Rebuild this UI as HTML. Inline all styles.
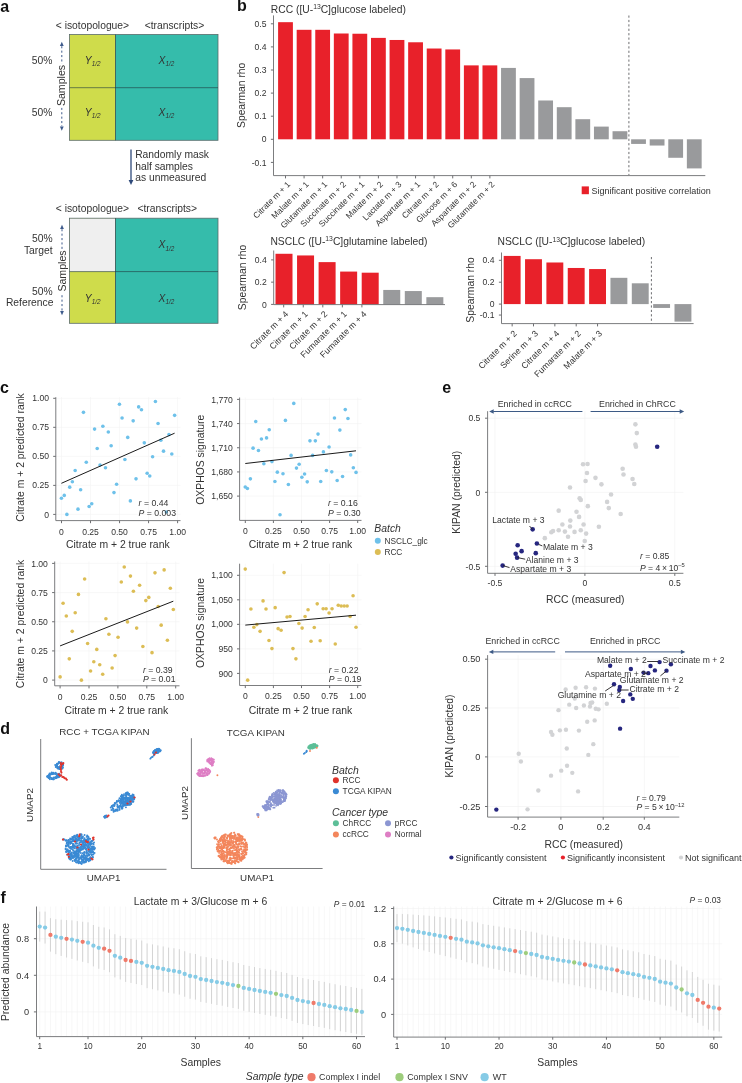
<!DOCTYPE html>
<html><head><meta charset="utf-8"><style>
html,body{margin:0;padding:0;background:#fff;}
svg{display:block;font-family:"Liberation Sans", sans-serif;will-change:transform;}
</style></head><body>
<svg width="742" height="1083" viewBox="0 0 742 1083">
<rect width="742" height="1083" fill="#fff"/>
<text transform="translate(0.30 11.80) scale(1 1)" font-size="16" font-weight="bold" fill="#111">a</text>
<text x="55.80" y="28.80" font-size="10.3" fill="#333333">&lt; isotopologue&gt;</text>
<text x="144.70" y="28.80" font-size="10.3" fill="#333333">&lt;transcripts&gt;</text>
<rect x="69.50" y="34.50" width="46.00" height="105.80" fill="#cfdc4b"/>
<rect x="115.50" y="34.50" width="102.50" height="105.80" fill="#35bcab"/>
<rect x="69.5" y="34.5" width="148.5" height="105.80000000000001" fill="none" stroke="#5a6b6b" stroke-width="0.8"/>
<line x1="69.50" y1="87.70" x2="218.00" y2="87.70" stroke="#1f3a40" stroke-width="1.0" stroke-opacity="0.6"/>
<line x1="115.50" y1="34.50" x2="115.50" y2="140.30" stroke="#1f3a40" stroke-width="1.0" stroke-opacity="0.7"/>
<text x="52.40" y="63.50" font-size="10.3" text-anchor="end" fill="#333333">50%</text>
<text x="52.40" y="115.60" font-size="10.3" text-anchor="end" fill="#333333">50%</text>
<text x="84.80" y="63.50" font-size="10.3" font-style="italic" fill="#333333">Y<tspan font-size="6.39" dy="2.8">1/2</tspan></text>
<text x="84.80" y="115.60" font-size="10.3" font-style="italic" fill="#333333">Y<tspan font-size="6.39" dy="2.8">1/2</tspan></text>
<text x="158.50" y="63.50" font-size="10.3" font-style="italic" fill="#333333">X<tspan font-size="6.39" dy="2.8">1/2</tspan></text>
<text x="158.50" y="115.60" font-size="10.3" font-style="italic" fill="#333333">X<tspan font-size="6.39" dy="2.8">1/2</tspan></text>
<line x1="61.80" y1="46.20" x2="61.80" y2="126.20" stroke="#3f5b8c" stroke-width="1.0" stroke-dasharray="2.1,2.3"/>
<path d="M59.9,45.900000000000006 L61.8,41.7 L63.699999999999996,45.900000000000006 Z" fill="#3f5b8c" stroke="none" stroke-width="1"/>
<path d="M59.9,126.49999999999999 L61.8,130.7 L63.699999999999996,126.49999999999999 Z" fill="#3f5b8c" stroke="none" stroke-width="1"/>
<rect x="56.80" y="63.50" width="10.00" height="44.00" fill="#fff"/>
<text x="65.40" y="85.50" font-size="10.6" text-anchor="middle" fill="#333333" transform="rotate(-90 65.40 85.50)">Samples</text>
<line x1="131.00" y1="149.50" x2="131.00" y2="181.00" stroke="#2f4a7a" stroke-width="1.3"/>
<path d="M128.6,180 L131,185 L133.4,180 Z" fill="#2f4a7a" stroke="none" stroke-width="1"/>
<text x="135.20" y="157.80" font-size="10.3" fill="#333333">Randomly mask</text>
<text x="135.20" y="169.60" font-size="10.3" fill="#333333">half samples</text>
<text x="135.20" y="181.40" font-size="10.3" fill="#333333">as unmeasured</text>
<text x="55.80" y="211.60" font-size="10.3" fill="#333333">&lt; isotopologue&gt;</text>
<text x="137.50" y="211.60" font-size="10.3" fill="#333333">&lt;transcripts&gt;</text>
<rect x="69.50" y="218.20" width="46.00" height="105.10" fill="#cfdc4b"/>
<rect x="69.50" y="218.20" width="46.00" height="53.40" fill="#efefef"/>
<rect x="115.50" y="218.20" width="102.50" height="105.10" fill="#35bcab"/>
<rect x="69.5" y="218.2" width="148.5" height="105.10000000000002" fill="none" stroke="#5a6b6b" stroke-width="0.8"/>
<line x1="69.50" y1="271.60" x2="218.00" y2="271.60" stroke="#1f3a40" stroke-width="1.0" stroke-opacity="0.6"/>
<line x1="115.50" y1="218.20" x2="115.50" y2="323.30" stroke="#1f3a40" stroke-width="1.0" stroke-opacity="0.7"/>
<text x="52.60" y="242.30" font-size="10.3" text-anchor="end" fill="#333333">50%</text>
<text x="52.60" y="253.90" font-size="10.3" text-anchor="end" fill="#333333">Target</text>
<text x="52.60" y="295.00" font-size="10.3" text-anchor="end" fill="#333333">50%</text>
<text x="53.40" y="306.40" font-size="10.3" text-anchor="end" fill="#333333">Reference</text>
<text x="158.50" y="248.30" font-size="10.3" font-style="italic" fill="#333333">X<tspan font-size="6.39" dy="2.8">1/2</tspan></text>
<text x="158.50" y="301.50" font-size="10.3" font-style="italic" fill="#333333">X<tspan font-size="6.39" dy="2.8">1/2</tspan></text>
<text x="84.80" y="301.50" font-size="10.3" font-style="italic" fill="#333333">Y<tspan font-size="6.39" dy="2.8">1/2</tspan></text>
<line x1="62.00" y1="229.20" x2="62.00" y2="310.70" stroke="#3f5b8c" stroke-width="1.0" stroke-dasharray="2.1,2.3"/>
<path d="M60.1,228.89999999999998 L62.0,224.7 L63.9,228.89999999999998 Z" fill="#3f5b8c" stroke="none" stroke-width="1"/>
<path d="M60.1,311.0 L62.0,315.2 L63.9,311.0 Z" fill="#3f5b8c" stroke="none" stroke-width="1"/>
<rect x="57.00" y="249.00" width="10.00" height="44.00" fill="#fff"/>
<text x="65.60" y="271.00" font-size="10.6" text-anchor="middle" fill="#333333" transform="rotate(-90 65.60 271.00)">Samples</text>
<text transform="translate(237.00 11.40) scale(1 1)" font-size="16" font-weight="bold" fill="#111">b</text>
<text x="270.80" y="12.60" font-size="10.3" fill="#333333">RCC ([U-<tspan font-size="6.80" dy="-3.8">13</tspan><tspan dy="3.8">C]glucose labeled)</tspan></text>
<g>
<line x1="270.90" y1="23.80" x2="273.50" y2="23.80" stroke="#6d6e71" stroke-width="1.0"/>
<text x="266.50" y="26.90" font-size="8.6" text-anchor="end" fill="#333333">0.5</text>
<line x1="270.90" y1="46.90" x2="273.50" y2="46.90" stroke="#6d6e71" stroke-width="1.0"/>
<text x="266.50" y="50.00" font-size="8.6" text-anchor="end" fill="#333333">0.4</text>
<line x1="270.90" y1="70.00" x2="273.50" y2="70.00" stroke="#6d6e71" stroke-width="1.0"/>
<text x="266.50" y="73.10" font-size="8.6" text-anchor="end" fill="#333333">0.3</text>
<line x1="270.90" y1="93.10" x2="273.50" y2="93.10" stroke="#6d6e71" stroke-width="1.0"/>
<text x="266.50" y="96.20" font-size="8.6" text-anchor="end" fill="#333333">0.2</text>
<line x1="270.90" y1="116.20" x2="273.50" y2="116.20" stroke="#6d6e71" stroke-width="1.0"/>
<text x="266.50" y="119.30" font-size="8.6" text-anchor="end" fill="#333333">0.1</text>
<line x1="270.90" y1="139.30" x2="273.50" y2="139.30" stroke="#6d6e71" stroke-width="1.0"/>
<text x="266.50" y="142.40" font-size="8.6" text-anchor="end" fill="#333333">0</text>
<line x1="270.90" y1="162.40" x2="273.50" y2="162.40" stroke="#6d6e71" stroke-width="1.0"/>
<text x="266.50" y="165.50" font-size="8.6" text-anchor="end" fill="#333333">-0.1</text>
<rect x="278.10" y="22.18" width="14.80" height="117.12" fill="#e8212a"/>
<rect x="296.68" y="29.81" width="14.80" height="109.49" fill="#e8212a"/>
<rect x="315.26" y="29.81" width="14.80" height="109.49" fill="#e8212a"/>
<rect x="333.84" y="33.50" width="14.80" height="105.80" fill="#e8212a"/>
<rect x="352.42" y="33.73" width="14.80" height="105.57" fill="#e8212a"/>
<rect x="371.00" y="37.89" width="14.80" height="101.41" fill="#e8212a"/>
<rect x="389.58" y="39.97" width="14.80" height="99.33" fill="#e8212a"/>
<rect x="408.16" y="42.28" width="14.80" height="97.02" fill="#e8212a"/>
<rect x="426.74" y="48.52" width="14.80" height="90.78" fill="#e8212a"/>
<rect x="445.32" y="49.44" width="14.80" height="89.86" fill="#e8212a"/>
<rect x="463.90" y="65.38" width="14.80" height="73.92" fill="#e8212a"/>
<rect x="482.48" y="65.38" width="14.80" height="73.92" fill="#e8212a"/>
<rect x="501.06" y="67.92" width="14.80" height="71.38" fill="#999a9c"/>
<rect x="519.64" y="78.09" width="14.80" height="61.22" fill="#999a9c"/>
<rect x="538.22" y="100.49" width="14.80" height="38.81" fill="#999a9c"/>
<rect x="556.80" y="107.19" width="14.80" height="32.11" fill="#999a9c"/>
<rect x="575.38" y="119.20" width="14.80" height="20.10" fill="#999a9c"/>
<rect x="593.96" y="126.60" width="14.80" height="12.71" fill="#999a9c"/>
<rect x="612.54" y="131.22" width="14.80" height="8.09" fill="#999a9c"/>
<rect x="631.12" y="139.30" width="14.80" height="4.62" fill="#999a9c"/>
<rect x="649.70" y="139.30" width="14.80" height="6.24" fill="#999a9c"/>
<rect x="668.28" y="139.30" width="14.80" height="18.48" fill="#999a9c"/>
<rect x="686.86" y="139.30" width="14.80" height="29.11" fill="#999a9c"/>
<line x1="273.50" y1="15.40" x2="273.50" y2="175.60" stroke="#6d6e71" stroke-width="0.9"/>
<line x1="273.50" y1="175.60" x2="705.30" y2="175.60" stroke="#6d6e71" stroke-width="0.9"/>
<line x1="285.50" y1="175.60" x2="285.50" y2="178.40" stroke="#6d6e71" stroke-width="1.0"/>
<text x="290.70" y="184.90" font-size="8.4" text-anchor="end" fill="#333333" transform="rotate(-45 290.70 184.90)">Citrate m + 1</text>
<line x1="304.08" y1="175.60" x2="304.08" y2="178.40" stroke="#6d6e71" stroke-width="1.0"/>
<text x="309.28" y="184.90" font-size="8.4" text-anchor="end" fill="#333333" transform="rotate(-45 309.28 184.90)">Malate m + 1</text>
<line x1="322.66" y1="175.60" x2="322.66" y2="178.40" stroke="#6d6e71" stroke-width="1.0"/>
<text x="327.86" y="184.90" font-size="8.4" text-anchor="end" fill="#333333" transform="rotate(-45 327.86 184.90)">Glutamate m + 1</text>
<line x1="341.24" y1="175.60" x2="341.24" y2="178.40" stroke="#6d6e71" stroke-width="1.0"/>
<text x="346.44" y="184.90" font-size="8.4" text-anchor="end" fill="#333333" transform="rotate(-45 346.44 184.90)">Succinate m + 2</text>
<line x1="359.82" y1="175.60" x2="359.82" y2="178.40" stroke="#6d6e71" stroke-width="1.0"/>
<text x="365.02" y="184.90" font-size="8.4" text-anchor="end" fill="#333333" transform="rotate(-45 365.02 184.90)">Succinate m + 1</text>
<line x1="378.40" y1="175.60" x2="378.40" y2="178.40" stroke="#6d6e71" stroke-width="1.0"/>
<text x="383.60" y="184.90" font-size="8.4" text-anchor="end" fill="#333333" transform="rotate(-45 383.60 184.90)">Malate m + 2</text>
<line x1="396.98" y1="175.60" x2="396.98" y2="178.40" stroke="#6d6e71" stroke-width="1.0"/>
<text x="402.18" y="184.90" font-size="8.4" text-anchor="end" fill="#333333" transform="rotate(-45 402.18 184.90)">Lactate m + 3</text>
<line x1="415.56" y1="175.60" x2="415.56" y2="178.40" stroke="#6d6e71" stroke-width="1.0"/>
<text x="420.76" y="184.90" font-size="8.4" text-anchor="end" fill="#333333" transform="rotate(-45 420.76 184.90)">Aspartate m + 1</text>
<line x1="434.14" y1="175.60" x2="434.14" y2="178.40" stroke="#6d6e71" stroke-width="1.0"/>
<text x="439.34" y="184.90" font-size="8.4" text-anchor="end" fill="#333333" transform="rotate(-45 439.34 184.90)">Citrate m + 2</text>
<line x1="452.72" y1="175.60" x2="452.72" y2="178.40" stroke="#6d6e71" stroke-width="1.0"/>
<text x="457.92" y="184.90" font-size="8.4" text-anchor="end" fill="#333333" transform="rotate(-45 457.92 184.90)">Glucose m + 6</text>
<line x1="471.30" y1="175.60" x2="471.30" y2="178.40" stroke="#6d6e71" stroke-width="1.0"/>
<text x="476.50" y="184.90" font-size="8.4" text-anchor="end" fill="#333333" transform="rotate(-45 476.50 184.90)">Aspartate m + 2</text>
<line x1="489.88" y1="175.60" x2="489.88" y2="178.40" stroke="#6d6e71" stroke-width="1.0"/>
<text x="495.08" y="184.90" font-size="8.4" text-anchor="end" fill="#333333" transform="rotate(-45 495.08 184.90)">Glutamate m + 2</text>
</g>
<line x1="628.90" y1="15.50" x2="628.90" y2="175.10" stroke="#6d6e71" stroke-width="1.0" stroke-dasharray="2.2,2.2"/>
<text x="244.60" y="95.30" font-size="10.3" text-anchor="middle" fill="#333333" transform="rotate(-90 244.60 95.30)">Spearman rho</text>
<rect x="581.70" y="186.40" width="7.20" height="7.80" fill="#e8212a"/>
<text x="591.60" y="193.60" font-size="9.0" fill="#333333">Significant positive correlation</text>
<text x="270.40" y="245.20" font-size="10.3" fill="#333333">NSCLC ([U-<tspan font-size="6.80" dy="-3.8">13</tspan><tspan dy="3.8">C]glutamine labeled)</tspan></text>
<line x1="271.10" y1="259.90" x2="273.70" y2="259.90" stroke="#6d6e71" stroke-width="1.0"/>
<text x="266.70" y="263.00" font-size="8.6" text-anchor="end" fill="#333333">0.4</text>
<line x1="271.10" y1="282.15" x2="273.70" y2="282.15" stroke="#6d6e71" stroke-width="1.0"/>
<text x="266.70" y="285.25" font-size="8.6" text-anchor="end" fill="#333333">0.2</text>
<line x1="271.10" y1="304.40" x2="273.70" y2="304.40" stroke="#6d6e71" stroke-width="1.0"/>
<text x="266.70" y="307.50" font-size="8.6" text-anchor="end" fill="#333333">0</text>
<rect x="275.50" y="253.78" width="17.00" height="50.62" fill="#e8212a"/>
<rect x="297.05" y="255.45" width="17.00" height="48.95" fill="#e8212a"/>
<rect x="318.60" y="262.12" width="17.00" height="42.27" fill="#e8212a"/>
<rect x="340.15" y="271.58" width="17.00" height="32.82" fill="#e8212a"/>
<rect x="361.70" y="272.69" width="17.00" height="31.71" fill="#e8212a"/>
<rect x="383.25" y="289.94" width="17.00" height="14.46" fill="#999a9c"/>
<rect x="404.80" y="291.05" width="17.00" height="13.35" fill="#999a9c"/>
<rect x="426.35" y="297.17" width="17.00" height="7.23" fill="#999a9c"/>
<line x1="273.70" y1="250.50" x2="273.70" y2="304.60" stroke="#6d6e71" stroke-width="0.9"/>
<line x1="273.70" y1="304.60" x2="445.00" y2="304.60" stroke="#6d6e71" stroke-width="0.9"/>
<line x1="283.70" y1="304.60" x2="283.70" y2="307.40" stroke="#6d6e71" stroke-width="1.0"/>
<text x="288.90" y="314.60" font-size="8.7" text-anchor="end" fill="#333333" transform="rotate(-45 288.90 314.60)">Citrate m + 4</text>
<line x1="303.25" y1="304.60" x2="303.25" y2="307.40" stroke="#6d6e71" stroke-width="1.0"/>
<text x="308.45" y="314.60" font-size="8.7" text-anchor="end" fill="#333333" transform="rotate(-45 308.45 314.60)">Citrate m + 1</text>
<line x1="322.80" y1="304.60" x2="322.80" y2="307.40" stroke="#6d6e71" stroke-width="1.0"/>
<text x="328.00" y="314.60" font-size="8.7" text-anchor="end" fill="#333333" transform="rotate(-45 328.00 314.60)">Citrate m + 2</text>
<line x1="342.35" y1="304.60" x2="342.35" y2="307.40" stroke="#6d6e71" stroke-width="1.0"/>
<text x="347.55" y="314.60" font-size="8.7" text-anchor="end" fill="#333333" transform="rotate(-45 347.55 314.60)">Fumarate m + 1</text>
<line x1="361.90" y1="304.60" x2="361.90" y2="307.40" stroke="#6d6e71" stroke-width="1.0"/>
<text x="367.10" y="314.60" font-size="8.7" text-anchor="end" fill="#333333" transform="rotate(-45 367.10 314.60)">Fumarate m + 4</text>
<text x="245.60" y="277.50" font-size="10.3" text-anchor="middle" fill="#333333" transform="rotate(-90 245.60 277.50)">Spearman rho</text>
<text x="497.50" y="245.40" font-size="10.3" fill="#333333">NSCLC ([U-<tspan font-size="6.80" dy="-3.8">13</tspan><tspan dy="3.8">C]glucose labeled)</tspan></text>
<line x1="498.90" y1="260.30" x2="501.50" y2="260.30" stroke="#6d6e71" stroke-width="1.0"/>
<text x="494.50" y="263.40" font-size="8.6" text-anchor="end" fill="#333333">0.4</text>
<line x1="498.90" y1="282.20" x2="501.50" y2="282.20" stroke="#6d6e71" stroke-width="1.0"/>
<text x="494.50" y="285.30" font-size="8.6" text-anchor="end" fill="#333333">0.2</text>
<line x1="498.90" y1="304.10" x2="501.50" y2="304.10" stroke="#6d6e71" stroke-width="1.0"/>
<text x="494.50" y="307.20" font-size="8.6" text-anchor="end" fill="#333333">0</text>
<line x1="498.90" y1="315.05" x2="501.50" y2="315.05" stroke="#6d6e71" stroke-width="1.0"/>
<text x="494.50" y="318.15" font-size="8.6" text-anchor="end" fill="#333333">-0.1</text>
<rect x="503.70" y="255.92" width="16.90" height="48.18" fill="#e8212a"/>
<rect x="525.05" y="259.21" width="16.90" height="44.90" fill="#e8212a"/>
<rect x="546.40" y="262.49" width="16.90" height="41.61" fill="#e8212a"/>
<rect x="567.75" y="267.97" width="16.90" height="36.14" fill="#e8212a"/>
<rect x="589.10" y="269.06" width="16.90" height="35.04" fill="#e8212a"/>
<rect x="610.45" y="277.82" width="16.90" height="26.28" fill="#999a9c"/>
<rect x="631.80" y="283.30" width="16.90" height="20.81" fill="#999a9c"/>
<rect x="653.15" y="304.10" width="16.90" height="3.83" fill="#999a9c"/>
<rect x="674.50" y="304.10" width="16.90" height="17.52" fill="#999a9c"/>
<line x1="501.50" y1="252.50" x2="501.50" y2="323.60" stroke="#6d6e71" stroke-width="0.9"/>
<line x1="501.50" y1="323.60" x2="693.60" y2="323.60" stroke="#6d6e71" stroke-width="0.9"/>
<line x1="512.15" y1="323.60" x2="512.15" y2="326.40" stroke="#6d6e71" stroke-width="1.0"/>
<text x="517.35" y="334.10" font-size="8.7" text-anchor="end" fill="#333333" transform="rotate(-45 517.35 334.10)">Citrate m + 2</text>
<line x1="533.50" y1="323.60" x2="533.50" y2="326.40" stroke="#6d6e71" stroke-width="1.0"/>
<text x="538.70" y="334.10" font-size="8.7" text-anchor="end" fill="#333333" transform="rotate(-45 538.70 334.10)">Serine m + 3</text>
<line x1="554.85" y1="323.60" x2="554.85" y2="326.40" stroke="#6d6e71" stroke-width="1.0"/>
<text x="560.05" y="334.10" font-size="8.7" text-anchor="end" fill="#333333" transform="rotate(-45 560.05 334.10)">Citrate m + 4</text>
<line x1="576.20" y1="323.60" x2="576.20" y2="326.40" stroke="#6d6e71" stroke-width="1.0"/>
<text x="581.40" y="334.10" font-size="8.7" text-anchor="end" fill="#333333" transform="rotate(-45 581.40 334.10)">Fumarate m + 2</text>
<line x1="597.55" y1="323.60" x2="597.55" y2="326.40" stroke="#6d6e71" stroke-width="1.0"/>
<text x="602.75" y="334.10" font-size="8.7" text-anchor="end" fill="#333333" transform="rotate(-45 602.75 334.10)">Malate m + 3</text>
<line x1="651.40" y1="257.00" x2="651.40" y2="323.60" stroke="#6d6e71" stroke-width="1.0" stroke-dasharray="2.2,2.2"/>
<text x="474.00" y="290.00" font-size="10.3" text-anchor="middle" fill="#333333" transform="rotate(-90 474.00 290.00)">Spearman rho</text>
<text transform="translate(0.00 392.90) scale(1 1)" font-size="16" font-weight="bold" fill="#111">c</text>
<line x1="61.50" y1="397.20" x2="61.50" y2="520.60" stroke="#f3f3f3" stroke-width="0.6"/>
<line x1="90.53" y1="397.20" x2="90.53" y2="520.60" stroke="#f3f3f3" stroke-width="0.6"/>
<line x1="119.55" y1="397.20" x2="119.55" y2="520.60" stroke="#f3f3f3" stroke-width="0.6"/>
<line x1="148.57" y1="397.20" x2="148.57" y2="520.60" stroke="#f3f3f3" stroke-width="0.6"/>
<line x1="177.60" y1="397.20" x2="177.60" y2="520.60" stroke="#f3f3f3" stroke-width="0.6"/>
<line x1="55.80" y1="514.40" x2="180.50" y2="514.40" stroke="#f3f3f3" stroke-width="0.6"/>
<line x1="55.80" y1="485.38" x2="180.50" y2="485.38" stroke="#f3f3f3" stroke-width="0.6"/>
<line x1="55.80" y1="456.35" x2="180.50" y2="456.35" stroke="#f3f3f3" stroke-width="0.6"/>
<line x1="55.80" y1="427.32" x2="180.50" y2="427.32" stroke="#f3f3f3" stroke-width="0.6"/>
<line x1="55.80" y1="398.30" x2="180.50" y2="398.30" stroke="#f3f3f3" stroke-width="0.6"/>
<circle cx="61.43" cy="498.25" r="1.8" fill="#6ec1ea"/>
<circle cx="64.26" cy="495.42" r="1.8" fill="#6ec1ea"/>
<circle cx="66.88" cy="514.42" r="1.8" fill="#6ec1ea"/>
<circle cx="69.71" cy="487.14" r="1.8" fill="#6ec1ea"/>
<circle cx="72.34" cy="481.68" r="1.8" fill="#6ec1ea"/>
<circle cx="75.17" cy="470.56" r="1.8" fill="#6ec1ea"/>
<circle cx="78.00" cy="509.17" r="1.8" fill="#6ec1ea"/>
<circle cx="80.63" cy="489.76" r="1.8" fill="#6ec1ea"/>
<circle cx="83.46" cy="412.34" r="1.8" fill="#6ec1ea"/>
<circle cx="86.29" cy="462.27" r="1.8" fill="#6ec1ea"/>
<circle cx="89.12" cy="506.54" r="1.8" fill="#6ec1ea"/>
<circle cx="91.75" cy="503.71" r="1.8" fill="#6ec1ea"/>
<circle cx="94.58" cy="429.12" r="1.8" fill="#6ec1ea"/>
<circle cx="97.21" cy="448.53" r="1.8" fill="#6ec1ea"/>
<circle cx="100.04" cy="465.10" r="1.8" fill="#6ec1ea"/>
<circle cx="102.87" cy="426.29" r="1.8" fill="#6ec1ea"/>
<circle cx="105.49" cy="467.73" r="1.8" fill="#6ec1ea"/>
<circle cx="108.32" cy="431.95" r="1.8" fill="#6ec1ea"/>
<circle cx="111.15" cy="445.70" r="1.8" fill="#6ec1ea"/>
<circle cx="113.98" cy="492.59" r="1.8" fill="#6ec1ea"/>
<circle cx="116.61" cy="484.31" r="1.8" fill="#6ec1ea"/>
<circle cx="119.44" cy="404.26" r="1.8" fill="#6ec1ea"/>
<circle cx="122.07" cy="418.00" r="1.8" fill="#6ec1ea"/>
<circle cx="124.90" cy="459.44" r="1.8" fill="#6ec1ea"/>
<circle cx="127.73" cy="437.41" r="1.8" fill="#6ec1ea"/>
<circle cx="130.36" cy="500.88" r="1.8" fill="#6ec1ea"/>
<circle cx="133.19" cy="420.83" r="1.8" fill="#6ec1ea"/>
<circle cx="136.02" cy="478.85" r="1.8" fill="#6ec1ea"/>
<circle cx="138.65" cy="406.88" r="1.8" fill="#6ec1ea"/>
<circle cx="141.48" cy="409.71" r="1.8" fill="#6ec1ea"/>
<circle cx="144.31" cy="442.87" r="1.8" fill="#6ec1ea"/>
<circle cx="147.14" cy="473.19" r="1.8" fill="#6ec1ea"/>
<circle cx="149.76" cy="476.02" r="1.8" fill="#6ec1ea"/>
<circle cx="152.59" cy="456.81" r="1.8" fill="#6ec1ea"/>
<circle cx="155.42" cy="401.43" r="1.8" fill="#6ec1ea"/>
<circle cx="158.05" cy="423.46" r="1.8" fill="#6ec1ea"/>
<circle cx="160.88" cy="440.24" r="1.8" fill="#6ec1ea"/>
<circle cx="163.51" cy="451.15" r="1.8" fill="#6ec1ea"/>
<circle cx="166.34" cy="512.00" r="1.8" fill="#6ec1ea"/>
<circle cx="168.97" cy="434.58" r="1.8" fill="#6ec1ea"/>
<circle cx="171.80" cy="453.98" r="1.8" fill="#6ec1ea"/>
<circle cx="174.63" cy="415.37" r="1.8" fill="#6ec1ea"/>
<line x1="61.40" y1="483.30" x2="174.60" y2="433.20" stroke="#1a1a1a" stroke-width="1.0"/>
<line x1="55.80" y1="397.20" x2="55.80" y2="520.60" stroke="#6d6e71" stroke-width="0.9"/>
<line x1="55.80" y1="520.60" x2="180.50" y2="520.60" stroke="#6d6e71" stroke-width="0.9"/>
<line x1="61.50" y1="520.60" x2="61.50" y2="523.20" stroke="#6d6e71" stroke-width="1.0"/>
<text x="61.50" y="534.50" font-size="8.6" text-anchor="middle" fill="#333333">0</text>
<line x1="90.53" y1="520.60" x2="90.53" y2="523.20" stroke="#6d6e71" stroke-width="1.0"/>
<text x="90.53" y="534.50" font-size="8.6" text-anchor="middle" fill="#333333">0.25</text>
<line x1="119.55" y1="520.60" x2="119.55" y2="523.20" stroke="#6d6e71" stroke-width="1.0"/>
<text x="119.55" y="534.50" font-size="8.6" text-anchor="middle" fill="#333333">0.50</text>
<line x1="148.57" y1="520.60" x2="148.57" y2="523.20" stroke="#6d6e71" stroke-width="1.0"/>
<text x="148.57" y="534.50" font-size="8.6" text-anchor="middle" fill="#333333">0.75</text>
<line x1="177.60" y1="520.60" x2="177.60" y2="523.20" stroke="#6d6e71" stroke-width="1.0"/>
<text x="177.60" y="534.50" font-size="8.6" text-anchor="middle" fill="#333333">1.00</text>
<line x1="53.20" y1="514.40" x2="55.80" y2="514.40" stroke="#6d6e71" stroke-width="1.0"/>
<text x="49.00" y="517.50" font-size="8.6" text-anchor="end" fill="#333333">0</text>
<line x1="53.20" y1="485.38" x2="55.80" y2="485.38" stroke="#6d6e71" stroke-width="1.0"/>
<text x="49.00" y="488.48" font-size="8.6" text-anchor="end" fill="#333333">0.25</text>
<line x1="53.20" y1="456.35" x2="55.80" y2="456.35" stroke="#6d6e71" stroke-width="1.0"/>
<text x="49.00" y="459.45" font-size="8.6" text-anchor="end" fill="#333333">0.50</text>
<line x1="53.20" y1="427.32" x2="55.80" y2="427.32" stroke="#6d6e71" stroke-width="1.0"/>
<text x="49.00" y="430.43" font-size="8.6" text-anchor="end" fill="#333333">0.75</text>
<line x1="53.20" y1="398.30" x2="55.80" y2="398.30" stroke="#6d6e71" stroke-width="1.0"/>
<text x="49.00" y="401.40" font-size="8.6" text-anchor="end" fill="#333333">1.00</text>
<text x="138.60" y="506.10" font-size="8.7" fill="#333333"><tspan font-style="italic">r</tspan> = 0.44</text>
<text x="138.60" y="515.70" font-size="8.7" fill="#333333"><tspan font-style="italic">P</tspan> = 0.003</text>
<text x="117.80" y="548.20" font-size="10.4" text-anchor="middle" fill="#333333">Citrate m + 2 true rank</text>
<text x="23.70" y="457.60" font-size="10.4" text-anchor="middle" fill="#333333" transform="rotate(-90 23.70 457.60)">Citrate m + 2 predicted rank</text>
<line x1="245.30" y1="397.50" x2="245.30" y2="520.40" stroke="#f3f3f3" stroke-width="0.6"/>
<line x1="273.40" y1="397.50" x2="273.40" y2="520.40" stroke="#f3f3f3" stroke-width="0.6"/>
<line x1="301.50" y1="397.50" x2="301.50" y2="520.40" stroke="#f3f3f3" stroke-width="0.6"/>
<line x1="329.60" y1="397.50" x2="329.60" y2="520.40" stroke="#f3f3f3" stroke-width="0.6"/>
<line x1="357.70" y1="397.50" x2="357.70" y2="520.40" stroke="#f3f3f3" stroke-width="0.6"/>
<line x1="239.60" y1="399.40" x2="361.50" y2="399.40" stroke="#f3f3f3" stroke-width="0.6"/>
<line x1="239.60" y1="423.57" x2="361.50" y2="423.57" stroke="#f3f3f3" stroke-width="0.6"/>
<line x1="239.60" y1="447.75" x2="361.50" y2="447.75" stroke="#f3f3f3" stroke-width="0.6"/>
<line x1="239.60" y1="471.93" x2="361.50" y2="471.93" stroke="#f3f3f3" stroke-width="0.6"/>
<line x1="239.60" y1="496.10" x2="361.50" y2="496.10" stroke="#f3f3f3" stroke-width="0.6"/>
<circle cx="245.26" cy="486.95" r="1.8" fill="#6ec1ea"/>
<circle cx="247.41" cy="488.57" r="1.8" fill="#6ec1ea"/>
<circle cx="250.38" cy="478.87" r="1.8" fill="#6ec1ea"/>
<circle cx="253.07" cy="448.14" r="1.8" fill="#6ec1ea"/>
<circle cx="255.77" cy="421.46" r="1.8" fill="#6ec1ea"/>
<circle cx="258.46" cy="450.57" r="1.8" fill="#6ec1ea"/>
<circle cx="261.43" cy="438.98" r="1.8" fill="#6ec1ea"/>
<circle cx="263.85" cy="463.77" r="1.8" fill="#6ec1ea"/>
<circle cx="266.55" cy="437.90" r="1.8" fill="#6ec1ea"/>
<circle cx="269.25" cy="429.81" r="1.8" fill="#6ec1ea"/>
<circle cx="271.94" cy="461.62" r="1.8" fill="#6ec1ea"/>
<circle cx="274.91" cy="481.56" r="1.8" fill="#6ec1ea"/>
<circle cx="277.33" cy="472.13" r="1.8" fill="#6ec1ea"/>
<circle cx="280.03" cy="514.72" r="1.8" fill="#6ec1ea"/>
<circle cx="282.99" cy="473.75" r="1.8" fill="#6ec1ea"/>
<circle cx="285.42" cy="420.38" r="1.8" fill="#6ec1ea"/>
<circle cx="288.38" cy="484.53" r="1.8" fill="#6ec1ea"/>
<circle cx="291.08" cy="455.42" r="1.8" fill="#6ec1ea"/>
<circle cx="293.77" cy="403.40" r="1.8" fill="#6ec1ea"/>
<circle cx="296.47" cy="468.09" r="1.8" fill="#6ec1ea"/>
<circle cx="299.16" cy="464.31" r="1.8" fill="#6ec1ea"/>
<circle cx="301.86" cy="477.25" r="1.8" fill="#6ec1ea"/>
<circle cx="304.56" cy="474.02" r="1.8" fill="#6ec1ea"/>
<circle cx="307.25" cy="481.83" r="1.8" fill="#6ec1ea"/>
<circle cx="309.95" cy="440.86" r="1.8" fill="#6ec1ea"/>
<circle cx="312.64" cy="455.42" r="1.8" fill="#6ec1ea"/>
<circle cx="315.34" cy="440.86" r="1.8" fill="#6ec1ea"/>
<circle cx="318.03" cy="434.12" r="1.8" fill="#6ec1ea"/>
<circle cx="320.73" cy="481.56" r="1.8" fill="#6ec1ea"/>
<circle cx="323.42" cy="451.91" r="1.8" fill="#6ec1ea"/>
<circle cx="326.39" cy="470.51" r="1.8" fill="#6ec1ea"/>
<circle cx="329.08" cy="447.06" r="1.8" fill="#6ec1ea"/>
<circle cx="331.78" cy="471.86" r="1.8" fill="#6ec1ea"/>
<circle cx="334.47" cy="417.95" r="1.8" fill="#6ec1ea"/>
<circle cx="337.17" cy="480.49" r="1.8" fill="#6ec1ea"/>
<circle cx="339.87" cy="430.08" r="1.8" fill="#6ec1ea"/>
<circle cx="342.56" cy="476.44" r="1.8" fill="#6ec1ea"/>
<circle cx="345.26" cy="409.60" r="1.8" fill="#6ec1ea"/>
<circle cx="347.95" cy="418.49" r="1.8" fill="#6ec1ea"/>
<circle cx="350.65" cy="454.88" r="1.8" fill="#6ec1ea"/>
<circle cx="353.34" cy="467.82" r="1.8" fill="#6ec1ea"/>
<circle cx="356.04" cy="472.40" r="1.8" fill="#6ec1ea"/>
<line x1="245.30" y1="463.50" x2="356.00" y2="450.80" stroke="#1a1a1a" stroke-width="1.0"/>
<line x1="239.60" y1="397.50" x2="239.60" y2="520.40" stroke="#6d6e71" stroke-width="0.9"/>
<line x1="239.60" y1="520.40" x2="361.50" y2="520.40" stroke="#6d6e71" stroke-width="0.9"/>
<line x1="245.30" y1="520.40" x2="245.30" y2="523.00" stroke="#6d6e71" stroke-width="1.0"/>
<text x="245.30" y="534.30" font-size="8.6" text-anchor="middle" fill="#333333">0</text>
<line x1="273.40" y1="520.40" x2="273.40" y2="523.00" stroke="#6d6e71" stroke-width="1.0"/>
<text x="273.40" y="534.30" font-size="8.6" text-anchor="middle" fill="#333333">0.25</text>
<line x1="301.50" y1="520.40" x2="301.50" y2="523.00" stroke="#6d6e71" stroke-width="1.0"/>
<text x="301.50" y="534.30" font-size="8.6" text-anchor="middle" fill="#333333">0.50</text>
<line x1="329.60" y1="520.40" x2="329.60" y2="523.00" stroke="#6d6e71" stroke-width="1.0"/>
<text x="329.60" y="534.30" font-size="8.6" text-anchor="middle" fill="#333333">0.75</text>
<line x1="357.70" y1="520.40" x2="357.70" y2="523.00" stroke="#6d6e71" stroke-width="1.0"/>
<text x="357.70" y="534.30" font-size="8.6" text-anchor="middle" fill="#333333">1.00</text>
<line x1="237.00" y1="399.40" x2="239.60" y2="399.40" stroke="#6d6e71" stroke-width="1.0"/>
<text x="232.80" y="402.50" font-size="8.6" text-anchor="end" fill="#333333">1,770</text>
<line x1="237.00" y1="423.57" x2="239.60" y2="423.57" stroke="#6d6e71" stroke-width="1.0"/>
<text x="232.80" y="426.68" font-size="8.6" text-anchor="end" fill="#333333">1,740</text>
<line x1="237.00" y1="447.75" x2="239.60" y2="447.75" stroke="#6d6e71" stroke-width="1.0"/>
<text x="232.80" y="450.85" font-size="8.6" text-anchor="end" fill="#333333">1,710</text>
<line x1="237.00" y1="471.93" x2="239.60" y2="471.93" stroke="#6d6e71" stroke-width="1.0"/>
<text x="232.80" y="475.03" font-size="8.6" text-anchor="end" fill="#333333">1,680</text>
<line x1="237.00" y1="496.10" x2="239.60" y2="496.10" stroke="#6d6e71" stroke-width="1.0"/>
<text x="232.80" y="499.20" font-size="8.6" text-anchor="end" fill="#333333">1,650</text>
<text x="328.00" y="506.30" font-size="8.7" fill="#333333"><tspan font-style="italic">r</tspan> = 0.16</text>
<text x="328.00" y="515.90" font-size="8.7" fill="#333333"><tspan font-style="italic">P</tspan> = 0.30</text>
<text x="300.50" y="548.30" font-size="10.4" text-anchor="middle" fill="#333333">Citrate m + 2 true rank</text>
<text x="204.00" y="459.70" font-size="10.4" text-anchor="middle" fill="#333333" transform="rotate(-90 204.00 459.70)">OXPHOS signature</text>
<line x1="60.10" y1="561.50" x2="60.10" y2="685.80" stroke="#f3f3f3" stroke-width="0.6"/>
<line x1="89.00" y1="561.50" x2="89.00" y2="685.80" stroke="#f3f3f3" stroke-width="0.6"/>
<line x1="117.90" y1="561.50" x2="117.90" y2="685.80" stroke="#f3f3f3" stroke-width="0.6"/>
<line x1="146.80" y1="561.50" x2="146.80" y2="685.80" stroke="#f3f3f3" stroke-width="0.6"/>
<line x1="175.70" y1="561.50" x2="175.70" y2="685.80" stroke="#f3f3f3" stroke-width="0.6"/>
<line x1="54.70" y1="680.10" x2="179.50" y2="680.10" stroke="#f3f3f3" stroke-width="0.6"/>
<line x1="54.70" y1="650.92" x2="179.50" y2="650.92" stroke="#f3f3f3" stroke-width="0.6"/>
<line x1="54.70" y1="621.75" x2="179.50" y2="621.75" stroke="#f3f3f3" stroke-width="0.6"/>
<line x1="54.70" y1="592.58" x2="179.50" y2="592.58" stroke="#f3f3f3" stroke-width="0.6"/>
<line x1="54.70" y1="563.40" x2="179.50" y2="563.40" stroke="#f3f3f3" stroke-width="0.6"/>
<circle cx="60.11" cy="676.90" r="1.8" fill="#dcbd55"/>
<circle cx="63.07" cy="603.32" r="1.8" fill="#dcbd55"/>
<circle cx="66.31" cy="615.98" r="1.8" fill="#dcbd55"/>
<circle cx="69.27" cy="658.84" r="1.8" fill="#dcbd55"/>
<circle cx="72.24" cy="631.35" r="1.8" fill="#dcbd55"/>
<circle cx="75.20" cy="612.75" r="1.8" fill="#dcbd55"/>
<circle cx="78.44" cy="594.42" r="1.8" fill="#dcbd55"/>
<circle cx="81.40" cy="680.13" r="1.8" fill="#dcbd55"/>
<circle cx="84.64" cy="579.06" r="1.8" fill="#dcbd55"/>
<circle cx="87.60" cy="643.48" r="1.8" fill="#dcbd55"/>
<circle cx="90.57" cy="670.97" r="1.8" fill="#dcbd55"/>
<circle cx="93.80" cy="661.81" r="1.8" fill="#dcbd55"/>
<circle cx="96.77" cy="649.41" r="1.8" fill="#dcbd55"/>
<circle cx="99.73" cy="664.77" r="1.8" fill="#dcbd55"/>
<circle cx="102.70" cy="674.20" r="1.8" fill="#dcbd55"/>
<circle cx="105.93" cy="618.68" r="1.8" fill="#dcbd55"/>
<circle cx="108.89" cy="634.31" r="1.8" fill="#dcbd55"/>
<circle cx="112.13" cy="668.01" r="1.8" fill="#dcbd55"/>
<circle cx="115.09" cy="655.61" r="1.8" fill="#dcbd55"/>
<circle cx="118.06" cy="637.28" r="1.8" fill="#dcbd55"/>
<circle cx="121.29" cy="582.02" r="1.8" fill="#dcbd55"/>
<circle cx="124.26" cy="566.93" r="1.8" fill="#dcbd55"/>
<circle cx="127.49" cy="621.91" r="1.8" fill="#dcbd55"/>
<circle cx="130.46" cy="576.09" r="1.8" fill="#dcbd55"/>
<circle cx="133.42" cy="591.19" r="1.8" fill="#dcbd55"/>
<circle cx="136.66" cy="628.11" r="1.8" fill="#dcbd55"/>
<circle cx="139.62" cy="585.26" r="1.8" fill="#dcbd55"/>
<circle cx="142.86" cy="646.44" r="1.8" fill="#dcbd55"/>
<circle cx="145.82" cy="600.62" r="1.8" fill="#dcbd55"/>
<circle cx="148.79" cy="597.39" r="1.8" fill="#dcbd55"/>
<circle cx="152.02" cy="652.64" r="1.8" fill="#dcbd55"/>
<circle cx="154.99" cy="572.86" r="1.8" fill="#dcbd55"/>
<circle cx="158.22" cy="606.55" r="1.8" fill="#dcbd55"/>
<circle cx="161.19" cy="625.15" r="1.8" fill="#dcbd55"/>
<circle cx="164.15" cy="569.89" r="1.8" fill="#dcbd55"/>
<circle cx="167.39" cy="640.24" r="1.8" fill="#dcbd55"/>
<circle cx="170.35" cy="588.22" r="1.8" fill="#dcbd55"/>
<circle cx="173.32" cy="609.51" r="1.8" fill="#dcbd55"/>
<line x1="60.10" y1="645.90" x2="173.30" y2="601.20" stroke="#1a1a1a" stroke-width="1.0"/>
<line x1="54.70" y1="561.50" x2="54.70" y2="685.80" stroke="#6d6e71" stroke-width="0.9"/>
<line x1="54.70" y1="685.80" x2="179.50" y2="685.80" stroke="#6d6e71" stroke-width="0.9"/>
<line x1="60.10" y1="685.80" x2="60.10" y2="688.40" stroke="#6d6e71" stroke-width="1.0"/>
<text x="60.10" y="699.70" font-size="8.6" text-anchor="middle" fill="#333333">0</text>
<line x1="89.00" y1="685.80" x2="89.00" y2="688.40" stroke="#6d6e71" stroke-width="1.0"/>
<text x="89.00" y="699.70" font-size="8.6" text-anchor="middle" fill="#333333">0.25</text>
<line x1="117.90" y1="685.80" x2="117.90" y2="688.40" stroke="#6d6e71" stroke-width="1.0"/>
<text x="117.90" y="699.70" font-size="8.6" text-anchor="middle" fill="#333333">0.50</text>
<line x1="146.80" y1="685.80" x2="146.80" y2="688.40" stroke="#6d6e71" stroke-width="1.0"/>
<text x="146.80" y="699.70" font-size="8.6" text-anchor="middle" fill="#333333">0.75</text>
<line x1="175.70" y1="685.80" x2="175.70" y2="688.40" stroke="#6d6e71" stroke-width="1.0"/>
<text x="175.70" y="699.70" font-size="8.6" text-anchor="middle" fill="#333333">1.00</text>
<line x1="52.10" y1="680.10" x2="54.70" y2="680.10" stroke="#6d6e71" stroke-width="1.0"/>
<text x="47.90" y="683.20" font-size="8.6" text-anchor="end" fill="#333333">0</text>
<line x1="52.10" y1="650.92" x2="54.70" y2="650.92" stroke="#6d6e71" stroke-width="1.0"/>
<text x="47.90" y="654.02" font-size="8.6" text-anchor="end" fill="#333333">0.25</text>
<line x1="52.10" y1="621.75" x2="54.70" y2="621.75" stroke="#6d6e71" stroke-width="1.0"/>
<text x="47.90" y="624.85" font-size="8.6" text-anchor="end" fill="#333333">0.50</text>
<line x1="52.10" y1="592.58" x2="54.70" y2="592.58" stroke="#6d6e71" stroke-width="1.0"/>
<text x="47.90" y="595.68" font-size="8.6" text-anchor="end" fill="#333333">0.75</text>
<line x1="52.10" y1="563.40" x2="54.70" y2="563.40" stroke="#6d6e71" stroke-width="1.0"/>
<text x="47.90" y="566.50" font-size="8.6" text-anchor="end" fill="#333333">1.00</text>
<text x="142.90" y="672.80" font-size="8.7" fill="#333333"><tspan font-style="italic">r</tspan> = 0.39</text>
<text x="142.90" y="682.40" font-size="8.7" fill="#333333"><tspan font-style="italic">P</tspan> = 0.01</text>
<text x="116.40" y="713.50" font-size="10.4" text-anchor="middle" fill="#333333">Citrate m + 2 true rank</text>
<text x="23.60" y="624.00" font-size="10.4" text-anchor="middle" fill="#333333" transform="rotate(-90 23.60 624.00)">Citrate m + 2 predicted rank</text>
<line x1="245.30" y1="563.70" x2="245.30" y2="685.50" stroke="#f3f3f3" stroke-width="0.6"/>
<line x1="273.40" y1="563.70" x2="273.40" y2="685.50" stroke="#f3f3f3" stroke-width="0.6"/>
<line x1="301.50" y1="563.70" x2="301.50" y2="685.50" stroke="#f3f3f3" stroke-width="0.6"/>
<line x1="329.60" y1="563.70" x2="329.60" y2="685.50" stroke="#f3f3f3" stroke-width="0.6"/>
<line x1="357.70" y1="563.70" x2="357.70" y2="685.50" stroke="#f3f3f3" stroke-width="0.6"/>
<line x1="239.60" y1="575.30" x2="361.50" y2="575.30" stroke="#f3f3f3" stroke-width="0.6"/>
<line x1="239.60" y1="599.82" x2="361.50" y2="599.82" stroke="#f3f3f3" stroke-width="0.6"/>
<line x1="239.60" y1="624.35" x2="361.50" y2="624.35" stroke="#f3f3f3" stroke-width="0.6"/>
<line x1="239.60" y1="648.88" x2="361.50" y2="648.88" stroke="#f3f3f3" stroke-width="0.6"/>
<line x1="239.60" y1="673.40" x2="361.50" y2="673.40" stroke="#f3f3f3" stroke-width="0.6"/>
<circle cx="245.26" cy="569.08" r="1.8" fill="#dcbd55"/>
<circle cx="247.68" cy="680.13" r="1.8" fill="#dcbd55"/>
<circle cx="250.92" cy="608.98" r="1.8" fill="#dcbd55"/>
<circle cx="253.88" cy="627.30" r="1.8" fill="#dcbd55"/>
<circle cx="256.85" cy="624.61" r="1.8" fill="#dcbd55"/>
<circle cx="260.08" cy="631.35" r="1.8" fill="#dcbd55"/>
<circle cx="263.05" cy="600.89" r="1.8" fill="#dcbd55"/>
<circle cx="266.01" cy="608.98" r="1.8" fill="#dcbd55"/>
<circle cx="268.98" cy="640.51" r="1.8" fill="#dcbd55"/>
<circle cx="271.94" cy="648.60" r="1.8" fill="#dcbd55"/>
<circle cx="275.18" cy="607.63" r="1.8" fill="#dcbd55"/>
<circle cx="278.14" cy="628.65" r="1.8" fill="#dcbd55"/>
<circle cx="281.11" cy="630.27" r="1.8" fill="#dcbd55"/>
<circle cx="284.07" cy="572.59" r="1.8" fill="#dcbd55"/>
<circle cx="287.04" cy="617.06" r="1.8" fill="#dcbd55"/>
<circle cx="290.00" cy="616.52" r="1.8" fill="#dcbd55"/>
<circle cx="292.96" cy="648.60" r="1.8" fill="#dcbd55"/>
<circle cx="295.93" cy="658.84" r="1.8" fill="#dcbd55"/>
<circle cx="298.89" cy="623.53" r="1.8" fill="#dcbd55"/>
<circle cx="302.13" cy="628.11" r="1.8" fill="#dcbd55"/>
<circle cx="305.09" cy="616.52" r="1.8" fill="#dcbd55"/>
<circle cx="308.06" cy="609.78" r="1.8" fill="#dcbd55"/>
<circle cx="311.02" cy="641.32" r="1.8" fill="#dcbd55"/>
<circle cx="314.26" cy="627.57" r="1.8" fill="#dcbd55"/>
<circle cx="317.22" cy="603.85" r="1.8" fill="#dcbd55"/>
<circle cx="320.19" cy="640.78" r="1.8" fill="#dcbd55"/>
<circle cx="323.15" cy="608.71" r="1.8" fill="#dcbd55"/>
<circle cx="326.12" cy="608.71" r="1.8" fill="#dcbd55"/>
<circle cx="329.08" cy="613.02" r="1.8" fill="#dcbd55"/>
<circle cx="332.05" cy="608.71" r="1.8" fill="#dcbd55"/>
<circle cx="335.28" cy="644.02" r="1.8" fill="#dcbd55"/>
<circle cx="338.25" cy="605.20" r="1.8" fill="#dcbd55"/>
<circle cx="341.21" cy="606.01" r="1.8" fill="#dcbd55"/>
<circle cx="344.18" cy="606.01" r="1.8" fill="#dcbd55"/>
<circle cx="347.14" cy="606.01" r="1.8" fill="#dcbd55"/>
<circle cx="350.11" cy="616.52" r="1.8" fill="#dcbd55"/>
<circle cx="353.07" cy="595.77" r="1.8" fill="#dcbd55"/>
<circle cx="356.04" cy="627.30" r="1.8" fill="#dcbd55"/>
<line x1="245.30" y1="625.10" x2="356.00" y2="615.20" stroke="#1a1a1a" stroke-width="1.0"/>
<line x1="239.60" y1="563.70" x2="239.60" y2="685.50" stroke="#6d6e71" stroke-width="0.9"/>
<line x1="239.60" y1="685.50" x2="361.50" y2="685.50" stroke="#6d6e71" stroke-width="0.9"/>
<line x1="245.30" y1="685.50" x2="245.30" y2="688.10" stroke="#6d6e71" stroke-width="1.0"/>
<text x="245.30" y="699.40" font-size="8.6" text-anchor="middle" fill="#333333">0</text>
<line x1="273.40" y1="685.50" x2="273.40" y2="688.10" stroke="#6d6e71" stroke-width="1.0"/>
<text x="273.40" y="699.40" font-size="8.6" text-anchor="middle" fill="#333333">0.25</text>
<line x1="301.50" y1="685.50" x2="301.50" y2="688.10" stroke="#6d6e71" stroke-width="1.0"/>
<text x="301.50" y="699.40" font-size="8.6" text-anchor="middle" fill="#333333">0.50</text>
<line x1="329.60" y1="685.50" x2="329.60" y2="688.10" stroke="#6d6e71" stroke-width="1.0"/>
<text x="329.60" y="699.40" font-size="8.6" text-anchor="middle" fill="#333333">0.75</text>
<line x1="357.70" y1="685.50" x2="357.70" y2="688.10" stroke="#6d6e71" stroke-width="1.0"/>
<text x="357.70" y="699.40" font-size="8.6" text-anchor="middle" fill="#333333">1.00</text>
<line x1="237.00" y1="575.30" x2="239.60" y2="575.30" stroke="#6d6e71" stroke-width="1.0"/>
<text x="232.80" y="578.40" font-size="8.6" text-anchor="end" fill="#333333">1,100</text>
<line x1="237.00" y1="599.82" x2="239.60" y2="599.82" stroke="#6d6e71" stroke-width="1.0"/>
<text x="232.80" y="602.92" font-size="8.6" text-anchor="end" fill="#333333">1,050</text>
<line x1="237.00" y1="624.35" x2="239.60" y2="624.35" stroke="#6d6e71" stroke-width="1.0"/>
<text x="232.80" y="627.45" font-size="8.6" text-anchor="end" fill="#333333">1,000</text>
<line x1="237.00" y1="648.88" x2="239.60" y2="648.88" stroke="#6d6e71" stroke-width="1.0"/>
<text x="232.80" y="651.98" font-size="8.6" text-anchor="end" fill="#333333">950</text>
<line x1="237.00" y1="673.40" x2="239.60" y2="673.40" stroke="#6d6e71" stroke-width="1.0"/>
<text x="232.80" y="676.50" font-size="8.6" text-anchor="end" fill="#333333">900</text>
<text x="328.80" y="672.80" font-size="8.7" fill="#333333"><tspan font-style="italic">r</tspan> = 0.22</text>
<text x="328.80" y="682.40" font-size="8.7" fill="#333333"><tspan font-style="italic">P</tspan> = 0.19</text>
<text x="300.50" y="713.50" font-size="10.4" text-anchor="middle" fill="#333333">Citrate m + 2 true rank</text>
<text x="204.00" y="623.00" font-size="10.4" text-anchor="middle" fill="#333333" transform="rotate(-90 204.00 623.00)">OXPHOS signature</text>
<text x="374.30" y="532.00" font-size="10.4" font-style="italic" fill="#333333">Batch</text>
<circle cx="377.80" cy="540.70" r="3.0" fill="#6ec1ea"/>
<text x="384.40" y="543.50" font-size="8.3" fill="#333333">NSCLC_glc</text>
<circle cx="377.80" cy="551.90" r="3.0" fill="#dcbd55"/>
<text x="384.40" y="554.70" font-size="8.3" fill="#333333">RCC</text>
<text transform="translate(0.30 734.30) scale(1 1)" font-size="16" font-weight="bold" fill="#111">d</text>
<circle cx="154.97" cy="750.56" r="0.95" fill="#3a8ad4"/>
<circle cx="157.33" cy="749.11" r="0.95" fill="#3a8ad4"/>
<circle cx="156.95" cy="750.59" r="0.95" fill="#3a8ad4"/>
<circle cx="153.55" cy="752.80" r="0.95" fill="#3a8ad4"/>
<circle cx="153.27" cy="752.60" r="0.95" fill="#3a8ad4"/>
<circle cx="156.88" cy="752.65" r="0.95" fill="#3a8ad4"/>
<circle cx="153.57" cy="751.53" r="0.95" fill="#3a8ad4"/>
<circle cx="158.63" cy="752.37" r="0.95" fill="#3a8ad4"/>
<circle cx="157.31" cy="750.55" r="0.95" fill="#3a8ad4"/>
<circle cx="159.27" cy="749.16" r="0.95" fill="#3a8ad4"/>
<circle cx="155.98" cy="753.03" r="0.95" fill="#3a8ad4"/>
<circle cx="154.61" cy="752.63" r="0.95" fill="#3a8ad4"/>
<circle cx="157.74" cy="750.24" r="0.95" fill="#3a8ad4"/>
<circle cx="156.52" cy="749.45" r="0.95" fill="#3a8ad4"/>
<circle cx="158.15" cy="750.30" r="0.95" fill="#3a8ad4"/>
<circle cx="155.63" cy="752.17" r="0.95" fill="#3a8ad4"/>
<circle cx="156.21" cy="750.64" r="0.95" fill="#3a8ad4"/>
<circle cx="159.48" cy="750.88" r="0.95" fill="#3a8ad4"/>
<circle cx="155.08" cy="752.38" r="0.95" fill="#3a8ad4"/>
<circle cx="157.73" cy="752.47" r="0.95" fill="#3a8ad4"/>
<circle cx="158.29" cy="749.62" r="0.95" fill="#3a8ad4"/>
<circle cx="156.71" cy="752.42" r="0.95" fill="#3a8ad4"/>
<circle cx="154.23" cy="752.40" r="0.95" fill="#3a8ad4"/>
<circle cx="153.68" cy="753.45" r="0.95" fill="#3a8ad4"/>
<circle cx="159.04" cy="750.53" r="0.95" fill="#3a8ad4"/>
<circle cx="159.44" cy="749.19" r="0.95" fill="#3a8ad4"/>
<circle cx="158.55" cy="750.85" r="0.95" fill="#3a8ad4"/>
<circle cx="157.43" cy="750.76" r="0.95" fill="#3a8ad4"/>
<circle cx="156.98" cy="751.89" r="0.95" fill="#3a8ad4"/>
<circle cx="153.90" cy="753.49" r="0.95" fill="#3a8ad4"/>
<circle cx="158.99" cy="749.28" r="0.95" fill="#3a8ad4"/>
<circle cx="156.32" cy="752.22" r="0.95" fill="#3a8ad4"/>
<circle cx="153.20" cy="752.76" r="0.95" fill="#3a8ad4"/>
<circle cx="153.65" cy="751.60" r="0.95" fill="#3a8ad4"/>
<circle cx="156.70" cy="752.93" r="0.95" fill="#3a8ad4"/>
<circle cx="153.62" cy="752.50" r="0.95" fill="#3a8ad4"/>
<circle cx="157.92" cy="752.41" r="0.95" fill="#3a8ad4"/>
<circle cx="159.95" cy="751.39" r="0.95" fill="#3a8ad4"/>
<circle cx="155.07" cy="751.68" r="0.95" fill="#3a8ad4"/>
<circle cx="156.47" cy="753.09" r="0.95" fill="#3a8ad4"/>
<circle cx="153.98" cy="751.38" r="0.95" fill="#3a8ad4"/>
<circle cx="154.84" cy="752.09" r="0.95" fill="#3a8ad4"/>
<circle cx="157.18" cy="750.02" r="0.95" fill="#3a8ad4"/>
<circle cx="156.02" cy="751.90" r="0.95" fill="#3a8ad4"/>
<circle cx="160.67" cy="750.28" r="0.95" fill="#3a8ad4"/>
<circle cx="157.22" cy="751.57" r="0.95" fill="#3a8ad4"/>
<circle cx="157.49" cy="748.96" r="0.95" fill="#3a8ad4"/>
<circle cx="160.41" cy="750.80" r="0.95" fill="#3a8ad4"/>
<circle cx="160.25" cy="750.95" r="0.95" fill="#3a8ad4"/>
<circle cx="155.91" cy="751.22" r="0.95" fill="#3a8ad4"/>
<circle cx="154.11" cy="753.09" r="0.95" fill="#3a8ad4"/>
<circle cx="154.11" cy="751.01" r="0.95" fill="#3a8ad4"/>
<circle cx="154.93" cy="750.15" r="0.95" fill="#3a8ad4"/>
<circle cx="153.64" cy="752.12" r="0.95" fill="#3a8ad4"/>
<circle cx="157.17" cy="749.52" r="0.95" fill="#3a8ad4"/>
<circle cx="154.76" cy="751.53" r="0.95" fill="#3a8ad4"/>
<circle cx="155.23" cy="750.31" r="0.95" fill="#3a8ad4"/>
<circle cx="156.61" cy="751.26" r="0.95" fill="#3a8ad4"/>
<circle cx="155.30" cy="750.91" r="0.95" fill="#3a8ad4"/>
<circle cx="158.83" cy="748.81" r="0.95" fill="#3a8ad4"/>
<circle cx="156.52" cy="749.82" r="0.95" fill="#3a8ad4"/>
<circle cx="156.43" cy="749.33" r="0.95" fill="#3a8ad4"/>
<circle cx="157.92" cy="752.83" r="0.95" fill="#3a8ad4"/>
<circle cx="160.00" cy="750.62" r="0.95" fill="#3a8ad4"/>
<circle cx="154.86" cy="751.56" r="0.95" fill="#3a8ad4"/>
<circle cx="154.82" cy="753.37" r="0.95" fill="#3a8ad4"/>
<circle cx="157.62" cy="752.10" r="0.95" fill="#3a8ad4"/>
<circle cx="155.14" cy="750.80" r="0.95" fill="#3a8ad4"/>
<circle cx="160.10" cy="751.06" r="0.95" fill="#3a8ad4"/>
<circle cx="159.73" cy="750.94" r="0.95" fill="#3a8ad4"/>
<circle cx="150.35" cy="758.66" r="0.95" fill="#3a8ad4"/>
<circle cx="151.06" cy="757.66" r="0.95" fill="#3a8ad4"/>
<circle cx="152.14" cy="756.94" r="0.95" fill="#3a8ad4"/>
<circle cx="152.67" cy="756.66" r="0.95" fill="#3a8ad4"/>
<circle cx="153.81" cy="755.41" r="0.95" fill="#3a8ad4"/>
<circle cx="61.75" cy="764.74" r="0.95" fill="#3a8ad4"/>
<circle cx="63.03" cy="764.67" r="0.95" fill="#3a8ad4"/>
<circle cx="60.23" cy="769.13" r="0.95" fill="#3a8ad4"/>
<circle cx="60.81" cy="769.03" r="0.95" fill="#3a8ad4"/>
<circle cx="57.64" cy="763.93" r="0.95" fill="#3a8ad4"/>
<circle cx="61.36" cy="762.96" r="0.95" fill="#3a8ad4"/>
<circle cx="57.89" cy="763.50" r="0.95" fill="#3a8ad4"/>
<circle cx="62.16" cy="767.03" r="0.95" fill="#3a8ad4"/>
<circle cx="61.91" cy="764.21" r="0.95" fill="#3a8ad4"/>
<circle cx="59.50" cy="762.46" r="0.95" fill="#3a8ad4"/>
<circle cx="60.73" cy="767.92" r="0.95" fill="#3a8ad4"/>
<circle cx="58.11" cy="767.82" r="0.95" fill="#3a8ad4"/>
<circle cx="63.06" cy="765.02" r="0.95" fill="#3a8ad4"/>
<circle cx="57.44" cy="766.93" r="0.95" fill="#3a8ad4"/>
<circle cx="58.86" cy="761.95" r="0.95" fill="#3a8ad4"/>
<circle cx="62.36" cy="768.27" r="0.95" fill="#3a8ad4"/>
<circle cx="61.82" cy="764.17" r="0.95" fill="#3a8ad4"/>
<circle cx="61.18" cy="767.60" r="0.95" fill="#3a8ad4"/>
<circle cx="62.57" cy="765.25" r="0.95" fill="#3a8ad4"/>
<circle cx="57.55" cy="768.03" r="0.95" fill="#3a8ad4"/>
<circle cx="62.47" cy="768.51" r="0.95" fill="#3a8ad4"/>
<circle cx="62.56" cy="765.09" r="0.95" fill="#3a8ad4"/>
<circle cx="56.98" cy="765.21" r="0.95" fill="#3a8ad4"/>
<circle cx="57.05" cy="766.58" r="0.95" fill="#3a8ad4"/>
<circle cx="61.33" cy="762.39" r="0.95" fill="#3a8ad4"/>
<circle cx="59.46" cy="769.07" r="0.95" fill="#3a8ad4"/>
<circle cx="59.69" cy="768.54" r="0.95" fill="#3a8ad4"/>
<circle cx="59.29" cy="768.84" r="0.95" fill="#3a8ad4"/>
<circle cx="61.27" cy="767.33" r="0.95" fill="#3a8ad4"/>
<circle cx="57.38" cy="768.12" r="0.95" fill="#3a8ad4"/>
<circle cx="57.24" cy="764.41" r="0.95" fill="#3a8ad4"/>
<circle cx="57.23" cy="766.72" r="0.95" fill="#3a8ad4"/>
<circle cx="56.15" cy="765.57" r="0.95" fill="#3a8ad4"/>
<circle cx="55.18" cy="765.02" r="0.95" fill="#3a8ad4"/>
<circle cx="55.74" cy="766.95" r="0.95" fill="#3a8ad4"/>
<circle cx="62.32" cy="765.66" r="0.95" fill="#3a8ad4"/>
<circle cx="61.12" cy="768.38" r="0.95" fill="#3a8ad4"/>
<circle cx="58.99" cy="762.64" r="0.95" fill="#3a8ad4"/>
<circle cx="57.95" cy="768.32" r="0.95" fill="#3a8ad4"/>
<circle cx="56.82" cy="764.72" r="0.95" fill="#3a8ad4"/>
<circle cx="62.09" cy="767.45" r="0.95" fill="#3a8ad4"/>
<circle cx="59.54" cy="769.10" r="0.95" fill="#3a8ad4"/>
<circle cx="59.97" cy="762.54" r="0.95" fill="#3a8ad4"/>
<circle cx="56.82" cy="764.60" r="0.95" fill="#3a8ad4"/>
<circle cx="62.50" cy="763.93" r="0.95" fill="#3a8ad4"/>
<circle cx="56.92" cy="763.59" r="0.95" fill="#3a8ad4"/>
<circle cx="56.48" cy="765.39" r="0.95" fill="#3a8ad4"/>
<circle cx="56.30" cy="766.50" r="0.95" fill="#3a8ad4"/>
<circle cx="56.99" cy="765.92" r="0.95" fill="#3a8ad4"/>
<circle cx="58.66" cy="763.30" r="0.95" fill="#3a8ad4"/>
<circle cx="63.13" cy="764.34" r="0.95" fill="#3a8ad4"/>
<circle cx="57.14" cy="764.76" r="0.95" fill="#3a8ad4"/>
<circle cx="61.71" cy="762.43" r="0.95" fill="#3a8ad4"/>
<circle cx="62.04" cy="767.82" r="0.95" fill="#3a8ad4"/>
<circle cx="63.02" cy="767.17" r="0.95" fill="#3a8ad4"/>
<circle cx="57.68" cy="776.27" r="0.95" fill="#3a8ad4"/>
<circle cx="53.94" cy="773.76" r="0.95" fill="#3a8ad4"/>
<circle cx="56.18" cy="777.33" r="0.95" fill="#3a8ad4"/>
<circle cx="49.57" cy="773.49" r="0.95" fill="#3a8ad4"/>
<circle cx="55.88" cy="774.19" r="0.95" fill="#3a8ad4"/>
<circle cx="54.35" cy="777.54" r="0.95" fill="#3a8ad4"/>
<circle cx="49.42" cy="778.00" r="0.95" fill="#3a8ad4"/>
<circle cx="57.42" cy="775.10" r="0.95" fill="#3a8ad4"/>
<circle cx="56.60" cy="777.77" r="0.95" fill="#3a8ad4"/>
<circle cx="47.63" cy="776.32" r="0.95" fill="#3a8ad4"/>
<circle cx="55.75" cy="778.35" r="0.95" fill="#3a8ad4"/>
<circle cx="51.72" cy="772.49" r="0.95" fill="#3a8ad4"/>
<circle cx="48.17" cy="775.59" r="0.95" fill="#3a8ad4"/>
<circle cx="59.19" cy="775.33" r="0.95" fill="#3a8ad4"/>
<circle cx="49.47" cy="774.45" r="0.95" fill="#3a8ad4"/>
<circle cx="56.73" cy="776.06" r="0.95" fill="#3a8ad4"/>
<circle cx="54.00" cy="773.90" r="0.95" fill="#3a8ad4"/>
<circle cx="58.42" cy="777.02" r="0.95" fill="#3a8ad4"/>
<circle cx="57.58" cy="775.76" r="0.95" fill="#3a8ad4"/>
<circle cx="53.03" cy="779.22" r="0.95" fill="#3a8ad4"/>
<circle cx="50.20" cy="777.18" r="0.95" fill="#3a8ad4"/>
<circle cx="55.54" cy="772.63" r="0.95" fill="#3a8ad4"/>
<circle cx="55.83" cy="777.04" r="0.95" fill="#3a8ad4"/>
<circle cx="49.19" cy="775.38" r="0.95" fill="#3a8ad4"/>
<circle cx="59.36" cy="776.84" r="0.95" fill="#3a8ad4"/>
<circle cx="50.97" cy="773.49" r="0.95" fill="#3a8ad4"/>
<circle cx="56.82" cy="776.17" r="0.95" fill="#3a8ad4"/>
<circle cx="50.42" cy="774.59" r="0.95" fill="#3a8ad4"/>
<circle cx="56.97" cy="776.34" r="0.95" fill="#3a8ad4"/>
<circle cx="57.12" cy="776.12" r="0.95" fill="#3a8ad4"/>
<circle cx="48.00" cy="777.42" r="0.95" fill="#3a8ad4"/>
<circle cx="49.80" cy="775.67" r="0.95" fill="#3a8ad4"/>
<circle cx="53.14" cy="779.22" r="0.95" fill="#3a8ad4"/>
<circle cx="47.31" cy="776.12" r="0.95" fill="#3a8ad4"/>
<circle cx="58.62" cy="777.19" r="0.95" fill="#3a8ad4"/>
<circle cx="59.46" cy="775.97" r="0.95" fill="#3a8ad4"/>
<circle cx="51.56" cy="778.91" r="0.95" fill="#3a8ad4"/>
<circle cx="53.33" cy="772.71" r="0.95" fill="#3a8ad4"/>
<circle cx="47.08" cy="776.69" r="0.95" fill="#3a8ad4"/>
<circle cx="49.88" cy="779.25" r="0.95" fill="#3a8ad4"/>
<circle cx="53.88" cy="779.34" r="0.95" fill="#3a8ad4"/>
<circle cx="52.51" cy="773.31" r="0.95" fill="#3a8ad4"/>
<circle cx="55.72" cy="778.05" r="0.95" fill="#3a8ad4"/>
<circle cx="59.23" cy="773.61" r="0.95" fill="#3a8ad4"/>
<circle cx="55.32" cy="772.94" r="0.95" fill="#3a8ad4"/>
<circle cx="49.37" cy="776.43" r="0.95" fill="#3a8ad4"/>
<circle cx="49.58" cy="778.03" r="0.95" fill="#3a8ad4"/>
<circle cx="51.82" cy="774.31" r="0.95" fill="#3a8ad4"/>
<circle cx="51.42" cy="777.85" r="0.95" fill="#3a8ad4"/>
<circle cx="51.80" cy="773.64" r="0.95" fill="#3a8ad4"/>
<circle cx="48.90" cy="778.13" r="0.95" fill="#3a8ad4"/>
<circle cx="59.66" cy="776.06" r="0.95" fill="#3a8ad4"/>
<circle cx="57.48" cy="776.21" r="0.95" fill="#3a8ad4"/>
<circle cx="53.64" cy="779.10" r="0.95" fill="#3a8ad4"/>
<circle cx="57.01" cy="776.36" r="0.95" fill="#3a8ad4"/>
<circle cx="56.32" cy="773.63" r="0.95" fill="#3a8ad4"/>
<circle cx="52.62" cy="779.04" r="0.95" fill="#3a8ad4"/>
<circle cx="52.34" cy="778.65" r="0.95" fill="#3a8ad4"/>
<circle cx="56.68" cy="777.70" r="0.95" fill="#3a8ad4"/>
<circle cx="53.36" cy="777.69" r="0.95" fill="#3a8ad4"/>
<circle cx="58.30" cy="774.66" r="0.95" fill="#3a8ad4"/>
<circle cx="53.78" cy="777.62" r="0.95" fill="#3a8ad4"/>
<circle cx="51.70" cy="778.82" r="0.95" fill="#3a8ad4"/>
<circle cx="59.01" cy="775.03" r="0.95" fill="#3a8ad4"/>
<circle cx="48.34" cy="776.94" r="0.95" fill="#3a8ad4"/>
<circle cx="55.33" cy="778.12" r="0.95" fill="#3a8ad4"/>
<circle cx="59.43" cy="775.05" r="0.95" fill="#3a8ad4"/>
<circle cx="58.30" cy="776.67" r="0.95" fill="#3a8ad4"/>
<circle cx="60.15" cy="775.78" r="0.95" fill="#3a8ad4"/>
<circle cx="51.77" cy="779.06" r="0.95" fill="#3a8ad4"/>
<circle cx="48.83" cy="775.07" r="0.95" fill="#3a8ad4"/>
<circle cx="53.08" cy="773.40" r="0.95" fill="#3a8ad4"/>
<circle cx="52.30" cy="773.96" r="0.95" fill="#3a8ad4"/>
<circle cx="49.21" cy="778.34" r="0.95" fill="#3a8ad4"/>
<circle cx="59.74" cy="774.59" r="0.95" fill="#3a8ad4"/>
<circle cx="52.30" cy="773.52" r="0.95" fill="#3a8ad4"/>
<circle cx="57.36" cy="775.82" r="0.95" fill="#3a8ad4"/>
<circle cx="56.89" cy="773.74" r="0.95" fill="#3a8ad4"/>
<circle cx="52.69" cy="773.75" r="0.95" fill="#3a8ad4"/>
<circle cx="56.96" cy="777.36" r="0.95" fill="#3a8ad4"/>
<circle cx="57.93" cy="768.48" r="0.95" fill="#3a8ad4"/>
<circle cx="59.19" cy="767.30" r="0.95" fill="#3a8ad4"/>
<circle cx="58.95" cy="766.85" r="0.95" fill="#3a8ad4"/>
<circle cx="59.81" cy="766.08" r="0.95" fill="#3a8ad4"/>
<circle cx="132.86" cy="797.28" r="0.95" fill="#3a8ad4"/>
<circle cx="125.88" cy="798.21" r="0.95" fill="#3a8ad4"/>
<circle cx="124.69" cy="798.26" r="0.95" fill="#3a8ad4"/>
<circle cx="131.22" cy="803.91" r="0.95" fill="#3a8ad4"/>
<circle cx="122.17" cy="799.03" r="0.95" fill="#3a8ad4"/>
<circle cx="127.21" cy="798.67" r="0.95" fill="#3a8ad4"/>
<circle cx="128.75" cy="804.73" r="0.95" fill="#3a8ad4"/>
<circle cx="126.49" cy="803.51" r="0.95" fill="#3a8ad4"/>
<circle cx="134.24" cy="797.74" r="0.95" fill="#3a8ad4"/>
<circle cx="126.92" cy="803.92" r="0.95" fill="#3a8ad4"/>
<circle cx="128.42" cy="800.13" r="0.95" fill="#3a8ad4"/>
<circle cx="126.42" cy="796.97" r="0.95" fill="#3a8ad4"/>
<circle cx="123.49" cy="800.10" r="0.95" fill="#3a8ad4"/>
<circle cx="128.87" cy="804.47" r="0.95" fill="#3a8ad4"/>
<circle cx="133.46" cy="798.48" r="0.95" fill="#3a8ad4"/>
<circle cx="126.03" cy="803.04" r="0.95" fill="#3a8ad4"/>
<circle cx="130.23" cy="804.49" r="0.95" fill="#3a8ad4"/>
<circle cx="134.38" cy="797.59" r="0.95" fill="#3a8ad4"/>
<circle cx="124.07" cy="798.53" r="0.95" fill="#3a8ad4"/>
<circle cx="126.93" cy="802.60" r="0.95" fill="#3a8ad4"/>
<circle cx="127.56" cy="799.50" r="0.95" fill="#3a8ad4"/>
<circle cx="130.66" cy="802.56" r="0.95" fill="#3a8ad4"/>
<circle cx="125.01" cy="805.39" r="0.95" fill="#3a8ad4"/>
<circle cx="133.52" cy="795.30" r="0.95" fill="#3a8ad4"/>
<circle cx="129.77" cy="800.90" r="0.95" fill="#3a8ad4"/>
<circle cx="130.34" cy="795.71" r="0.95" fill="#3a8ad4"/>
<circle cx="131.57" cy="795.70" r="0.95" fill="#3a8ad4"/>
<circle cx="123.64" cy="801.64" r="0.95" fill="#3a8ad4"/>
<circle cx="121.44" cy="800.25" r="0.95" fill="#3a8ad4"/>
<circle cx="127.80" cy="792.70" r="0.95" fill="#3a8ad4"/>
<circle cx="131.11" cy="803.67" r="0.95" fill="#3a8ad4"/>
<circle cx="133.45" cy="794.85" r="0.95" fill="#3a8ad4"/>
<circle cx="129.52" cy="800.58" r="0.95" fill="#3a8ad4"/>
<circle cx="132.89" cy="797.51" r="0.95" fill="#3a8ad4"/>
<circle cx="127.22" cy="794.00" r="0.95" fill="#3a8ad4"/>
<circle cx="120.90" cy="800.49" r="0.95" fill="#3a8ad4"/>
<circle cx="124.26" cy="804.54" r="0.95" fill="#3a8ad4"/>
<circle cx="129.79" cy="798.99" r="0.95" fill="#3a8ad4"/>
<circle cx="129.67" cy="798.54" r="0.95" fill="#3a8ad4"/>
<circle cx="126.89" cy="792.78" r="0.95" fill="#3a8ad4"/>
<circle cx="132.17" cy="799.22" r="0.95" fill="#3a8ad4"/>
<circle cx="129.62" cy="802.22" r="0.95" fill="#3a8ad4"/>
<circle cx="125.70" cy="793.32" r="0.95" fill="#3a8ad4"/>
<circle cx="120.68" cy="799.13" r="0.95" fill="#3a8ad4"/>
<circle cx="122.95" cy="795.95" r="0.95" fill="#3a8ad4"/>
<circle cx="121.92" cy="802.26" r="0.95" fill="#3a8ad4"/>
<circle cx="125.10" cy="801.48" r="0.95" fill="#3a8ad4"/>
<circle cx="123.46" cy="799.70" r="0.95" fill="#3a8ad4"/>
<circle cx="133.30" cy="801.72" r="0.95" fill="#3a8ad4"/>
<circle cx="128.96" cy="800.34" r="0.95" fill="#3a8ad4"/>
<circle cx="128.17" cy="794.87" r="0.95" fill="#3a8ad4"/>
<circle cx="127.09" cy="802.34" r="0.95" fill="#3a8ad4"/>
<circle cx="127.59" cy="800.55" r="0.95" fill="#3a8ad4"/>
<circle cx="133.89" cy="799.57" r="0.95" fill="#3a8ad4"/>
<circle cx="129.56" cy="801.80" r="0.95" fill="#3a8ad4"/>
<circle cx="130.70" cy="802.21" r="0.95" fill="#3a8ad4"/>
<circle cx="132.34" cy="801.77" r="0.95" fill="#3a8ad4"/>
<circle cx="132.34" cy="799.21" r="0.95" fill="#3a8ad4"/>
<circle cx="123.87" cy="795.69" r="0.95" fill="#3a8ad4"/>
<circle cx="125.17" cy="802.01" r="0.95" fill="#3a8ad4"/>
<circle cx="128.35" cy="798.02" r="0.95" fill="#3a8ad4"/>
<circle cx="130.13" cy="799.58" r="0.95" fill="#3a8ad4"/>
<circle cx="134.30" cy="797.51" r="0.95" fill="#3a8ad4"/>
<circle cx="126.52" cy="797.72" r="0.95" fill="#3a8ad4"/>
<circle cx="125.26" cy="804.95" r="0.95" fill="#3a8ad4"/>
<circle cx="132.04" cy="799.58" r="0.95" fill="#3a8ad4"/>
<circle cx="129.08" cy="798.69" r="0.95" fill="#3a8ad4"/>
<circle cx="123.00" cy="802.64" r="0.95" fill="#3a8ad4"/>
<circle cx="125.69" cy="793.77" r="0.95" fill="#3a8ad4"/>
<circle cx="121.07" cy="798.19" r="0.95" fill="#3a8ad4"/>
<circle cx="125.92" cy="797.36" r="0.95" fill="#3a8ad4"/>
<circle cx="120.66" cy="800.53" r="0.95" fill="#3a8ad4"/>
<circle cx="123.84" cy="797.59" r="0.95" fill="#3a8ad4"/>
<circle cx="127.63" cy="798.12" r="0.95" fill="#3a8ad4"/>
<circle cx="127.63" cy="792.49" r="0.95" fill="#3a8ad4"/>
<circle cx="127.20" cy="802.22" r="0.95" fill="#3a8ad4"/>
<circle cx="133.71" cy="798.33" r="0.95" fill="#3a8ad4"/>
<circle cx="124.45" cy="798.16" r="0.95" fill="#3a8ad4"/>
<circle cx="126.61" cy="798.37" r="0.95" fill="#3a8ad4"/>
<circle cx="130.83" cy="800.83" r="0.95" fill="#3a8ad4"/>
<circle cx="129.85" cy="804.79" r="0.95" fill="#3a8ad4"/>
<circle cx="130.14" cy="797.70" r="0.95" fill="#3a8ad4"/>
<circle cx="121.01" cy="801.45" r="0.95" fill="#3a8ad4"/>
<circle cx="123.13" cy="802.52" r="0.95" fill="#3a8ad4"/>
<circle cx="132.48" cy="799.29" r="0.95" fill="#3a8ad4"/>
<circle cx="126.26" cy="797.23" r="0.95" fill="#3a8ad4"/>
<circle cx="130.21" cy="800.76" r="0.95" fill="#3a8ad4"/>
<circle cx="122.44" cy="796.14" r="0.95" fill="#3a8ad4"/>
<circle cx="130.00" cy="798.42" r="0.95" fill="#3a8ad4"/>
<circle cx="127.52" cy="803.60" r="0.95" fill="#3a8ad4"/>
<circle cx="122.25" cy="799.12" r="0.95" fill="#3a8ad4"/>
<circle cx="129.58" cy="802.01" r="0.95" fill="#3a8ad4"/>
<circle cx="125.66" cy="804.44" r="0.95" fill="#3a8ad4"/>
<circle cx="128.92" cy="794.00" r="0.95" fill="#3a8ad4"/>
<circle cx="126.66" cy="792.70" r="0.95" fill="#3a8ad4"/>
<circle cx="129.81" cy="802.11" r="0.95" fill="#3a8ad4"/>
<circle cx="131.38" cy="797.48" r="0.95" fill="#3a8ad4"/>
<circle cx="122.29" cy="795.89" r="0.95" fill="#3a8ad4"/>
<circle cx="132.46" cy="797.06" r="0.95" fill="#3a8ad4"/>
<circle cx="133.49" cy="796.33" r="0.95" fill="#3a8ad4"/>
<circle cx="123.62" cy="804.40" r="0.95" fill="#3a8ad4"/>
<circle cx="126.43" cy="801.62" r="0.95" fill="#3a8ad4"/>
<circle cx="130.21" cy="799.62" r="0.95" fill="#3a8ad4"/>
<circle cx="131.19" cy="798.62" r="0.95" fill="#3a8ad4"/>
<circle cx="126.87" cy="794.54" r="0.95" fill="#3a8ad4"/>
<circle cx="124.17" cy="802.42" r="0.95" fill="#3a8ad4"/>
<circle cx="133.04" cy="795.43" r="0.95" fill="#3a8ad4"/>
<circle cx="125.97" cy="793.69" r="0.95" fill="#3a8ad4"/>
<circle cx="132.12" cy="797.75" r="0.95" fill="#3a8ad4"/>
<circle cx="126.30" cy="795.10" r="0.95" fill="#3a8ad4"/>
<circle cx="124.28" cy="805.03" r="0.95" fill="#3a8ad4"/>
<circle cx="121.68" cy="797.09" r="0.95" fill="#3a8ad4"/>
<circle cx="131.06" cy="799.92" r="0.95" fill="#3a8ad4"/>
<circle cx="121.23" cy="801.72" r="0.95" fill="#3a8ad4"/>
<circle cx="128.75" cy="794.79" r="0.95" fill="#3a8ad4"/>
<circle cx="131.30" cy="799.70" r="0.95" fill="#3a8ad4"/>
<circle cx="121.59" cy="801.20" r="0.95" fill="#3a8ad4"/>
<circle cx="130.83" cy="796.98" r="0.95" fill="#3a8ad4"/>
<circle cx="130.65" cy="800.54" r="0.95" fill="#3a8ad4"/>
<circle cx="128.38" cy="798.47" r="0.95" fill="#3a8ad4"/>
<circle cx="122.19" cy="799.17" r="0.95" fill="#3a8ad4"/>
<circle cx="121.70" cy="799.00" r="0.95" fill="#3a8ad4"/>
<circle cx="127.48" cy="801.65" r="0.95" fill="#3a8ad4"/>
<circle cx="130.64" cy="798.85" r="0.95" fill="#3a8ad4"/>
<circle cx="129.26" cy="793.87" r="0.95" fill="#3a8ad4"/>
<circle cx="132.65" cy="794.50" r="0.95" fill="#3a8ad4"/>
<circle cx="133.30" cy="801.19" r="0.95" fill="#3a8ad4"/>
<circle cx="132.30" cy="795.58" r="0.95" fill="#3a8ad4"/>
<circle cx="125.40" cy="801.32" r="0.95" fill="#3a8ad4"/>
<circle cx="131.25" cy="797.57" r="0.95" fill="#3a8ad4"/>
<circle cx="124.81" cy="798.27" r="0.95" fill="#3a8ad4"/>
<circle cx="122.05" cy="797.62" r="0.95" fill="#3a8ad4"/>
<circle cx="128.29" cy="804.22" r="0.95" fill="#3a8ad4"/>
<circle cx="124.95" cy="803.98" r="0.95" fill="#3a8ad4"/>
<circle cx="127.63" cy="800.85" r="0.95" fill="#3a8ad4"/>
<circle cx="126.86" cy="804.06" r="0.95" fill="#3a8ad4"/>
<circle cx="132.34" cy="799.41" r="0.95" fill="#3a8ad4"/>
<circle cx="127.83" cy="801.42" r="0.95" fill="#3a8ad4"/>
<circle cx="129.36" cy="801.77" r="0.95" fill="#3a8ad4"/>
<circle cx="122.73" cy="800.08" r="0.95" fill="#3a8ad4"/>
<circle cx="125.49" cy="795.57" r="0.95" fill="#3a8ad4"/>
<circle cx="134.26" cy="798.88" r="0.95" fill="#3a8ad4"/>
<circle cx="121.29" cy="802.19" r="0.95" fill="#3a8ad4"/>
<circle cx="123.33" cy="803.95" r="0.95" fill="#3a8ad4"/>
<circle cx="123.53" cy="802.63" r="0.95" fill="#3a8ad4"/>
<circle cx="128.33" cy="794.16" r="0.95" fill="#3a8ad4"/>
<circle cx="125.49" cy="798.61" r="0.95" fill="#3a8ad4"/>
<circle cx="131.80" cy="797.92" r="0.95" fill="#3a8ad4"/>
<circle cx="133.90" cy="798.93" r="0.95" fill="#3a8ad4"/>
<circle cx="129.69" cy="795.91" r="0.95" fill="#3a8ad4"/>
<circle cx="127.85" cy="803.28" r="0.95" fill="#3a8ad4"/>
<circle cx="127.67" cy="803.69" r="0.95" fill="#3a8ad4"/>
<circle cx="131.87" cy="800.39" r="0.95" fill="#3a8ad4"/>
<circle cx="123.65" cy="801.03" r="0.95" fill="#3a8ad4"/>
<circle cx="128.38" cy="797.60" r="0.95" fill="#3a8ad4"/>
<circle cx="128.81" cy="804.31" r="0.95" fill="#3a8ad4"/>
<circle cx="123.38" cy="798.80" r="0.95" fill="#3a8ad4"/>
<circle cx="122.32" cy="805.63" r="0.95" fill="#3a8ad4"/>
<circle cx="119.45" cy="798.19" r="0.95" fill="#3a8ad4"/>
<circle cx="122.05" cy="801.96" r="0.95" fill="#3a8ad4"/>
<circle cx="122.34" cy="803.88" r="0.95" fill="#3a8ad4"/>
<circle cx="111.71" cy="806.21" r="0.95" fill="#3a8ad4"/>
<circle cx="123.68" cy="805.96" r="0.95" fill="#3a8ad4"/>
<circle cx="117.24" cy="809.30" r="0.95" fill="#3a8ad4"/>
<circle cx="124.00" cy="794.32" r="0.95" fill="#3a8ad4"/>
<circle cx="118.71" cy="801.07" r="0.95" fill="#3a8ad4"/>
<circle cx="118.56" cy="800.28" r="0.95" fill="#3a8ad4"/>
<circle cx="122.18" cy="807.16" r="0.95" fill="#3a8ad4"/>
<circle cx="126.83" cy="798.57" r="0.95" fill="#3a8ad4"/>
<circle cx="115.14" cy="803.44" r="0.95" fill="#3a8ad4"/>
<circle cx="125.09" cy="798.66" r="0.95" fill="#3a8ad4"/>
<circle cx="121.54" cy="803.22" r="0.95" fill="#3a8ad4"/>
<circle cx="126.85" cy="803.01" r="0.95" fill="#3a8ad4"/>
<circle cx="116.71" cy="801.58" r="0.95" fill="#3a8ad4"/>
<circle cx="125.83" cy="800.36" r="0.95" fill="#3a8ad4"/>
<circle cx="112.63" cy="805.48" r="0.95" fill="#3a8ad4"/>
<circle cx="127.13" cy="805.15" r="0.95" fill="#3a8ad4"/>
<circle cx="110.73" cy="807.50" r="0.95" fill="#3a8ad4"/>
<circle cx="122.44" cy="808.26" r="0.95" fill="#3a8ad4"/>
<circle cx="113.09" cy="810.22" r="0.95" fill="#3a8ad4"/>
<circle cx="112.58" cy="808.77" r="0.95" fill="#3a8ad4"/>
<circle cx="115.72" cy="810.45" r="0.95" fill="#3a8ad4"/>
<circle cx="116.14" cy="809.73" r="0.95" fill="#3a8ad4"/>
<circle cx="118.82" cy="800.58" r="0.95" fill="#3a8ad4"/>
<circle cx="115.55" cy="810.36" r="0.95" fill="#3a8ad4"/>
<circle cx="124.75" cy="802.54" r="0.95" fill="#3a8ad4"/>
<circle cx="119.89" cy="805.89" r="0.95" fill="#3a8ad4"/>
<circle cx="127.52" cy="803.19" r="0.95" fill="#3a8ad4"/>
<circle cx="114.04" cy="804.74" r="0.95" fill="#3a8ad4"/>
<circle cx="126.32" cy="798.75" r="0.95" fill="#3a8ad4"/>
<circle cx="117.47" cy="810.61" r="0.95" fill="#3a8ad4"/>
<circle cx="115.65" cy="810.82" r="0.95" fill="#3a8ad4"/>
<circle cx="117.64" cy="805.52" r="0.95" fill="#3a8ad4"/>
<circle cx="118.48" cy="807.62" r="0.95" fill="#3a8ad4"/>
<circle cx="120.26" cy="803.11" r="0.95" fill="#3a8ad4"/>
<circle cx="119.69" cy="802.51" r="0.95" fill="#3a8ad4"/>
<circle cx="120.73" cy="804.67" r="0.95" fill="#3a8ad4"/>
<circle cx="126.13" cy="797.88" r="0.95" fill="#3a8ad4"/>
<circle cx="121.24" cy="806.82" r="0.95" fill="#3a8ad4"/>
<circle cx="114.03" cy="806.03" r="0.95" fill="#3a8ad4"/>
<circle cx="122.12" cy="806.99" r="0.95" fill="#3a8ad4"/>
<circle cx="122.29" cy="807.73" r="0.95" fill="#3a8ad4"/>
<circle cx="125.99" cy="801.23" r="0.95" fill="#3a8ad4"/>
<circle cx="126.50" cy="800.70" r="0.95" fill="#3a8ad4"/>
<circle cx="122.01" cy="808.59" r="0.95" fill="#3a8ad4"/>
<circle cx="119.47" cy="809.32" r="0.95" fill="#3a8ad4"/>
<circle cx="114.47" cy="805.64" r="0.95" fill="#3a8ad4"/>
<circle cx="121.91" cy="808.49" r="0.95" fill="#3a8ad4"/>
<circle cx="120.15" cy="805.79" r="0.95" fill="#3a8ad4"/>
<circle cx="113.56" cy="811.71" r="0.95" fill="#3a8ad4"/>
<circle cx="111.81" cy="806.10" r="0.95" fill="#3a8ad4"/>
<circle cx="114.32" cy="805.38" r="0.95" fill="#3a8ad4"/>
<circle cx="120.79" cy="796.20" r="0.95" fill="#3a8ad4"/>
<circle cx="116.93" cy="800.89" r="0.95" fill="#3a8ad4"/>
<circle cx="114.08" cy="811.25" r="0.95" fill="#3a8ad4"/>
<circle cx="113.01" cy="805.46" r="0.95" fill="#3a8ad4"/>
<circle cx="127.67" cy="801.45" r="0.95" fill="#3a8ad4"/>
<circle cx="116.95" cy="809.84" r="0.95" fill="#3a8ad4"/>
<circle cx="114.01" cy="810.49" r="0.95" fill="#3a8ad4"/>
<circle cx="115.95" cy="810.47" r="0.95" fill="#3a8ad4"/>
<circle cx="117.00" cy="801.35" r="0.95" fill="#3a8ad4"/>
<circle cx="125.93" cy="803.84" r="0.95" fill="#3a8ad4"/>
<circle cx="120.46" cy="806.29" r="0.95" fill="#3a8ad4"/>
<circle cx="129.56" cy="803.11" r="0.95" fill="#3a8ad4"/>
<circle cx="121.57" cy="796.20" r="0.95" fill="#3a8ad4"/>
<circle cx="114.68" cy="804.10" r="0.95" fill="#3a8ad4"/>
<circle cx="122.63" cy="797.92" r="0.95" fill="#3a8ad4"/>
<circle cx="125.42" cy="799.99" r="0.95" fill="#3a8ad4"/>
<circle cx="118.04" cy="807.32" r="0.95" fill="#3a8ad4"/>
<circle cx="113.32" cy="808.74" r="0.95" fill="#3a8ad4"/>
<circle cx="116.13" cy="802.77" r="0.95" fill="#3a8ad4"/>
<circle cx="121.90" cy="794.74" r="0.95" fill="#3a8ad4"/>
<circle cx="117.97" cy="807.01" r="0.95" fill="#3a8ad4"/>
<circle cx="115.75" cy="809.58" r="0.95" fill="#3a8ad4"/>
<circle cx="111.40" cy="810.04" r="0.95" fill="#3a8ad4"/>
<circle cx="119.98" cy="800.71" r="0.95" fill="#3a8ad4"/>
<circle cx="122.42" cy="806.87" r="0.95" fill="#3a8ad4"/>
<circle cx="117.68" cy="810.44" r="0.95" fill="#3a8ad4"/>
<circle cx="115.41" cy="809.86" r="0.95" fill="#3a8ad4"/>
<circle cx="114.78" cy="802.89" r="0.95" fill="#3a8ad4"/>
<circle cx="117.24" cy="804.50" r="0.95" fill="#3a8ad4"/>
<circle cx="125.92" cy="807.36" r="0.95" fill="#3a8ad4"/>
<circle cx="129.88" cy="803.46" r="0.95" fill="#3a8ad4"/>
<circle cx="118.00" cy="806.58" r="0.95" fill="#3a8ad4"/>
<circle cx="117.00" cy="801.70" r="0.95" fill="#3a8ad4"/>
<circle cx="127.52" cy="803.49" r="0.95" fill="#3a8ad4"/>
<circle cx="119.47" cy="809.88" r="0.95" fill="#3a8ad4"/>
<circle cx="128.69" cy="800.75" r="0.95" fill="#3a8ad4"/>
<circle cx="126.94" cy="801.81" r="0.95" fill="#3a8ad4"/>
<circle cx="123.30" cy="800.73" r="0.95" fill="#3a8ad4"/>
<circle cx="119.67" cy="808.00" r="0.95" fill="#3a8ad4"/>
<circle cx="117.65" cy="806.36" r="0.95" fill="#3a8ad4"/>
<circle cx="121.93" cy="795.81" r="0.95" fill="#3a8ad4"/>
<circle cx="126.14" cy="805.33" r="0.95" fill="#3a8ad4"/>
<circle cx="124.86" cy="798.56" r="0.95" fill="#3a8ad4"/>
<circle cx="112.45" cy="807.48" r="0.95" fill="#3a8ad4"/>
<circle cx="122.58" cy="805.72" r="0.95" fill="#3a8ad4"/>
<circle cx="126.09" cy="797.43" r="0.95" fill="#3a8ad4"/>
<circle cx="119.33" cy="806.62" r="0.95" fill="#3a8ad4"/>
<circle cx="117.46" cy="806.82" r="0.95" fill="#3a8ad4"/>
<circle cx="106.82" cy="817.35" r="0.95" fill="#3a8ad4"/>
<circle cx="104.90" cy="817.89" r="0.95" fill="#3a8ad4"/>
<circle cx="104.32" cy="816.70" r="0.95" fill="#3a8ad4"/>
<circle cx="105.34" cy="815.76" r="0.95" fill="#3a8ad4"/>
<circle cx="104.23" cy="816.76" r="0.95" fill="#3a8ad4"/>
<circle cx="104.76" cy="816.95" r="0.95" fill="#3a8ad4"/>
<circle cx="105.62" cy="817.05" r="0.95" fill="#3a8ad4"/>
<circle cx="106.48" cy="815.56" r="0.95" fill="#3a8ad4"/>
<circle cx="105.07" cy="815.96" r="0.95" fill="#3a8ad4"/>
<circle cx="88.99" cy="855.26" r="0.95" fill="#3a8ad4"/>
<circle cx="87.86" cy="847.76" r="0.95" fill="#3a8ad4"/>
<circle cx="87.75" cy="847.37" r="0.95" fill="#3a8ad4"/>
<circle cx="72.28" cy="836.96" r="0.95" fill="#3a8ad4"/>
<circle cx="75.57" cy="856.29" r="0.95" fill="#3a8ad4"/>
<circle cx="86.35" cy="859.16" r="0.95" fill="#3a8ad4"/>
<circle cx="86.85" cy="841.78" r="0.95" fill="#3a8ad4"/>
<circle cx="82.11" cy="846.88" r="0.95" fill="#3a8ad4"/>
<circle cx="89.15" cy="849.50" r="0.95" fill="#3a8ad4"/>
<circle cx="73.46" cy="853.06" r="0.95" fill="#3a8ad4"/>
<circle cx="73.31" cy="840.88" r="0.95" fill="#3a8ad4"/>
<circle cx="87.88" cy="843.61" r="0.95" fill="#3a8ad4"/>
<circle cx="91.90" cy="843.66" r="0.95" fill="#3a8ad4"/>
<circle cx="72.68" cy="861.03" r="0.95" fill="#3a8ad4"/>
<circle cx="84.42" cy="854.59" r="0.95" fill="#3a8ad4"/>
<circle cx="79.58" cy="858.99" r="0.95" fill="#3a8ad4"/>
<circle cx="86.43" cy="859.53" r="0.95" fill="#3a8ad4"/>
<circle cx="78.62" cy="855.54" r="0.95" fill="#3a8ad4"/>
<circle cx="82.61" cy="843.03" r="0.95" fill="#3a8ad4"/>
<circle cx="71.86" cy="852.48" r="0.95" fill="#3a8ad4"/>
<circle cx="75.85" cy="838.06" r="0.95" fill="#3a8ad4"/>
<circle cx="86.28" cy="852.82" r="0.95" fill="#3a8ad4"/>
<circle cx="86.41" cy="855.90" r="0.95" fill="#3a8ad4"/>
<circle cx="67.47" cy="851.51" r="0.95" fill="#3a8ad4"/>
<circle cx="76.40" cy="858.33" r="0.95" fill="#3a8ad4"/>
<circle cx="68.71" cy="839.97" r="0.95" fill="#3a8ad4"/>
<circle cx="90.93" cy="858.16" r="0.95" fill="#3a8ad4"/>
<circle cx="84.53" cy="858.55" r="0.95" fill="#3a8ad4"/>
<circle cx="84.45" cy="842.42" r="0.95" fill="#3a8ad4"/>
<circle cx="88.22" cy="839.95" r="0.95" fill="#3a8ad4"/>
<circle cx="75.07" cy="846.51" r="0.95" fill="#3a8ad4"/>
<circle cx="73.98" cy="855.27" r="0.95" fill="#3a8ad4"/>
<circle cx="76.54" cy="843.42" r="0.95" fill="#3a8ad4"/>
<circle cx="94.42" cy="848.91" r="0.95" fill="#3a8ad4"/>
<circle cx="91.04" cy="852.35" r="0.95" fill="#3a8ad4"/>
<circle cx="66.43" cy="846.19" r="0.95" fill="#3a8ad4"/>
<circle cx="78.59" cy="856.99" r="0.95" fill="#3a8ad4"/>
<circle cx="75.90" cy="854.94" r="0.95" fill="#3a8ad4"/>
<circle cx="81.64" cy="840.30" r="0.95" fill="#3a8ad4"/>
<circle cx="90.09" cy="838.91" r="0.95" fill="#3a8ad4"/>
<circle cx="65.63" cy="848.52" r="0.95" fill="#3a8ad4"/>
<circle cx="80.24" cy="857.70" r="0.95" fill="#3a8ad4"/>
<circle cx="71.04" cy="848.64" r="0.95" fill="#3a8ad4"/>
<circle cx="75.92" cy="858.76" r="0.95" fill="#3a8ad4"/>
<circle cx="74.01" cy="840.24" r="0.95" fill="#3a8ad4"/>
<circle cx="86.48" cy="848.75" r="0.95" fill="#3a8ad4"/>
<circle cx="68.80" cy="852.90" r="0.95" fill="#3a8ad4"/>
<circle cx="86.41" cy="857.41" r="0.95" fill="#3a8ad4"/>
<circle cx="84.34" cy="844.47" r="0.95" fill="#3a8ad4"/>
<circle cx="77.54" cy="845.64" r="0.95" fill="#3a8ad4"/>
<circle cx="71.68" cy="841.70" r="0.95" fill="#3a8ad4"/>
<circle cx="92.54" cy="848.84" r="0.95" fill="#3a8ad4"/>
<circle cx="76.88" cy="860.32" r="0.95" fill="#3a8ad4"/>
<circle cx="72.51" cy="847.63" r="0.95" fill="#3a8ad4"/>
<circle cx="81.45" cy="856.43" r="0.95" fill="#3a8ad4"/>
<circle cx="88.09" cy="853.19" r="0.95" fill="#3a8ad4"/>
<circle cx="75.95" cy="843.60" r="0.95" fill="#3a8ad4"/>
<circle cx="70.16" cy="859.09" r="0.95" fill="#3a8ad4"/>
<circle cx="85.36" cy="856.06" r="0.95" fill="#3a8ad4"/>
<circle cx="70.59" cy="846.96" r="0.95" fill="#3a8ad4"/>
<circle cx="88.70" cy="851.18" r="0.95" fill="#3a8ad4"/>
<circle cx="69.28" cy="847.66" r="0.95" fill="#3a8ad4"/>
<circle cx="92.05" cy="840.94" r="0.95" fill="#3a8ad4"/>
<circle cx="71.25" cy="842.85" r="0.95" fill="#3a8ad4"/>
<circle cx="86.59" cy="859.11" r="0.95" fill="#3a8ad4"/>
<circle cx="70.14" cy="838.48" r="0.95" fill="#3a8ad4"/>
<circle cx="72.93" cy="843.60" r="0.95" fill="#3a8ad4"/>
<circle cx="81.17" cy="838.63" r="0.95" fill="#3a8ad4"/>
<circle cx="75.34" cy="839.48" r="0.95" fill="#3a8ad4"/>
<circle cx="68.55" cy="845.33" r="0.95" fill="#3a8ad4"/>
<circle cx="87.50" cy="846.85" r="0.95" fill="#3a8ad4"/>
<circle cx="71.39" cy="852.94" r="0.95" fill="#3a8ad4"/>
<circle cx="68.71" cy="839.99" r="0.95" fill="#3a8ad4"/>
<circle cx="77.15" cy="834.82" r="0.95" fill="#3a8ad4"/>
<circle cx="77.47" cy="857.53" r="0.95" fill="#3a8ad4"/>
<circle cx="86.30" cy="848.81" r="0.95" fill="#3a8ad4"/>
<circle cx="84.47" cy="847.70" r="0.95" fill="#3a8ad4"/>
<circle cx="69.75" cy="851.91" r="0.95" fill="#3a8ad4"/>
<circle cx="77.64" cy="856.03" r="0.95" fill="#3a8ad4"/>
<circle cx="92.74" cy="846.70" r="0.95" fill="#3a8ad4"/>
<circle cx="82.72" cy="856.27" r="0.95" fill="#3a8ad4"/>
<circle cx="78.13" cy="840.66" r="0.95" fill="#3a8ad4"/>
<circle cx="87.17" cy="860.20" r="0.95" fill="#3a8ad4"/>
<circle cx="88.72" cy="854.80" r="0.95" fill="#3a8ad4"/>
<circle cx="91.07" cy="854.19" r="0.95" fill="#3a8ad4"/>
<circle cx="84.75" cy="847.42" r="0.95" fill="#3a8ad4"/>
<circle cx="74.89" cy="852.65" r="0.95" fill="#3a8ad4"/>
<circle cx="68.44" cy="846.39" r="0.95" fill="#3a8ad4"/>
<circle cx="88.97" cy="855.19" r="0.95" fill="#3a8ad4"/>
<circle cx="84.39" cy="841.30" r="0.95" fill="#3a8ad4"/>
<circle cx="78.21" cy="847.46" r="0.95" fill="#3a8ad4"/>
<circle cx="84.15" cy="846.08" r="0.95" fill="#3a8ad4"/>
<circle cx="85.76" cy="861.71" r="0.95" fill="#3a8ad4"/>
<circle cx="70.99" cy="853.43" r="0.95" fill="#3a8ad4"/>
<circle cx="88.85" cy="845.46" r="0.95" fill="#3a8ad4"/>
<circle cx="80.20" cy="863.04" r="0.95" fill="#3a8ad4"/>
<circle cx="66.64" cy="850.10" r="0.95" fill="#3a8ad4"/>
<circle cx="70.33" cy="857.25" r="0.95" fill="#3a8ad4"/>
<circle cx="93.72" cy="849.38" r="0.95" fill="#3a8ad4"/>
<circle cx="68.53" cy="851.04" r="0.95" fill="#3a8ad4"/>
<circle cx="81.73" cy="855.32" r="0.95" fill="#3a8ad4"/>
<circle cx="80.87" cy="852.98" r="0.95" fill="#3a8ad4"/>
<circle cx="90.37" cy="849.45" r="0.95" fill="#3a8ad4"/>
<circle cx="77.81" cy="862.24" r="0.95" fill="#3a8ad4"/>
<circle cx="71.80" cy="854.33" r="0.95" fill="#3a8ad4"/>
<circle cx="77.27" cy="856.68" r="0.95" fill="#3a8ad4"/>
<circle cx="76.16" cy="835.50" r="0.95" fill="#3a8ad4"/>
<circle cx="73.73" cy="845.79" r="0.95" fill="#3a8ad4"/>
<circle cx="65.90" cy="846.36" r="0.95" fill="#3a8ad4"/>
<circle cx="78.12" cy="854.75" r="0.95" fill="#3a8ad4"/>
<circle cx="76.06" cy="841.75" r="0.95" fill="#3a8ad4"/>
<circle cx="72.23" cy="856.04" r="0.95" fill="#3a8ad4"/>
<circle cx="93.70" cy="849.61" r="0.95" fill="#3a8ad4"/>
<circle cx="72.07" cy="857.84" r="0.95" fill="#3a8ad4"/>
<circle cx="77.26" cy="840.16" r="0.95" fill="#3a8ad4"/>
<circle cx="69.38" cy="857.10" r="0.95" fill="#3a8ad4"/>
<circle cx="89.79" cy="852.83" r="0.95" fill="#3a8ad4"/>
<circle cx="79.57" cy="850.66" r="0.95" fill="#3a8ad4"/>
<circle cx="76.09" cy="852.96" r="0.95" fill="#3a8ad4"/>
<circle cx="90.06" cy="858.29" r="0.95" fill="#3a8ad4"/>
<circle cx="79.54" cy="842.63" r="0.95" fill="#3a8ad4"/>
<circle cx="81.95" cy="837.55" r="0.95" fill="#3a8ad4"/>
<circle cx="90.51" cy="844.44" r="0.95" fill="#3a8ad4"/>
<circle cx="91.02" cy="841.82" r="0.95" fill="#3a8ad4"/>
<circle cx="76.78" cy="841.41" r="0.95" fill="#3a8ad4"/>
<circle cx="78.28" cy="839.38" r="0.95" fill="#3a8ad4"/>
<circle cx="73.94" cy="841.15" r="0.95" fill="#3a8ad4"/>
<circle cx="74.55" cy="848.19" r="0.95" fill="#3a8ad4"/>
<circle cx="78.35" cy="852.92" r="0.95" fill="#3a8ad4"/>
<circle cx="85.28" cy="844.67" r="0.95" fill="#3a8ad4"/>
<circle cx="92.67" cy="857.32" r="0.95" fill="#3a8ad4"/>
<circle cx="69.71" cy="858.74" r="0.95" fill="#3a8ad4"/>
<circle cx="85.18" cy="841.30" r="0.95" fill="#3a8ad4"/>
<circle cx="72.51" cy="857.09" r="0.95" fill="#3a8ad4"/>
<circle cx="75.89" cy="838.38" r="0.95" fill="#3a8ad4"/>
<circle cx="92.62" cy="857.55" r="0.95" fill="#3a8ad4"/>
<circle cx="83.75" cy="857.24" r="0.95" fill="#3a8ad4"/>
<circle cx="85.55" cy="860.62" r="0.95" fill="#3a8ad4"/>
<circle cx="89.14" cy="858.96" r="0.95" fill="#3a8ad4"/>
<circle cx="71.42" cy="854.58" r="0.95" fill="#3a8ad4"/>
<circle cx="81.42" cy="856.06" r="0.95" fill="#3a8ad4"/>
<circle cx="78.66" cy="860.28" r="0.95" fill="#3a8ad4"/>
<circle cx="82.15" cy="841.73" r="0.95" fill="#3a8ad4"/>
<circle cx="72.53" cy="837.98" r="0.95" fill="#3a8ad4"/>
<circle cx="80.29" cy="835.55" r="0.95" fill="#3a8ad4"/>
<circle cx="79.51" cy="838.13" r="0.95" fill="#3a8ad4"/>
<circle cx="80.24" cy="848.75" r="0.95" fill="#3a8ad4"/>
<circle cx="81.69" cy="859.69" r="0.95" fill="#3a8ad4"/>
<circle cx="79.54" cy="850.68" r="0.95" fill="#3a8ad4"/>
<circle cx="85.46" cy="859.02" r="0.95" fill="#3a8ad4"/>
<circle cx="76.75" cy="846.36" r="0.95" fill="#3a8ad4"/>
<circle cx="84.61" cy="852.88" r="0.95" fill="#3a8ad4"/>
<circle cx="66.36" cy="852.09" r="0.95" fill="#3a8ad4"/>
<circle cx="85.98" cy="861.74" r="0.95" fill="#3a8ad4"/>
<circle cx="80.82" cy="848.34" r="0.95" fill="#3a8ad4"/>
<circle cx="87.05" cy="852.56" r="0.95" fill="#3a8ad4"/>
<circle cx="75.66" cy="859.65" r="0.95" fill="#3a8ad4"/>
<circle cx="76.48" cy="848.04" r="0.95" fill="#3a8ad4"/>
<circle cx="81.27" cy="856.92" r="0.95" fill="#3a8ad4"/>
<circle cx="71.82" cy="846.86" r="0.95" fill="#3a8ad4"/>
<circle cx="78.17" cy="850.42" r="0.95" fill="#3a8ad4"/>
<circle cx="90.30" cy="842.59" r="0.95" fill="#3a8ad4"/>
<circle cx="90.33" cy="845.91" r="0.95" fill="#3a8ad4"/>
<circle cx="80.61" cy="841.95" r="0.95" fill="#3a8ad4"/>
<circle cx="80.69" cy="863.05" r="0.95" fill="#3a8ad4"/>
<circle cx="85.14" cy="857.56" r="0.95" fill="#3a8ad4"/>
<circle cx="75.43" cy="843.31" r="0.95" fill="#3a8ad4"/>
<circle cx="74.48" cy="851.39" r="0.95" fill="#3a8ad4"/>
<circle cx="84.54" cy="857.33" r="0.95" fill="#3a8ad4"/>
<circle cx="92.07" cy="850.16" r="0.95" fill="#3a8ad4"/>
<circle cx="66.99" cy="842.81" r="0.95" fill="#3a8ad4"/>
<circle cx="93.14" cy="852.06" r="0.95" fill="#3a8ad4"/>
<circle cx="85.24" cy="857.47" r="0.95" fill="#3a8ad4"/>
<circle cx="92.79" cy="852.15" r="0.95" fill="#3a8ad4"/>
<circle cx="84.00" cy="852.60" r="0.95" fill="#3a8ad4"/>
<circle cx="86.39" cy="851.69" r="0.95" fill="#3a8ad4"/>
<circle cx="85.93" cy="840.18" r="0.95" fill="#3a8ad4"/>
<circle cx="85.51" cy="847.54" r="0.95" fill="#3a8ad4"/>
<circle cx="88.38" cy="836.84" r="0.95" fill="#3a8ad4"/>
<circle cx="88.74" cy="861.22" r="0.95" fill="#3a8ad4"/>
<circle cx="85.17" cy="844.87" r="0.95" fill="#3a8ad4"/>
<circle cx="90.18" cy="857.40" r="0.95" fill="#3a8ad4"/>
<circle cx="82.36" cy="841.54" r="0.95" fill="#3a8ad4"/>
<circle cx="74.56" cy="846.45" r="0.95" fill="#3a8ad4"/>
<circle cx="75.05" cy="846.72" r="0.95" fill="#3a8ad4"/>
<circle cx="84.75" cy="861.82" r="0.95" fill="#3a8ad4"/>
<circle cx="67.14" cy="850.83" r="0.95" fill="#3a8ad4"/>
<circle cx="89.81" cy="851.06" r="0.95" fill="#3a8ad4"/>
<circle cx="93.06" cy="847.19" r="0.95" fill="#3a8ad4"/>
<circle cx="65.92" cy="845.41" r="0.95" fill="#3a8ad4"/>
<circle cx="83.26" cy="861.93" r="0.95" fill="#3a8ad4"/>
<circle cx="94.92" cy="848.06" r="0.95" fill="#3a8ad4"/>
<circle cx="77.87" cy="836.86" r="0.95" fill="#3a8ad4"/>
<circle cx="84.84" cy="840.17" r="0.95" fill="#3a8ad4"/>
<circle cx="87.08" cy="841.07" r="0.95" fill="#3a8ad4"/>
<circle cx="87.51" cy="839.42" r="0.95" fill="#3a8ad4"/>
<circle cx="86.91" cy="859.46" r="0.95" fill="#3a8ad4"/>
<circle cx="87.39" cy="836.33" r="0.95" fill="#3a8ad4"/>
<circle cx="84.36" cy="855.08" r="0.95" fill="#3a8ad4"/>
<circle cx="79.32" cy="861.77" r="0.95" fill="#3a8ad4"/>
<circle cx="74.83" cy="855.68" r="0.95" fill="#3a8ad4"/>
<circle cx="70.48" cy="859.63" r="0.95" fill="#3a8ad4"/>
<circle cx="80.09" cy="835.59" r="0.95" fill="#3a8ad4"/>
<circle cx="76.53" cy="851.05" r="0.95" fill="#3a8ad4"/>
<circle cx="78.66" cy="854.11" r="0.95" fill="#3a8ad4"/>
<circle cx="69.85" cy="857.72" r="0.95" fill="#3a8ad4"/>
<circle cx="76.40" cy="853.15" r="0.95" fill="#3a8ad4"/>
<circle cx="84.39" cy="846.34" r="0.95" fill="#3a8ad4"/>
<circle cx="77.07" cy="857.39" r="0.95" fill="#3a8ad4"/>
<circle cx="82.50" cy="842.57" r="0.95" fill="#3a8ad4"/>
<circle cx="86.60" cy="858.62" r="0.95" fill="#3a8ad4"/>
<circle cx="75.46" cy="851.97" r="0.95" fill="#3a8ad4"/>
<circle cx="83.53" cy="843.06" r="0.95" fill="#3a8ad4"/>
<circle cx="78.36" cy="860.44" r="0.95" fill="#3a8ad4"/>
<circle cx="76.80" cy="854.34" r="0.95" fill="#3a8ad4"/>
<circle cx="83.55" cy="860.68" r="0.95" fill="#3a8ad4"/>
<circle cx="89.72" cy="842.30" r="0.95" fill="#3a8ad4"/>
<circle cx="78.18" cy="851.40" r="0.95" fill="#3a8ad4"/>
<circle cx="89.98" cy="860.42" r="0.95" fill="#3a8ad4"/>
<circle cx="89.85" cy="859.82" r="0.95" fill="#3a8ad4"/>
<circle cx="82.66" cy="842.02" r="0.95" fill="#3a8ad4"/>
<circle cx="91.04" cy="858.01" r="0.95" fill="#3a8ad4"/>
<circle cx="86.04" cy="861.21" r="0.95" fill="#3a8ad4"/>
<circle cx="75.91" cy="836.35" r="0.95" fill="#3a8ad4"/>
<circle cx="82.11" cy="857.72" r="0.95" fill="#3a8ad4"/>
<circle cx="71.51" cy="856.31" r="0.95" fill="#3a8ad4"/>
<circle cx="83.71" cy="854.13" r="0.95" fill="#3a8ad4"/>
<circle cx="79.46" cy="840.00" r="0.95" fill="#3a8ad4"/>
<circle cx="73.14" cy="856.33" r="0.95" fill="#3a8ad4"/>
<circle cx="89.25" cy="847.59" r="0.95" fill="#3a8ad4"/>
<circle cx="88.66" cy="840.79" r="0.95" fill="#3a8ad4"/>
<circle cx="82.89" cy="860.71" r="0.95" fill="#3a8ad4"/>
<circle cx="92.05" cy="849.46" r="0.95" fill="#3a8ad4"/>
<circle cx="79.80" cy="851.48" r="0.95" fill="#3a8ad4"/>
<circle cx="71.17" cy="839.57" r="0.95" fill="#3a8ad4"/>
<circle cx="70.92" cy="854.83" r="0.95" fill="#3a8ad4"/>
<circle cx="76.38" cy="850.73" r="0.95" fill="#3a8ad4"/>
<circle cx="77.57" cy="849.32" r="0.95" fill="#3a8ad4"/>
<circle cx="68.68" cy="852.78" r="0.95" fill="#3a8ad4"/>
<circle cx="89.12" cy="838.48" r="0.95" fill="#3a8ad4"/>
<circle cx="83.42" cy="844.15" r="0.95" fill="#3a8ad4"/>
<circle cx="81.08" cy="834.42" r="0.95" fill="#3a8ad4"/>
<circle cx="91.48" cy="848.39" r="0.95" fill="#3a8ad4"/>
<circle cx="82.52" cy="841.65" r="0.95" fill="#3a8ad4"/>
<circle cx="88.88" cy="846.58" r="0.95" fill="#3a8ad4"/>
<circle cx="71.53" cy="839.22" r="0.95" fill="#3a8ad4"/>
<circle cx="82.22" cy="859.92" r="0.95" fill="#3a8ad4"/>
<circle cx="79.25" cy="862.22" r="0.95" fill="#3a8ad4"/>
<circle cx="83.44" cy="845.72" r="0.95" fill="#3a8ad4"/>
<circle cx="73.22" cy="850.73" r="0.95" fill="#3a8ad4"/>
<circle cx="84.72" cy="862.49" r="0.95" fill="#3a8ad4"/>
<circle cx="85.59" cy="845.59" r="0.95" fill="#3a8ad4"/>
<circle cx="78.95" cy="838.59" r="0.95" fill="#3a8ad4"/>
<circle cx="73.18" cy="844.36" r="0.95" fill="#3a8ad4"/>
<circle cx="89.09" cy="855.09" r="0.95" fill="#3a8ad4"/>
<circle cx="85.81" cy="842.76" r="0.95" fill="#3a8ad4"/>
<circle cx="83.24" cy="856.54" r="0.95" fill="#3a8ad4"/>
<circle cx="68.66" cy="843.52" r="0.95" fill="#3a8ad4"/>
<circle cx="73.21" cy="837.52" r="0.95" fill="#3a8ad4"/>
<circle cx="79.94" cy="838.86" r="0.95" fill="#3a8ad4"/>
<circle cx="72.65" cy="838.09" r="0.95" fill="#3a8ad4"/>
<circle cx="87.02" cy="839.65" r="0.95" fill="#3a8ad4"/>
<circle cx="69.69" cy="847.22" r="0.95" fill="#3a8ad4"/>
<circle cx="90.77" cy="852.65" r="0.95" fill="#3a8ad4"/>
<circle cx="79.07" cy="843.99" r="0.95" fill="#3a8ad4"/>
<circle cx="90.19" cy="848.13" r="0.95" fill="#3a8ad4"/>
<circle cx="84.35" cy="838.08" r="0.95" fill="#3a8ad4"/>
<circle cx="86.91" cy="850.40" r="0.95" fill="#3a8ad4"/>
<circle cx="73.49" cy="846.15" r="0.95" fill="#3a8ad4"/>
<circle cx="70.17" cy="841.93" r="0.95" fill="#3a8ad4"/>
<circle cx="90.69" cy="843.84" r="0.95" fill="#3a8ad4"/>
<circle cx="70.53" cy="848.53" r="0.95" fill="#3a8ad4"/>
<circle cx="75.04" cy="860.90" r="0.95" fill="#3a8ad4"/>
<circle cx="85.55" cy="840.13" r="0.95" fill="#3a8ad4"/>
<circle cx="79.82" cy="842.39" r="0.95" fill="#3a8ad4"/>
<circle cx="73.23" cy="839.85" r="0.95" fill="#3a8ad4"/>
<circle cx="68.43" cy="842.48" r="0.95" fill="#3a8ad4"/>
<circle cx="87.29" cy="842.61" r="0.95" fill="#3a8ad4"/>
<circle cx="89.71" cy="844.03" r="0.95" fill="#3a8ad4"/>
<circle cx="90.47" cy="849.60" r="0.95" fill="#3a8ad4"/>
<circle cx="71.07" cy="846.86" r="0.95" fill="#3a8ad4"/>
<circle cx="92.86" cy="840.35" r="0.95" fill="#3a8ad4"/>
<circle cx="82.64" cy="837.94" r="0.95" fill="#3a8ad4"/>
<circle cx="70.90" cy="856.91" r="0.95" fill="#3a8ad4"/>
<circle cx="86.85" cy="839.70" r="0.95" fill="#3a8ad4"/>
<circle cx="83.76" cy="848.66" r="0.95" fill="#3a8ad4"/>
<circle cx="73.72" cy="839.98" r="0.95" fill="#3a8ad4"/>
<circle cx="83.87" cy="855.03" r="0.95" fill="#3a8ad4"/>
<circle cx="89.85" cy="851.29" r="0.95" fill="#3a8ad4"/>
<circle cx="87.48" cy="846.04" r="0.95" fill="#3a8ad4"/>
<circle cx="87.15" cy="835.46" r="0.95" fill="#3a8ad4"/>
<circle cx="89.82" cy="843.86" r="0.95" fill="#3a8ad4"/>
<circle cx="90.76" cy="859.74" r="0.95" fill="#3a8ad4"/>
<circle cx="80.29" cy="834.26" r="0.95" fill="#3a8ad4"/>
<circle cx="92.81" cy="848.10" r="0.95" fill="#3a8ad4"/>
<circle cx="91.66" cy="841.79" r="0.95" fill="#3a8ad4"/>
<circle cx="71.08" cy="858.75" r="0.95" fill="#3a8ad4"/>
<circle cx="76.51" cy="838.70" r="0.95" fill="#3a8ad4"/>
<circle cx="76.63" cy="851.65" r="0.95" fill="#3a8ad4"/>
<circle cx="65.64" cy="849.39" r="0.95" fill="#3a8ad4"/>
<circle cx="78.87" cy="849.27" r="0.95" fill="#3a8ad4"/>
<circle cx="69.12" cy="855.24" r="0.95" fill="#3a8ad4"/>
<circle cx="90.00" cy="859.76" r="0.95" fill="#3a8ad4"/>
<circle cx="75.13" cy="855.14" r="0.95" fill="#3a8ad4"/>
<circle cx="76.94" cy="856.34" r="0.95" fill="#3a8ad4"/>
<circle cx="94.12" cy="848.64" r="0.95" fill="#3a8ad4"/>
<circle cx="80.90" cy="849.72" r="0.95" fill="#3a8ad4"/>
<circle cx="81.62" cy="834.42" r="0.95" fill="#3a8ad4"/>
<circle cx="73.01" cy="858.31" r="0.95" fill="#3a8ad4"/>
<circle cx="86.47" cy="839.65" r="0.95" fill="#3a8ad4"/>
<circle cx="66.03" cy="851.78" r="0.95" fill="#3a8ad4"/>
<circle cx="82.79" cy="849.49" r="0.95" fill="#3a8ad4"/>
<circle cx="86.58" cy="836.89" r="0.95" fill="#3a8ad4"/>
<circle cx="91.59" cy="855.31" r="0.95" fill="#3a8ad4"/>
<circle cx="80.31" cy="848.82" r="0.95" fill="#3a8ad4"/>
<circle cx="73.89" cy="837.46" r="0.95" fill="#3a8ad4"/>
<circle cx="77.67" cy="837.91" r="0.95" fill="#3a8ad4"/>
<circle cx="83.25" cy="859.63" r="0.95" fill="#3a8ad4"/>
<circle cx="69.92" cy="850.99" r="0.95" fill="#3a8ad4"/>
<circle cx="87.90" cy="838.73" r="0.95" fill="#3a8ad4"/>
<circle cx="77.16" cy="846.41" r="0.95" fill="#3a8ad4"/>
<circle cx="90.69" cy="849.57" r="0.95" fill="#3a8ad4"/>
<circle cx="77.37" cy="862.04" r="0.95" fill="#3a8ad4"/>
<circle cx="88.81" cy="843.96" r="0.95" fill="#3a8ad4"/>
<circle cx="72.71" cy="843.85" r="0.95" fill="#3a8ad4"/>
<circle cx="78.57" cy="863.24" r="0.95" fill="#3a8ad4"/>
<circle cx="89.95" cy="859.23" r="0.95" fill="#3a8ad4"/>
<circle cx="67.11" cy="849.32" r="0.95" fill="#3a8ad4"/>
<circle cx="72.98" cy="846.46" r="0.95" fill="#3a8ad4"/>
<circle cx="84.48" cy="844.73" r="0.95" fill="#3a8ad4"/>
<circle cx="81.42" cy="835.88" r="0.95" fill="#3a8ad4"/>
<circle cx="78.49" cy="848.94" r="0.95" fill="#3a8ad4"/>
<circle cx="93.61" cy="852.80" r="0.95" fill="#3a8ad4"/>
<circle cx="89.78" cy="860.33" r="0.95" fill="#3a8ad4"/>
<circle cx="84.75" cy="841.77" r="0.95" fill="#3a8ad4"/>
<circle cx="85.85" cy="842.00" r="0.95" fill="#3a8ad4"/>
<circle cx="81.77" cy="861.53" r="0.95" fill="#3a8ad4"/>
<circle cx="84.14" cy="841.32" r="0.95" fill="#3a8ad4"/>
<circle cx="81.11" cy="846.81" r="0.95" fill="#3a8ad4"/>
<circle cx="94.03" cy="842.43" r="0.95" fill="#3a8ad4"/>
<circle cx="74.66" cy="853.23" r="0.95" fill="#3a8ad4"/>
<circle cx="69.11" cy="851.63" r="0.95" fill="#3a8ad4"/>
<circle cx="94.18" cy="849.21" r="0.95" fill="#3a8ad4"/>
<circle cx="73.55" cy="847.79" r="0.95" fill="#3a8ad4"/>
<circle cx="81.51" cy="838.25" r="0.95" fill="#3a8ad4"/>
<circle cx="74.31" cy="846.00" r="0.95" fill="#3a8ad4"/>
<circle cx="74.15" cy="841.10" r="0.95" fill="#3a8ad4"/>
<circle cx="68.14" cy="850.19" r="0.95" fill="#3a8ad4"/>
<circle cx="90.69" cy="852.10" r="0.95" fill="#3a8ad4"/>
<circle cx="82.61" cy="853.31" r="0.95" fill="#3a8ad4"/>
<circle cx="71.54" cy="855.11" r="0.95" fill="#3a8ad4"/>
<circle cx="79.33" cy="850.24" r="0.95" fill="#3a8ad4"/>
<circle cx="83.88" cy="847.87" r="0.95" fill="#3a8ad4"/>
<circle cx="74.82" cy="841.07" r="0.95" fill="#3a8ad4"/>
<circle cx="72.15" cy="849.17" r="0.95" fill="#3a8ad4"/>
<circle cx="77.00" cy="851.37" r="0.95" fill="#3a8ad4"/>
<circle cx="91.36" cy="840.96" r="0.95" fill="#3a8ad4"/>
<circle cx="82.20" cy="848.54" r="0.95" fill="#3a8ad4"/>
<circle cx="74.37" cy="856.96" r="0.95" fill="#3a8ad4"/>
<circle cx="91.64" cy="847.00" r="0.95" fill="#3a8ad4"/>
<circle cx="67.36" cy="845.44" r="0.95" fill="#3a8ad4"/>
<circle cx="78.70" cy="855.86" r="0.95" fill="#3a8ad4"/>
<circle cx="68.78" cy="840.56" r="0.95" fill="#3a8ad4"/>
<circle cx="70.14" cy="843.91" r="0.95" fill="#3a8ad4"/>
<circle cx="76.07" cy="854.06" r="0.95" fill="#3a8ad4"/>
<circle cx="83.99" cy="859.30" r="0.95" fill="#3a8ad4"/>
<circle cx="90.14" cy="849.33" r="0.95" fill="#3a8ad4"/>
<circle cx="87.66" cy="856.10" r="0.95" fill="#3a8ad4"/>
<circle cx="88.29" cy="848.06" r="0.95" fill="#3a8ad4"/>
<circle cx="89.05" cy="855.06" r="0.95" fill="#3a8ad4"/>
<circle cx="88.47" cy="851.38" r="0.95" fill="#3a8ad4"/>
<circle cx="80.44" cy="862.68" r="0.95" fill="#3a8ad4"/>
<circle cx="82.66" cy="846.34" r="0.95" fill="#3a8ad4"/>
<circle cx="89.01" cy="859.98" r="0.95" fill="#3a8ad4"/>
<circle cx="83.72" cy="845.19" r="0.95" fill="#3a8ad4"/>
<circle cx="79.07" cy="847.54" r="0.95" fill="#3a8ad4"/>
<circle cx="87.19" cy="842.59" r="0.95" fill="#3a8ad4"/>
<circle cx="77.22" cy="850.46" r="0.95" fill="#3a8ad4"/>
<circle cx="77.04" cy="843.46" r="0.95" fill="#3a8ad4"/>
<circle cx="89.11" cy="859.29" r="0.95" fill="#3a8ad4"/>
<circle cx="80.49" cy="847.12" r="0.95" fill="#3a8ad4"/>
<circle cx="71.03" cy="842.92" r="0.95" fill="#3a8ad4"/>
<circle cx="69.85" cy="851.06" r="0.95" fill="#3a8ad4"/>
<circle cx="82.95" cy="836.44" r="0.95" fill="#3a8ad4"/>
<circle cx="93.10" cy="843.52" r="0.95" fill="#3a8ad4"/>
<circle cx="90.80" cy="858.94" r="0.95" fill="#3a8ad4"/>
<circle cx="78.29" cy="861.12" r="0.95" fill="#3a8ad4"/>
<circle cx="82.45" cy="848.72" r="0.95" fill="#3a8ad4"/>
<circle cx="81.65" cy="863.75" r="0.95" fill="#3a8ad4"/>
<circle cx="81.02" cy="849.32" r="0.95" fill="#3a8ad4"/>
<circle cx="86.06" cy="845.49" r="0.95" fill="#3a8ad4"/>
<circle cx="76.23" cy="851.64" r="0.95" fill="#3a8ad4"/>
<circle cx="76.03" cy="862.24" r="0.95" fill="#3a8ad4"/>
<circle cx="85.79" cy="849.56" r="0.95" fill="#3a8ad4"/>
<circle cx="68.47" cy="845.03" r="0.95" fill="#3a8ad4"/>
<circle cx="77.53" cy="850.64" r="0.95" fill="#3a8ad4"/>
<circle cx="82.72" cy="860.20" r="0.95" fill="#3a8ad4"/>
<circle cx="94.43" cy="848.40" r="0.95" fill="#3a8ad4"/>
<circle cx="78.70" cy="852.54" r="0.95" fill="#3a8ad4"/>
<circle cx="81.40" cy="858.28" r="0.95" fill="#3a8ad4"/>
<circle cx="70.62" cy="843.34" r="0.95" fill="#3a8ad4"/>
<circle cx="80.88" cy="837.12" r="0.95" fill="#3a8ad4"/>
<circle cx="92.34" cy="854.50" r="0.95" fill="#3a8ad4"/>
<circle cx="92.14" cy="846.43" r="0.95" fill="#3a8ad4"/>
<circle cx="70.19" cy="842.50" r="0.95" fill="#3a8ad4"/>
<circle cx="80.85" cy="848.95" r="0.95" fill="#3a8ad4"/>
<circle cx="71.14" cy="839.27" r="0.95" fill="#3a8ad4"/>
<circle cx="84.40" cy="851.89" r="0.95" fill="#3a8ad4"/>
<circle cx="84.60" cy="835.07" r="0.95" fill="#3a8ad4"/>
<circle cx="77.84" cy="857.43" r="0.95" fill="#3a8ad4"/>
<circle cx="74.70" cy="854.52" r="0.95" fill="#3a8ad4"/>
<circle cx="90.76" cy="851.39" r="0.95" fill="#3a8ad4"/>
<circle cx="85.54" cy="839.70" r="0.95" fill="#3a8ad4"/>
<circle cx="80.44" cy="850.40" r="0.95" fill="#3a8ad4"/>
<circle cx="73.48" cy="853.20" r="0.95" fill="#3a8ad4"/>
<circle cx="81.44" cy="863.71" r="0.95" fill="#3a8ad4"/>
<circle cx="82.73" cy="846.13" r="0.95" fill="#3a8ad4"/>
<circle cx="88.28" cy="837.00" r="0.95" fill="#3a8ad4"/>
<circle cx="81.17" cy="858.49" r="0.95" fill="#3a8ad4"/>
<circle cx="83.89" cy="858.00" r="0.95" fill="#3a8ad4"/>
<circle cx="88.62" cy="843.48" r="0.95" fill="#3a8ad4"/>
<circle cx="86.96" cy="844.42" r="0.95" fill="#3a8ad4"/>
<circle cx="70.58" cy="841.80" r="0.95" fill="#3a8ad4"/>
<circle cx="82.97" cy="844.27" r="0.95" fill="#3a8ad4"/>
<circle cx="79.00" cy="845.37" r="0.95" fill="#3a8ad4"/>
<circle cx="82.98" cy="862.59" r="0.95" fill="#3a8ad4"/>
<circle cx="78.69" cy="852.41" r="0.95" fill="#3a8ad4"/>
<circle cx="74.94" cy="860.77" r="0.95" fill="#3a8ad4"/>
<circle cx="89.98" cy="842.91" r="0.95" fill="#3a8ad4"/>
<circle cx="83.58" cy="862.60" r="0.95" fill="#3a8ad4"/>
<circle cx="80.37" cy="862.29" r="0.95" fill="#3a8ad4"/>
<circle cx="72.79" cy="845.49" r="0.95" fill="#3a8ad4"/>
<circle cx="87.05" cy="840.44" r="0.95" fill="#3a8ad4"/>
<circle cx="74.77" cy="860.06" r="0.95" fill="#3a8ad4"/>
<circle cx="80.03" cy="857.58" r="0.95" fill="#3a8ad4"/>
<circle cx="72.80" cy="839.00" r="0.95" fill="#3a8ad4"/>
<circle cx="76.25" cy="839.40" r="0.95" fill="#3a8ad4"/>
<circle cx="82.35" cy="837.25" r="0.95" fill="#3a8ad4"/>
<circle cx="81.51" cy="845.37" r="0.95" fill="#3a8ad4"/>
<circle cx="77.60" cy="835.76" r="0.95" fill="#3a8ad4"/>
<circle cx="69.20" cy="858.57" r="0.95" fill="#3a8ad4"/>
<circle cx="76.04" cy="841.15" r="0.95" fill="#3a8ad4"/>
<circle cx="71.24" cy="842.31" r="0.95" fill="#3a8ad4"/>
<circle cx="85.43" cy="844.04" r="0.95" fill="#3a8ad4"/>
<circle cx="70.18" cy="854.98" r="0.95" fill="#3a8ad4"/>
<circle cx="68.28" cy="841.89" r="0.95" fill="#3a8ad4"/>
<circle cx="78.80" cy="858.89" r="0.95" fill="#3a8ad4"/>
<circle cx="89.65" cy="838.58" r="0.95" fill="#3a8ad4"/>
<circle cx="76.09" cy="855.47" r="0.95" fill="#3a8ad4"/>
<circle cx="76.81" cy="862.55" r="0.95" fill="#3a8ad4"/>
<circle cx="80.64" cy="840.62" r="0.95" fill="#3a8ad4"/>
<circle cx="79.08" cy="837.73" r="0.95" fill="#3a8ad4"/>
<circle cx="86.69" cy="841.62" r="0.95" fill="#3a8ad4"/>
<circle cx="92.49" cy="851.43" r="0.95" fill="#3a8ad4"/>
<circle cx="76.54" cy="841.19" r="0.95" fill="#3a8ad4"/>
<circle cx="83.75" cy="840.18" r="0.95" fill="#3a8ad4"/>
<circle cx="80.89" cy="850.08" r="0.95" fill="#3a8ad4"/>
<circle cx="73.61" cy="856.95" r="0.95" fill="#3a8ad4"/>
<circle cx="77.04" cy="853.53" r="0.95" fill="#3a8ad4"/>
<circle cx="82.53" cy="843.12" r="0.95" fill="#3a8ad4"/>
<circle cx="77.20" cy="836.38" r="0.95" fill="#3a8ad4"/>
<circle cx="70.81" cy="859.33" r="0.95" fill="#3a8ad4"/>
<circle cx="75.13" cy="853.68" r="0.95" fill="#3a8ad4"/>
<circle cx="68.77" cy="850.66" r="0.95" fill="#3a8ad4"/>
<circle cx="76.34" cy="848.81" r="0.95" fill="#3a8ad4"/>
<circle cx="74.41" cy="835.78" r="0.95" fill="#3a8ad4"/>
<circle cx="74.84" cy="840.59" r="0.95" fill="#3a8ad4"/>
<circle cx="69.28" cy="855.30" r="0.95" fill="#3a8ad4"/>
<circle cx="73.97" cy="845.90" r="0.95" fill="#3a8ad4"/>
<circle cx="92.77" cy="857.05" r="0.95" fill="#3a8ad4"/>
<circle cx="69.47" cy="842.10" r="0.95" fill="#3a8ad4"/>
<circle cx="85.41" cy="844.34" r="0.95" fill="#3a8ad4"/>
<circle cx="77.88" cy="853.57" r="0.95" fill="#3a8ad4"/>
<circle cx="86.48" cy="841.25" r="0.95" fill="#3a8ad4"/>
<circle cx="90.90" cy="844.36" r="0.95" fill="#3a8ad4"/>
<circle cx="84.36" cy="839.25" r="0.95" fill="#3a8ad4"/>
<circle cx="87.52" cy="855.18" r="0.95" fill="#3a8ad4"/>
<circle cx="70.36" cy="839.74" r="0.95" fill="#3a8ad4"/>
<circle cx="74.59" cy="845.22" r="0.95" fill="#3a8ad4"/>
<circle cx="66.68" cy="843.13" r="0.95" fill="#3a8ad4"/>
<circle cx="84.65" cy="839.19" r="0.95" fill="#3a8ad4"/>
<circle cx="90.68" cy="850.90" r="0.95" fill="#3a8ad4"/>
<circle cx="87.00" cy="841.44" r="0.95" fill="#3a8ad4"/>
<circle cx="78.55" cy="854.33" r="0.95" fill="#3a8ad4"/>
<circle cx="90.53" cy="857.09" r="0.95" fill="#3a8ad4"/>
<circle cx="91.12" cy="852.02" r="0.95" fill="#3a8ad4"/>
<circle cx="68.84" cy="857.54" r="0.95" fill="#3a8ad4"/>
<circle cx="87.99" cy="836.38" r="0.95" fill="#3a8ad4"/>
<circle cx="86.34" cy="845.61" r="0.95" fill="#3a8ad4"/>
<circle cx="87.93" cy="858.66" r="0.95" fill="#3a8ad4"/>
<circle cx="73.93" cy="836.50" r="0.95" fill="#3a8ad4"/>
<circle cx="93.89" cy="846.52" r="0.95" fill="#3a8ad4"/>
<circle cx="93.41" cy="854.55" r="0.95" fill="#3a8ad4"/>
<circle cx="87.66" cy="858.70" r="0.95" fill="#3a8ad4"/>
<circle cx="84.34" cy="847.38" r="0.95" fill="#3a8ad4"/>
<circle cx="67.13" cy="854.75" r="0.95" fill="#3a8ad4"/>
<circle cx="78.35" cy="849.16" r="0.95" fill="#3a8ad4"/>
<circle cx="86.58" cy="857.97" r="0.95" fill="#3a8ad4"/>
<circle cx="73.34" cy="850.19" r="0.95" fill="#3a8ad4"/>
<circle cx="94.58" cy="852.93" r="0.95" fill="#3a8ad4"/>
<circle cx="81.82" cy="841.29" r="0.95" fill="#3a8ad4"/>
<circle cx="67.28" cy="844.53" r="0.95" fill="#3a8ad4"/>
<circle cx="77.85" cy="839.84" r="0.95" fill="#3a8ad4"/>
<circle cx="74.82" cy="837.90" r="0.95" fill="#3a8ad4"/>
<circle cx="86.71" cy="853.91" r="0.95" fill="#3a8ad4"/>
<circle cx="72.64" cy="841.05" r="0.95" fill="#3a8ad4"/>
<circle cx="80.96" cy="847.15" r="0.95" fill="#3a8ad4"/>
<circle cx="93.58" cy="844.34" r="0.95" fill="#3a8ad4"/>
<circle cx="74.48" cy="860.34" r="0.95" fill="#3a8ad4"/>
<circle cx="69.76" cy="850.70" r="0.95" fill="#3a8ad4"/>
<circle cx="75.51" cy="858.26" r="0.95" fill="#3a8ad4"/>
<circle cx="81.95" cy="856.62" r="0.95" fill="#3a8ad4"/>
<circle cx="70.58" cy="853.80" r="0.95" fill="#3a8ad4"/>
<circle cx="83.46" cy="847.64" r="0.95" fill="#3a8ad4"/>
<circle cx="88.48" cy="858.74" r="0.95" fill="#3a8ad4"/>
<circle cx="68.93" cy="842.48" r="0.95" fill="#3a8ad4"/>
<circle cx="76.31" cy="839.99" r="0.95" fill="#3a8ad4"/>
<circle cx="67.31" cy="842.23" r="0.95" fill="#3a8ad4"/>
<circle cx="71.41" cy="854.85" r="0.95" fill="#3a8ad4"/>
<circle cx="78.94" cy="837.19" r="0.95" fill="#3a8ad4"/>
<circle cx="63.18" cy="839.55" r="0.95" fill="#3a8ad4"/>
<circle cx="63.52" cy="839.29" r="0.95" fill="#3a8ad4"/>
<circle cx="64.50" cy="839.44" r="0.95" fill="#3a8ad4"/>
<circle cx="67.04" cy="840.51" r="0.95" fill="#3a8ad4"/>
<circle cx="66.30" cy="840.85" r="0.95" fill="#3a8ad4"/>
<circle cx="66.43" cy="840.17" r="0.95" fill="#3a8ad4"/>
<circle cx="65.55" cy="840.45" r="0.95" fill="#3a8ad4"/>
<circle cx="60.85" cy="763.07" r="1.1" fill="#e0332b"/>
<circle cx="60.97" cy="764.57" r="1.1" fill="#e0332b"/>
<circle cx="61.31" cy="765.99" r="1.1" fill="#e0332b"/>
<circle cx="60.59" cy="767.33" r="1.1" fill="#e0332b"/>
<circle cx="60.89" cy="769.18" r="1.1" fill="#e0332b"/>
<circle cx="61.00" cy="771.05" r="1.1" fill="#e0332b"/>
<circle cx="61.42" cy="772.57" r="1.1" fill="#e0332b"/>
<circle cx="58.61" cy="774.32" r="1.1" fill="#e0332b"/>
<circle cx="59.85" cy="775.54" r="1.1" fill="#e0332b"/>
<circle cx="61.25" cy="775.46" r="1.1" fill="#e0332b"/>
<circle cx="62.36" cy="777.02" r="1.1" fill="#e0332b"/>
<circle cx="63.56" cy="777.00" r="1.1" fill="#e0332b"/>
<circle cx="64.50" cy="778.21" r="1.1" fill="#e0332b"/>
<circle cx="65.89" cy="778.59" r="1.1" fill="#e0332b"/>
<circle cx="66.79" cy="779.73" r="1.1" fill="#e0332b"/>
<circle cx="156.00" cy="752.50" r="1.1" fill="#e0332b"/>
<circle cx="154.50" cy="754.50" r="1.1" fill="#e0332b"/>
<circle cx="63.30" cy="763.20" r="1.1" fill="#e0332b"/>
<circle cx="62.60" cy="764.00" r="1.1" fill="#e0332b"/>
<circle cx="130.50" cy="801.50" r="1.1" fill="#e0332b"/>
<circle cx="127.50" cy="803.50" r="1.1" fill="#e0332b"/>
<circle cx="134.50" cy="797.50" r="1.1" fill="#e0332b"/>
<circle cx="107.50" cy="816.50" r="1.1" fill="#e0332b"/>
<circle cx="108.50" cy="815.50" r="1.1" fill="#e0332b"/>
<circle cx="79.60" cy="834.50" r="1.1" fill="#e0332b"/>
<circle cx="79.20" cy="836.20" r="1.1" fill="#e0332b"/>
<circle cx="93.50" cy="837.50" r="1.1" fill="#e0332b"/>
<circle cx="93.00" cy="838.00" r="1.1" fill="#e0332b"/>
<circle cx="75.00" cy="841.50" r="1.1" fill="#e0332b"/>
<circle cx="86.00" cy="841.00" r="1.1" fill="#e0332b"/>
<circle cx="87.00" cy="842.00" r="1.1" fill="#e0332b"/>
<circle cx="88.00" cy="842.00" r="1.1" fill="#e0332b"/>
<circle cx="77.50" cy="847.50" r="1.1" fill="#e0332b"/>
<circle cx="81.00" cy="844.50" r="1.1" fill="#e0332b"/>
<circle cx="88.50" cy="849.50" r="1.1" fill="#e0332b"/>
<circle cx="67.50" cy="854.50" r="1.1" fill="#e0332b"/>
<circle cx="68.50" cy="854.00" r="1.1" fill="#e0332b"/>
<circle cx="68.80" cy="856.80" r="1.1" fill="#e0332b"/>
<circle cx="91.50" cy="858.50" r="1.1" fill="#e0332b"/>
<circle cx="92.50" cy="859.30" r="1.1" fill="#e0332b"/>
<circle cx="93.50" cy="839.50" r="1.1" fill="#e0332b"/>
<circle cx="63.00" cy="839.60" r="1.1" fill="#e0332b"/>
<line x1="40.70" y1="739.00" x2="40.70" y2="869.30" stroke="#6d6e71" stroke-width="0.9"/>
<line x1="40.70" y1="869.30" x2="166.50" y2="869.30" stroke="#6d6e71" stroke-width="0.9"/>
<text x="104.40" y="735.00" font-size="9.8" text-anchor="middle" fill="#333333">RCC + TCGA KIPAN</text>
<text x="103.60" y="881.30" font-size="9.8" text-anchor="middle" fill="#333333">UMAP1</text>
<text x="32.80" y="805.00" font-size="9.8" text-anchor="middle" fill="#333333" transform="rotate(-90 32.80 805.00)">UMAP2</text>
<circle cx="311.82" cy="748.10" r="0.95" fill="#5dbf98"/>
<circle cx="313.57" cy="746.81" r="0.95" fill="#5dbf98"/>
<circle cx="316.12" cy="746.62" r="0.95" fill="#5dbf98"/>
<circle cx="312.74" cy="746.41" r="0.95" fill="#5dbf98"/>
<circle cx="309.27" cy="746.25" r="0.95" fill="#5dbf98"/>
<circle cx="313.21" cy="744.42" r="0.95" fill="#5dbf98"/>
<circle cx="314.33" cy="744.56" r="0.95" fill="#5dbf98"/>
<circle cx="312.67" cy="748.54" r="0.95" fill="#5dbf98"/>
<circle cx="311.93" cy="745.20" r="0.95" fill="#5dbf98"/>
<circle cx="316.46" cy="747.22" r="0.95" fill="#5dbf98"/>
<circle cx="315.54" cy="745.48" r="0.95" fill="#5dbf98"/>
<circle cx="310.83" cy="747.55" r="0.95" fill="#5dbf98"/>
<circle cx="312.87" cy="746.03" r="0.95" fill="#5dbf98"/>
<circle cx="311.17" cy="746.47" r="0.95" fill="#5dbf98"/>
<circle cx="314.72" cy="747.46" r="0.95" fill="#5dbf98"/>
<circle cx="310.75" cy="746.58" r="0.95" fill="#5dbf98"/>
<circle cx="313.28" cy="745.61" r="0.95" fill="#5dbf98"/>
<circle cx="311.04" cy="746.60" r="0.95" fill="#5dbf98"/>
<circle cx="317.43" cy="745.96" r="0.95" fill="#5dbf98"/>
<circle cx="314.63" cy="746.50" r="0.95" fill="#5dbf98"/>
<circle cx="310.88" cy="747.13" r="0.95" fill="#5dbf98"/>
<circle cx="317.21" cy="745.38" r="0.95" fill="#5dbf98"/>
<circle cx="314.06" cy="745.23" r="0.95" fill="#5dbf98"/>
<circle cx="311.62" cy="748.38" r="0.95" fill="#5dbf98"/>
<circle cx="314.50" cy="745.80" r="0.95" fill="#5dbf98"/>
<circle cx="308.89" cy="747.95" r="0.95" fill="#5dbf98"/>
<circle cx="311.62" cy="747.01" r="0.95" fill="#5dbf98"/>
<circle cx="312.01" cy="746.70" r="0.95" fill="#5dbf98"/>
<circle cx="313.34" cy="745.82" r="0.95" fill="#5dbf98"/>
<circle cx="316.66" cy="745.80" r="0.95" fill="#5dbf98"/>
<circle cx="310.02" cy="745.17" r="0.95" fill="#5dbf98"/>
<circle cx="312.87" cy="745.27" r="0.95" fill="#5dbf98"/>
<circle cx="312.74" cy="746.65" r="0.95" fill="#5dbf98"/>
<circle cx="310.19" cy="747.28" r="0.95" fill="#5dbf98"/>
<circle cx="309.03" cy="747.26" r="0.95" fill="#5dbf98"/>
<circle cx="313.28" cy="744.41" r="0.95" fill="#5dbf98"/>
<circle cx="311.51" cy="744.76" r="0.95" fill="#5dbf98"/>
<circle cx="312.54" cy="748.09" r="0.95" fill="#5dbf98"/>
<circle cx="313.49" cy="747.22" r="0.95" fill="#5dbf98"/>
<circle cx="314.96" cy="744.21" r="0.95" fill="#5dbf98"/>
<circle cx="311.44" cy="745.21" r="0.95" fill="#5dbf98"/>
<circle cx="317.36" cy="745.71" r="0.95" fill="#5dbf98"/>
<circle cx="315.16" cy="744.27" r="0.95" fill="#5dbf98"/>
<circle cx="310.11" cy="746.40" r="0.95" fill="#5dbf98"/>
<circle cx="308.14" cy="747.81" r="0.95" fill="#5dbf98"/>
<circle cx="309.81" cy="746.14" r="0.95" fill="#5dbf98"/>
<circle cx="314.76" cy="745.65" r="0.95" fill="#5dbf98"/>
<circle cx="316.71" cy="746.11" r="0.95" fill="#5dbf98"/>
<circle cx="316.50" cy="745.90" r="0.95" fill="#5dbf98"/>
<circle cx="309.78" cy="748.15" r="0.95" fill="#5dbf98"/>
<circle cx="311.49" cy="747.86" r="0.95" fill="#5dbf98"/>
<circle cx="314.86" cy="747.43" r="0.95" fill="#5dbf98"/>
<circle cx="308.99" cy="746.64" r="0.95" fill="#5dbf98"/>
<circle cx="313.45" cy="744.46" r="0.95" fill="#5dbf98"/>
<circle cx="313.55" cy="747.60" r="0.95" fill="#5dbf98"/>
<circle cx="314.29" cy="744.98" r="0.95" fill="#5dbf98"/>
<circle cx="309.75" cy="746.81" r="0.95" fill="#5dbf98"/>
<circle cx="316.18" cy="746.05" r="0.95" fill="#5dbf98"/>
<circle cx="309.26" cy="748.50" r="0.95" fill="#5dbf98"/>
<circle cx="309.77" cy="747.29" r="0.95" fill="#5dbf98"/>
<circle cx="310.92" cy="747.64" r="0.95" fill="#5dbf98"/>
<circle cx="311.31" cy="745.12" r="0.95" fill="#5dbf98"/>
<circle cx="316.51" cy="745.78" r="0.95" fill="#5dbf98"/>
<circle cx="314.94" cy="747.33" r="0.95" fill="#5dbf98"/>
<circle cx="310.94" cy="745.23" r="0.95" fill="#5dbf98"/>
<circle cx="313.16" cy="748.00" r="0.95" fill="#5dbf98"/>
<circle cx="309.98" cy="748.43" r="0.95" fill="#5dbf98"/>
<circle cx="314.46" cy="745.56" r="0.95" fill="#5dbf98"/>
<circle cx="312.25" cy="744.98" r="0.95" fill="#5dbf98"/>
<circle cx="316.08" cy="745.22" r="0.95" fill="#5dbf98"/>
<circle cx="316.55" cy="746.10" r="0.95" fill="#5dbf98"/>
<circle cx="308.50" cy="746.55" r="0.95" fill="#5dbf98"/>
<circle cx="310.39" cy="748.69" r="0.95" fill="#5dbf98"/>
<circle cx="313.26" cy="744.25" r="0.95" fill="#5dbf98"/>
<circle cx="309.44" cy="746.49" r="0.95" fill="#5dbf98"/>
<circle cx="303.91" cy="753.68" r="0.95" fill="#3a8ad4"/>
<circle cx="304.89" cy="753.01" r="0.95" fill="#3a8ad4"/>
<circle cx="306.29" cy="752.06" r="0.95" fill="#3a8ad4"/>
<circle cx="306.67" cy="751.33" r="0.95" fill="#3a8ad4"/>
<circle cx="306.65" cy="750.72" r="0.95" fill="#3a8ad4"/>
<circle cx="211.83" cy="759.35" r="0.95" fill="#de7ec4"/>
<circle cx="208.97" cy="760.80" r="0.95" fill="#de7ec4"/>
<circle cx="208.89" cy="761.24" r="0.95" fill="#de7ec4"/>
<circle cx="210.80" cy="763.72" r="0.95" fill="#de7ec4"/>
<circle cx="211.04" cy="762.53" r="0.95" fill="#de7ec4"/>
<circle cx="213.28" cy="762.56" r="0.95" fill="#de7ec4"/>
<circle cx="211.56" cy="761.66" r="0.95" fill="#de7ec4"/>
<circle cx="209.61" cy="759.40" r="0.95" fill="#de7ec4"/>
<circle cx="212.73" cy="763.19" r="0.95" fill="#de7ec4"/>
<circle cx="213.76" cy="761.96" r="0.95" fill="#de7ec4"/>
<circle cx="209.19" cy="762.49" r="0.95" fill="#de7ec4"/>
<circle cx="212.32" cy="760.86" r="0.95" fill="#de7ec4"/>
<circle cx="211.57" cy="759.84" r="0.95" fill="#de7ec4"/>
<circle cx="210.97" cy="760.20" r="0.95" fill="#de7ec4"/>
<circle cx="207.44" cy="759.76" r="0.95" fill="#de7ec4"/>
<circle cx="210.47" cy="759.95" r="0.95" fill="#de7ec4"/>
<circle cx="208.75" cy="759.10" r="0.95" fill="#de7ec4"/>
<circle cx="209.51" cy="758.47" r="0.95" fill="#de7ec4"/>
<circle cx="210.26" cy="760.45" r="0.95" fill="#de7ec4"/>
<circle cx="211.09" cy="759.54" r="0.95" fill="#de7ec4"/>
<circle cx="209.17" cy="759.57" r="0.95" fill="#de7ec4"/>
<circle cx="212.23" cy="761.13" r="0.95" fill="#de7ec4"/>
<circle cx="213.75" cy="759.78" r="0.95" fill="#de7ec4"/>
<circle cx="213.63" cy="761.33" r="0.95" fill="#de7ec4"/>
<circle cx="211.18" cy="763.92" r="0.95" fill="#de7ec4"/>
<circle cx="209.57" cy="762.56" r="0.95" fill="#de7ec4"/>
<circle cx="210.08" cy="763.16" r="0.95" fill="#de7ec4"/>
<circle cx="207.49" cy="760.70" r="0.95" fill="#de7ec4"/>
<circle cx="213.47" cy="759.37" r="0.95" fill="#de7ec4"/>
<circle cx="208.18" cy="759.32" r="0.95" fill="#de7ec4"/>
<circle cx="212.07" cy="759.00" r="0.95" fill="#de7ec4"/>
<circle cx="209.88" cy="758.88" r="0.95" fill="#de7ec4"/>
<circle cx="211.34" cy="763.13" r="0.95" fill="#de7ec4"/>
<circle cx="211.67" cy="758.86" r="0.95" fill="#de7ec4"/>
<circle cx="211.33" cy="758.11" r="0.95" fill="#de7ec4"/>
<circle cx="212.83" cy="763.20" r="0.95" fill="#de7ec4"/>
<circle cx="209.46" cy="758.47" r="0.95" fill="#de7ec4"/>
<circle cx="208.35" cy="761.04" r="0.95" fill="#de7ec4"/>
<circle cx="213.30" cy="761.70" r="0.95" fill="#de7ec4"/>
<circle cx="209.35" cy="762.40" r="0.95" fill="#de7ec4"/>
<circle cx="211.67" cy="760.19" r="0.95" fill="#de7ec4"/>
<circle cx="211.89" cy="759.76" r="0.95" fill="#de7ec4"/>
<circle cx="207.41" cy="760.25" r="0.95" fill="#de7ec4"/>
<circle cx="207.33" cy="761.61" r="0.95" fill="#de7ec4"/>
<circle cx="209.41" cy="760.76" r="0.95" fill="#de7ec4"/>
<circle cx="211.79" cy="764.27" r="0.95" fill="#de7ec4"/>
<circle cx="211.39" cy="763.54" r="0.95" fill="#de7ec4"/>
<circle cx="212.78" cy="765.19" r="0.95" fill="#de7ec4"/>
<circle cx="211.84" cy="765.67" r="0.95" fill="#de7ec4"/>
<circle cx="210.99" cy="763.78" r="0.95" fill="#de7ec4"/>
<circle cx="210.47" cy="763.93" r="0.95" fill="#de7ec4"/>
<circle cx="212.30" cy="763.77" r="0.95" fill="#de7ec4"/>
<circle cx="212.44" cy="764.77" r="0.95" fill="#de7ec4"/>
<circle cx="204.26" cy="773.00" r="0.95" fill="#de7ec4"/>
<circle cx="204.58" cy="773.51" r="0.95" fill="#de7ec4"/>
<circle cx="204.77" cy="770.82" r="0.95" fill="#de7ec4"/>
<circle cx="206.59" cy="769.91" r="0.95" fill="#de7ec4"/>
<circle cx="206.88" cy="773.96" r="0.95" fill="#de7ec4"/>
<circle cx="207.14" cy="770.23" r="0.95" fill="#de7ec4"/>
<circle cx="202.65" cy="770.77" r="0.95" fill="#de7ec4"/>
<circle cx="204.53" cy="775.82" r="0.95" fill="#de7ec4"/>
<circle cx="203.48" cy="773.68" r="0.95" fill="#de7ec4"/>
<circle cx="207.19" cy="770.65" r="0.95" fill="#de7ec4"/>
<circle cx="206.57" cy="768.55" r="0.95" fill="#de7ec4"/>
<circle cx="197.54" cy="773.48" r="0.95" fill="#de7ec4"/>
<circle cx="203.92" cy="769.76" r="0.95" fill="#de7ec4"/>
<circle cx="209.48" cy="770.27" r="0.95" fill="#de7ec4"/>
<circle cx="198.32" cy="770.71" r="0.95" fill="#de7ec4"/>
<circle cx="207.46" cy="775.14" r="0.95" fill="#de7ec4"/>
<circle cx="207.08" cy="769.70" r="0.95" fill="#de7ec4"/>
<circle cx="210.25" cy="771.22" r="0.95" fill="#de7ec4"/>
<circle cx="205.26" cy="770.84" r="0.95" fill="#de7ec4"/>
<circle cx="207.69" cy="771.36" r="0.95" fill="#de7ec4"/>
<circle cx="201.73" cy="776.01" r="0.95" fill="#de7ec4"/>
<circle cx="198.52" cy="775.19" r="0.95" fill="#de7ec4"/>
<circle cx="197.81" cy="774.60" r="0.95" fill="#de7ec4"/>
<circle cx="202.75" cy="775.51" r="0.95" fill="#de7ec4"/>
<circle cx="197.62" cy="773.98" r="0.95" fill="#de7ec4"/>
<circle cx="202.94" cy="775.92" r="0.95" fill="#de7ec4"/>
<circle cx="209.91" cy="772.32" r="0.95" fill="#de7ec4"/>
<circle cx="199.45" cy="771.12" r="0.95" fill="#de7ec4"/>
<circle cx="200.23" cy="772.46" r="0.95" fill="#de7ec4"/>
<circle cx="199.48" cy="770.71" r="0.95" fill="#de7ec4"/>
<circle cx="207.37" cy="772.89" r="0.95" fill="#de7ec4"/>
<circle cx="199.79" cy="773.64" r="0.95" fill="#de7ec4"/>
<circle cx="199.37" cy="776.09" r="0.95" fill="#de7ec4"/>
<circle cx="208.37" cy="769.67" r="0.95" fill="#de7ec4"/>
<circle cx="207.52" cy="774.33" r="0.95" fill="#de7ec4"/>
<circle cx="200.37" cy="771.60" r="0.95" fill="#de7ec4"/>
<circle cx="203.94" cy="775.52" r="0.95" fill="#de7ec4"/>
<circle cx="199.19" cy="774.66" r="0.95" fill="#de7ec4"/>
<circle cx="204.88" cy="771.79" r="0.95" fill="#de7ec4"/>
<circle cx="205.22" cy="775.22" r="0.95" fill="#de7ec4"/>
<circle cx="200.13" cy="776.13" r="0.95" fill="#de7ec4"/>
<circle cx="202.06" cy="774.94" r="0.95" fill="#de7ec4"/>
<circle cx="208.17" cy="769.01" r="0.95" fill="#de7ec4"/>
<circle cx="199.11" cy="775.11" r="0.95" fill="#de7ec4"/>
<circle cx="205.55" cy="768.73" r="0.95" fill="#de7ec4"/>
<circle cx="201.97" cy="776.09" r="0.95" fill="#de7ec4"/>
<circle cx="207.11" cy="774.88" r="0.95" fill="#de7ec4"/>
<circle cx="200.35" cy="775.35" r="0.95" fill="#de7ec4"/>
<circle cx="205.57" cy="768.30" r="0.95" fill="#de7ec4"/>
<circle cx="203.29" cy="770.27" r="0.95" fill="#de7ec4"/>
<circle cx="202.09" cy="769.46" r="0.95" fill="#de7ec4"/>
<circle cx="201.60" cy="775.83" r="0.95" fill="#de7ec4"/>
<circle cx="198.35" cy="773.22" r="0.95" fill="#de7ec4"/>
<circle cx="198.48" cy="772.72" r="0.95" fill="#de7ec4"/>
<circle cx="199.43" cy="774.64" r="0.95" fill="#de7ec4"/>
<circle cx="199.08" cy="775.13" r="0.95" fill="#de7ec4"/>
<circle cx="203.07" cy="769.34" r="0.95" fill="#de7ec4"/>
<circle cx="201.58" cy="772.73" r="0.95" fill="#de7ec4"/>
<circle cx="209.16" cy="770.20" r="0.95" fill="#de7ec4"/>
<circle cx="209.20" cy="773.29" r="0.95" fill="#de7ec4"/>
<circle cx="200.02" cy="770.41" r="0.95" fill="#de7ec4"/>
<circle cx="199.76" cy="769.58" r="0.95" fill="#de7ec4"/>
<circle cx="197.31" cy="773.58" r="0.95" fill="#de7ec4"/>
<circle cx="202.41" cy="773.07" r="0.95" fill="#de7ec4"/>
<circle cx="206.41" cy="773.15" r="0.95" fill="#de7ec4"/>
<circle cx="204.27" cy="772.68" r="0.95" fill="#de7ec4"/>
<circle cx="209.06" cy="773.21" r="0.95" fill="#de7ec4"/>
<circle cx="201.96" cy="771.21" r="0.95" fill="#de7ec4"/>
<circle cx="203.14" cy="776.32" r="0.95" fill="#de7ec4"/>
<circle cx="201.88" cy="771.77" r="0.95" fill="#de7ec4"/>
<circle cx="201.86" cy="769.81" r="0.95" fill="#de7ec4"/>
<circle cx="205.68" cy="775.50" r="0.95" fill="#de7ec4"/>
<circle cx="200.37" cy="773.87" r="0.95" fill="#de7ec4"/>
<circle cx="201.54" cy="770.66" r="0.95" fill="#de7ec4"/>
<circle cx="198.91" cy="770.11" r="0.95" fill="#de7ec4"/>
<circle cx="208.72" cy="773.80" r="0.95" fill="#de7ec4"/>
<circle cx="206.03" cy="770.54" r="0.95" fill="#de7ec4"/>
<circle cx="205.68" cy="772.43" r="0.95" fill="#de7ec4"/>
<circle cx="208.49" cy="771.62" r="0.95" fill="#de7ec4"/>
<circle cx="200.12" cy="774.07" r="0.95" fill="#de7ec4"/>
<circle cx="276.94" cy="800.81" r="0.95" fill="#8b96d2"/>
<circle cx="277.21" cy="800.33" r="0.95" fill="#8b96d2"/>
<circle cx="277.68" cy="796.04" r="0.95" fill="#8b96d2"/>
<circle cx="278.28" cy="800.75" r="0.95" fill="#8b96d2"/>
<circle cx="276.97" cy="797.85" r="0.95" fill="#8b96d2"/>
<circle cx="281.56" cy="792.94" r="0.95" fill="#8b96d2"/>
<circle cx="278.45" cy="790.14" r="0.95" fill="#8b96d2"/>
<circle cx="277.41" cy="794.31" r="0.95" fill="#8b96d2"/>
<circle cx="278.92" cy="797.48" r="0.95" fill="#8b96d2"/>
<circle cx="285.69" cy="798.04" r="0.95" fill="#8b96d2"/>
<circle cx="273.28" cy="801.07" r="0.95" fill="#8b96d2"/>
<circle cx="278.45" cy="796.95" r="0.95" fill="#8b96d2"/>
<circle cx="277.26" cy="803.06" r="0.95" fill="#8b96d2"/>
<circle cx="280.39" cy="790.14" r="0.95" fill="#8b96d2"/>
<circle cx="278.28" cy="795.06" r="0.95" fill="#8b96d2"/>
<circle cx="277.63" cy="792.17" r="0.95" fill="#8b96d2"/>
<circle cx="278.21" cy="804.36" r="0.95" fill="#8b96d2"/>
<circle cx="285.60" cy="796.16" r="0.95" fill="#8b96d2"/>
<circle cx="285.33" cy="794.49" r="0.95" fill="#8b96d2"/>
<circle cx="274.93" cy="799.87" r="0.95" fill="#8b96d2"/>
<circle cx="283.19" cy="801.00" r="0.95" fill="#8b96d2"/>
<circle cx="276.94" cy="799.55" r="0.95" fill="#8b96d2"/>
<circle cx="276.68" cy="793.53" r="0.95" fill="#8b96d2"/>
<circle cx="278.73" cy="803.46" r="0.95" fill="#8b96d2"/>
<circle cx="277.85" cy="800.29" r="0.95" fill="#8b96d2"/>
<circle cx="281.02" cy="800.07" r="0.95" fill="#8b96d2"/>
<circle cx="282.05" cy="797.42" r="0.95" fill="#8b96d2"/>
<circle cx="284.72" cy="801.03" r="0.95" fill="#8b96d2"/>
<circle cx="282.22" cy="793.17" r="0.95" fill="#8b96d2"/>
<circle cx="278.17" cy="801.69" r="0.95" fill="#8b96d2"/>
<circle cx="283.50" cy="798.01" r="0.95" fill="#8b96d2"/>
<circle cx="274.13" cy="794.49" r="0.95" fill="#8b96d2"/>
<circle cx="283.49" cy="794.78" r="0.95" fill="#8b96d2"/>
<circle cx="274.23" cy="798.71" r="0.95" fill="#8b96d2"/>
<circle cx="284.62" cy="800.65" r="0.95" fill="#8b96d2"/>
<circle cx="280.89" cy="797.86" r="0.95" fill="#8b96d2"/>
<circle cx="278.06" cy="801.41" r="0.95" fill="#8b96d2"/>
<circle cx="278.89" cy="794.44" r="0.95" fill="#8b96d2"/>
<circle cx="276.31" cy="801.79" r="0.95" fill="#8b96d2"/>
<circle cx="279.78" cy="794.97" r="0.95" fill="#8b96d2"/>
<circle cx="279.19" cy="793.89" r="0.95" fill="#8b96d2"/>
<circle cx="284.92" cy="799.92" r="0.95" fill="#8b96d2"/>
<circle cx="276.77" cy="800.94" r="0.95" fill="#8b96d2"/>
<circle cx="278.70" cy="797.30" r="0.95" fill="#8b96d2"/>
<circle cx="271.62" cy="798.31" r="0.95" fill="#8b96d2"/>
<circle cx="284.27" cy="791.13" r="0.95" fill="#8b96d2"/>
<circle cx="279.81" cy="797.03" r="0.95" fill="#8b96d2"/>
<circle cx="275.39" cy="801.41" r="0.95" fill="#8b96d2"/>
<circle cx="275.94" cy="792.48" r="0.95" fill="#8b96d2"/>
<circle cx="279.85" cy="796.48" r="0.95" fill="#8b96d2"/>
<circle cx="276.02" cy="793.59" r="0.95" fill="#8b96d2"/>
<circle cx="274.72" cy="796.13" r="0.95" fill="#8b96d2"/>
<circle cx="284.26" cy="800.99" r="0.95" fill="#8b96d2"/>
<circle cx="276.23" cy="798.26" r="0.95" fill="#8b96d2"/>
<circle cx="273.20" cy="796.82" r="0.95" fill="#8b96d2"/>
<circle cx="286.32" cy="796.13" r="0.95" fill="#8b96d2"/>
<circle cx="275.20" cy="798.89" r="0.95" fill="#8b96d2"/>
<circle cx="283.12" cy="790.47" r="0.95" fill="#8b96d2"/>
<circle cx="276.45" cy="799.35" r="0.95" fill="#8b96d2"/>
<circle cx="283.04" cy="790.36" r="0.95" fill="#8b96d2"/>
<circle cx="279.32" cy="795.25" r="0.95" fill="#8b96d2"/>
<circle cx="280.96" cy="795.10" r="0.95" fill="#8b96d2"/>
<circle cx="283.96" cy="797.28" r="0.95" fill="#8b96d2"/>
<circle cx="283.53" cy="797.75" r="0.95" fill="#8b96d2"/>
<circle cx="273.92" cy="800.07" r="0.95" fill="#8b96d2"/>
<circle cx="279.55" cy="797.98" r="0.95" fill="#8b96d2"/>
<circle cx="286.45" cy="794.53" r="0.95" fill="#8b96d2"/>
<circle cx="271.67" cy="797.47" r="0.95" fill="#8b96d2"/>
<circle cx="276.55" cy="803.30" r="0.95" fill="#8b96d2"/>
<circle cx="279.63" cy="798.75" r="0.95" fill="#8b96d2"/>
<circle cx="279.55" cy="796.75" r="0.95" fill="#8b96d2"/>
<circle cx="279.10" cy="799.32" r="0.95" fill="#8b96d2"/>
<circle cx="277.75" cy="803.35" r="0.95" fill="#8b96d2"/>
<circle cx="273.14" cy="800.69" r="0.95" fill="#8b96d2"/>
<circle cx="286.37" cy="794.42" r="0.95" fill="#8b96d2"/>
<circle cx="279.37" cy="798.33" r="0.95" fill="#8b96d2"/>
<circle cx="279.71" cy="799.59" r="0.95" fill="#8b96d2"/>
<circle cx="279.32" cy="791.46" r="0.95" fill="#8b96d2"/>
<circle cx="279.84" cy="792.57" r="0.95" fill="#8b96d2"/>
<circle cx="274.32" cy="799.10" r="0.95" fill="#8b96d2"/>
<circle cx="275.79" cy="791.80" r="0.95" fill="#8b96d2"/>
<circle cx="276.41" cy="792.32" r="0.95" fill="#8b96d2"/>
<circle cx="285.24" cy="793.19" r="0.95" fill="#8b96d2"/>
<circle cx="281.14" cy="803.34" r="0.95" fill="#8b96d2"/>
<circle cx="280.55" cy="801.47" r="0.95" fill="#8b96d2"/>
<circle cx="273.06" cy="800.66" r="0.95" fill="#8b96d2"/>
<circle cx="275.16" cy="800.10" r="0.95" fill="#8b96d2"/>
<circle cx="275.25" cy="796.88" r="0.95" fill="#8b96d2"/>
<circle cx="284.14" cy="798.04" r="0.95" fill="#8b96d2"/>
<circle cx="277.75" cy="804.32" r="0.95" fill="#8b96d2"/>
<circle cx="278.71" cy="794.40" r="0.95" fill="#8b96d2"/>
<circle cx="278.57" cy="790.10" r="0.95" fill="#8b96d2"/>
<circle cx="279.62" cy="802.66" r="0.95" fill="#8b96d2"/>
<circle cx="282.97" cy="790.33" r="0.95" fill="#8b96d2"/>
<circle cx="283.97" cy="797.80" r="0.95" fill="#8b96d2"/>
<circle cx="279.53" cy="799.81" r="0.95" fill="#8b96d2"/>
<circle cx="281.24" cy="801.39" r="0.95" fill="#8b96d2"/>
<circle cx="275.25" cy="803.13" r="0.95" fill="#8b96d2"/>
<circle cx="277.66" cy="804.29" r="0.95" fill="#8b96d2"/>
<circle cx="284.46" cy="800.97" r="0.95" fill="#8b96d2"/>
<circle cx="279.31" cy="794.24" r="0.95" fill="#8b96d2"/>
<circle cx="282.14" cy="793.67" r="0.95" fill="#8b96d2"/>
<circle cx="284.51" cy="793.22" r="0.95" fill="#8b96d2"/>
<circle cx="276.69" cy="800.10" r="0.95" fill="#8b96d2"/>
<circle cx="280.07" cy="803.03" r="0.95" fill="#8b96d2"/>
<circle cx="273.14" cy="801.22" r="0.95" fill="#8b96d2"/>
<circle cx="283.00" cy="796.51" r="0.95" fill="#8b96d2"/>
<circle cx="275.82" cy="799.60" r="0.95" fill="#8b96d2"/>
<circle cx="276.03" cy="792.88" r="0.95" fill="#8b96d2"/>
<circle cx="277.39" cy="797.56" r="0.95" fill="#8b96d2"/>
<circle cx="278.51" cy="790.38" r="0.95" fill="#8b96d2"/>
<circle cx="276.95" cy="803.51" r="0.95" fill="#8b96d2"/>
<circle cx="273.66" cy="792.92" r="0.95" fill="#8b96d2"/>
<circle cx="277.12" cy="790.57" r="0.95" fill="#8b96d2"/>
<circle cx="280.91" cy="803.50" r="0.95" fill="#8b96d2"/>
<circle cx="281.58" cy="795.84" r="0.95" fill="#8b96d2"/>
<circle cx="280.12" cy="791.77" r="0.95" fill="#8b96d2"/>
<circle cx="280.61" cy="790.58" r="0.95" fill="#8b96d2"/>
<circle cx="285.33" cy="799.62" r="0.95" fill="#8b96d2"/>
<circle cx="281.76" cy="802.01" r="0.95" fill="#8b96d2"/>
<circle cx="275.83" cy="794.39" r="0.95" fill="#8b96d2"/>
<circle cx="278.11" cy="798.40" r="0.95" fill="#8b96d2"/>
<circle cx="284.85" cy="792.08" r="0.95" fill="#8b96d2"/>
<circle cx="282.88" cy="791.28" r="0.95" fill="#8b96d2"/>
<circle cx="283.03" cy="792.38" r="0.95" fill="#8b96d2"/>
<circle cx="281.98" cy="796.86" r="0.95" fill="#8b96d2"/>
<circle cx="279.84" cy="802.33" r="0.95" fill="#8b96d2"/>
<circle cx="278.18" cy="791.55" r="0.95" fill="#8b96d2"/>
<circle cx="274.39" cy="801.04" r="0.95" fill="#8b96d2"/>
<circle cx="278.74" cy="796.57" r="0.95" fill="#8b96d2"/>
<circle cx="284.18" cy="793.43" r="0.95" fill="#8b96d2"/>
<circle cx="282.99" cy="793.17" r="0.95" fill="#8b96d2"/>
<circle cx="280.07" cy="798.52" r="0.95" fill="#8b96d2"/>
<circle cx="283.71" cy="794.95" r="0.95" fill="#8b96d2"/>
<circle cx="286.04" cy="798.02" r="0.95" fill="#8b96d2"/>
<circle cx="279.10" cy="790.29" r="0.95" fill="#8b96d2"/>
<circle cx="275.58" cy="792.77" r="0.95" fill="#8b96d2"/>
<circle cx="276.61" cy="793.71" r="0.95" fill="#8b96d2"/>
<circle cx="276.45" cy="795.66" r="0.95" fill="#8b96d2"/>
<circle cx="280.29" cy="791.50" r="0.95" fill="#8b96d2"/>
<circle cx="285.49" cy="796.02" r="0.95" fill="#8b96d2"/>
<circle cx="285.94" cy="793.36" r="0.95" fill="#8b96d2"/>
<circle cx="280.58" cy="799.45" r="0.95" fill="#8b96d2"/>
<circle cx="280.31" cy="800.70" r="0.95" fill="#8b96d2"/>
<circle cx="275.31" cy="794.88" r="0.95" fill="#8b96d2"/>
<circle cx="280.11" cy="803.93" r="0.95" fill="#8b96d2"/>
<circle cx="281.39" cy="793.32" r="0.95" fill="#8b96d2"/>
<circle cx="275.82" cy="796.12" r="0.95" fill="#8b96d2"/>
<circle cx="276.35" cy="801.94" r="0.95" fill="#8b96d2"/>
<circle cx="275.36" cy="800.60" r="0.95" fill="#8b96d2"/>
<circle cx="274.13" cy="802.47" r="0.95" fill="#8b96d2"/>
<circle cx="283.78" cy="800.53" r="0.95" fill="#8b96d2"/>
<circle cx="280.23" cy="791.84" r="0.95" fill="#8b96d2"/>
<circle cx="279.75" cy="802.63" r="0.95" fill="#8b96d2"/>
<circle cx="284.13" cy="799.32" r="0.95" fill="#8b96d2"/>
<circle cx="285.31" cy="796.96" r="0.95" fill="#8b96d2"/>
<circle cx="279.28" cy="796.82" r="0.95" fill="#8b96d2"/>
<circle cx="271.87" cy="795.42" r="0.95" fill="#8b96d2"/>
<circle cx="274.59" cy="798.09" r="0.95" fill="#8b96d2"/>
<circle cx="281.76" cy="792.55" r="0.95" fill="#8b96d2"/>
<circle cx="272.08" cy="797.42" r="0.95" fill="#8b96d2"/>
<circle cx="282.33" cy="790.46" r="0.95" fill="#8b96d2"/>
<circle cx="283.87" cy="799.13" r="0.95" fill="#8b96d2"/>
<circle cx="271.53" cy="799.89" r="0.95" fill="#8b96d2"/>
<circle cx="279.03" cy="803.49" r="0.95" fill="#8b96d2"/>
<circle cx="271.68" cy="798.48" r="0.95" fill="#8b96d2"/>
<circle cx="272.11" cy="797.12" r="0.95" fill="#8b96d2"/>
<circle cx="278.41" cy="798.63" r="0.95" fill="#8b96d2"/>
<circle cx="265.20" cy="805.12" r="0.95" fill="#8b96d2"/>
<circle cx="266.89" cy="808.63" r="0.95" fill="#8b96d2"/>
<circle cx="264.45" cy="808.37" r="0.95" fill="#8b96d2"/>
<circle cx="266.44" cy="810.39" r="0.95" fill="#8b96d2"/>
<circle cx="263.30" cy="807.15" r="0.95" fill="#8b96d2"/>
<circle cx="272.29" cy="796.37" r="0.95" fill="#8b96d2"/>
<circle cx="278.17" cy="803.10" r="0.95" fill="#8b96d2"/>
<circle cx="274.06" cy="804.91" r="0.95" fill="#8b96d2"/>
<circle cx="268.71" cy="799.28" r="0.95" fill="#8b96d2"/>
<circle cx="267.48" cy="803.67" r="0.95" fill="#8b96d2"/>
<circle cx="270.92" cy="798.95" r="0.95" fill="#8b96d2"/>
<circle cx="266.14" cy="805.33" r="0.95" fill="#8b96d2"/>
<circle cx="263.49" cy="806.56" r="0.95" fill="#8b96d2"/>
<circle cx="276.07" cy="805.83" r="0.95" fill="#8b96d2"/>
<circle cx="267.16" cy="802.27" r="0.95" fill="#8b96d2"/>
<circle cx="273.14" cy="800.12" r="0.95" fill="#8b96d2"/>
<circle cx="265.01" cy="805.23" r="0.95" fill="#8b96d2"/>
<circle cx="279.04" cy="797.19" r="0.95" fill="#8b96d2"/>
<circle cx="282.70" cy="802.13" r="0.95" fill="#8b96d2"/>
<circle cx="267.23" cy="807.27" r="0.95" fill="#8b96d2"/>
<circle cx="270.20" cy="804.60" r="0.95" fill="#8b96d2"/>
<circle cx="276.29" cy="803.93" r="0.95" fill="#8b96d2"/>
<circle cx="270.94" cy="797.80" r="0.95" fill="#8b96d2"/>
<circle cx="271.02" cy="806.07" r="0.95" fill="#8b96d2"/>
<circle cx="279.90" cy="800.83" r="0.95" fill="#8b96d2"/>
<circle cx="268.82" cy="805.83" r="0.95" fill="#8b96d2"/>
<circle cx="267.23" cy="802.61" r="0.95" fill="#8b96d2"/>
<circle cx="275.46" cy="796.28" r="0.95" fill="#8b96d2"/>
<circle cx="275.15" cy="793.47" r="0.95" fill="#8b96d2"/>
<circle cx="278.31" cy="801.80" r="0.95" fill="#8b96d2"/>
<circle cx="265.21" cy="809.21" r="0.95" fill="#8b96d2"/>
<circle cx="272.20" cy="795.39" r="0.95" fill="#8b96d2"/>
<circle cx="267.34" cy="801.19" r="0.95" fill="#8b96d2"/>
<circle cx="273.09" cy="801.74" r="0.95" fill="#8b96d2"/>
<circle cx="264.64" cy="808.43" r="0.95" fill="#8b96d2"/>
<circle cx="265.40" cy="810.40" r="0.95" fill="#8b96d2"/>
<circle cx="268.22" cy="809.07" r="0.95" fill="#8b96d2"/>
<circle cx="274.54" cy="807.63" r="0.95" fill="#8b96d2"/>
<circle cx="272.31" cy="794.02" r="0.95" fill="#8b96d2"/>
<circle cx="269.91" cy="799.61" r="0.95" fill="#8b96d2"/>
<circle cx="276.52" cy="801.61" r="0.95" fill="#8b96d2"/>
<circle cx="276.98" cy="797.58" r="0.95" fill="#8b96d2"/>
<circle cx="266.00" cy="807.26" r="0.95" fill="#8b96d2"/>
<circle cx="269.98" cy="797.31" r="0.95" fill="#8b96d2"/>
<circle cx="264.83" cy="806.78" r="0.95" fill="#8b96d2"/>
<circle cx="276.65" cy="796.40" r="0.95" fill="#8b96d2"/>
<circle cx="268.94" cy="798.08" r="0.95" fill="#8b96d2"/>
<circle cx="272.29" cy="799.74" r="0.95" fill="#8b96d2"/>
<circle cx="270.29" cy="805.55" r="0.95" fill="#8b96d2"/>
<circle cx="269.94" cy="801.74" r="0.95" fill="#8b96d2"/>
<circle cx="265.40" cy="807.90" r="0.95" fill="#8b96d2"/>
<circle cx="269.77" cy="796.64" r="0.95" fill="#8b96d2"/>
<circle cx="274.84" cy="793.55" r="0.95" fill="#8b96d2"/>
<circle cx="268.41" cy="804.78" r="0.95" fill="#8b96d2"/>
<circle cx="270.43" cy="800.05" r="0.95" fill="#8b96d2"/>
<circle cx="264.58" cy="806.38" r="0.95" fill="#8b96d2"/>
<circle cx="270.30" cy="809.18" r="0.95" fill="#8b96d2"/>
<circle cx="277.09" cy="804.61" r="0.95" fill="#8b96d2"/>
<circle cx="263.06" cy="806.38" r="0.95" fill="#8b96d2"/>
<circle cx="276.02" cy="797.71" r="0.95" fill="#8b96d2"/>
<circle cx="273.33" cy="807.65" r="0.95" fill="#8b96d2"/>
<circle cx="271.20" cy="799.31" r="0.95" fill="#8b96d2"/>
<circle cx="270.73" cy="806.39" r="0.95" fill="#8b96d2"/>
<circle cx="268.69" cy="807.56" r="0.95" fill="#8b96d2"/>
<circle cx="271.37" cy="804.20" r="0.95" fill="#8b96d2"/>
<circle cx="263.73" cy="807.99" r="0.95" fill="#8b96d2"/>
<circle cx="266.02" cy="805.53" r="0.95" fill="#8b96d2"/>
<circle cx="269.67" cy="797.04" r="0.95" fill="#8b96d2"/>
<circle cx="267.26" cy="804.15" r="0.95" fill="#8b96d2"/>
<circle cx="277.71" cy="803.91" r="0.95" fill="#8b96d2"/>
<circle cx="268.22" cy="801.22" r="0.95" fill="#8b96d2"/>
<circle cx="267.89" cy="807.52" r="0.95" fill="#8b96d2"/>
<circle cx="276.75" cy="798.49" r="0.95" fill="#8b96d2"/>
<circle cx="267.42" cy="809.50" r="0.95" fill="#8b96d2"/>
<circle cx="269.75" cy="808.15" r="0.95" fill="#8b96d2"/>
<circle cx="278.01" cy="805.36" r="0.95" fill="#8b96d2"/>
<circle cx="275.51" cy="801.79" r="0.95" fill="#8b96d2"/>
<circle cx="262.60" cy="806.23" r="0.95" fill="#8b96d2"/>
<circle cx="277.92" cy="801.40" r="0.95" fill="#8b96d2"/>
<circle cx="266.13" cy="809.93" r="0.95" fill="#8b96d2"/>
<circle cx="274.69" cy="801.48" r="0.95" fill="#8b96d2"/>
<circle cx="279.67" cy="801.17" r="0.95" fill="#8b96d2"/>
<circle cx="273.98" cy="802.84" r="0.95" fill="#8b96d2"/>
<circle cx="265.51" cy="809.77" r="0.95" fill="#8b96d2"/>
<circle cx="272.28" cy="794.87" r="0.95" fill="#8b96d2"/>
<circle cx="269.76" cy="799.29" r="0.95" fill="#8b96d2"/>
<circle cx="267.72" cy="802.49" r="0.95" fill="#8b96d2"/>
<circle cx="277.15" cy="804.36" r="0.95" fill="#8b96d2"/>
<circle cx="267.81" cy="806.29" r="0.95" fill="#8b96d2"/>
<circle cx="269.48" cy="802.28" r="0.95" fill="#8b96d2"/>
<circle cx="268.94" cy="807.57" r="0.95" fill="#8b96d2"/>
<circle cx="270.24" cy="797.21" r="0.95" fill="#8b96d2"/>
<circle cx="272.52" cy="805.17" r="0.95" fill="#8b96d2"/>
<circle cx="271.05" cy="806.44" r="0.95" fill="#8b96d2"/>
<circle cx="269.88" cy="809.32" r="0.95" fill="#8b96d2"/>
<circle cx="266.27" cy="806.50" r="0.95" fill="#8b96d2"/>
<circle cx="270.18" cy="796.85" r="0.95" fill="#8b96d2"/>
<circle cx="277.21" cy="802.93" r="0.95" fill="#8b96d2"/>
<circle cx="277.48" cy="797.24" r="0.95" fill="#8b96d2"/>
<circle cx="266.72" cy="804.83" r="0.95" fill="#8b96d2"/>
<circle cx="270.46" cy="799.02" r="0.95" fill="#8b96d2"/>
<circle cx="279.17" cy="800.64" r="0.95" fill="#8b96d2"/>
<circle cx="266.45" cy="801.15" r="0.95" fill="#8b96d2"/>
<circle cx="268.30" cy="803.11" r="0.95" fill="#8b96d2"/>
<circle cx="267.94" cy="807.00" r="0.95" fill="#8b96d2"/>
<circle cx="263.86" cy="806.99" r="0.95" fill="#8b96d2"/>
<circle cx="274.74" cy="802.19" r="0.95" fill="#8b96d2"/>
<circle cx="267.68" cy="807.63" r="0.95" fill="#8b96d2"/>
<circle cx="272.85" cy="795.02" r="0.95" fill="#8b96d2"/>
<circle cx="270.88" cy="803.20" r="0.95" fill="#8b96d2"/>
<circle cx="266.55" cy="802.03" r="0.95" fill="#8b96d2"/>
<circle cx="278.51" cy="800.50" r="0.95" fill="#8b96d2"/>
<circle cx="257.22" cy="814.02" r="0.95" fill="#8b96d2"/>
<circle cx="258.00" cy="815.43" r="0.95" fill="#8b96d2"/>
<circle cx="258.30" cy="814.55" r="0.95" fill="#8b96d2"/>
<circle cx="257.83" cy="814.54" r="0.95" fill="#8b96d2"/>
<circle cx="257.59" cy="815.40" r="0.95" fill="#8b96d2"/>
<circle cx="258.52" cy="815.38" r="0.95" fill="#8b96d2"/>
<circle cx="257.37" cy="814.85" r="0.95" fill="#8b96d2"/>
<circle cx="258.46" cy="814.30" r="0.95" fill="#8b96d2"/>
<circle cx="239.58" cy="858.34" r="0.95" fill="#f3865c"/>
<circle cx="236.64" cy="860.17" r="0.95" fill="#f3865c"/>
<circle cx="220.50" cy="854.65" r="0.95" fill="#f3865c"/>
<circle cx="238.36" cy="851.75" r="0.95" fill="#f3865c"/>
<circle cx="224.98" cy="834.53" r="0.95" fill="#f3865c"/>
<circle cx="235.22" cy="858.45" r="0.95" fill="#f3865c"/>
<circle cx="224.92" cy="839.13" r="0.95" fill="#f3865c"/>
<circle cx="223.38" cy="835.37" r="0.95" fill="#f3865c"/>
<circle cx="241.43" cy="843.77" r="0.95" fill="#f3865c"/>
<circle cx="238.22" cy="834.68" r="0.95" fill="#f3865c"/>
<circle cx="242.56" cy="842.67" r="0.95" fill="#f3865c"/>
<circle cx="220.73" cy="841.09" r="0.95" fill="#f3865c"/>
<circle cx="218.24" cy="846.48" r="0.95" fill="#f3865c"/>
<circle cx="233.71" cy="857.91" r="0.95" fill="#f3865c"/>
<circle cx="219.85" cy="839.49" r="0.95" fill="#f3865c"/>
<circle cx="236.04" cy="843.15" r="0.95" fill="#f3865c"/>
<circle cx="226.73" cy="850.36" r="0.95" fill="#f3865c"/>
<circle cx="223.20" cy="857.47" r="0.95" fill="#f3865c"/>
<circle cx="222.92" cy="858.93" r="0.95" fill="#f3865c"/>
<circle cx="241.63" cy="849.37" r="0.95" fill="#f3865c"/>
<circle cx="217.29" cy="848.35" r="0.95" fill="#f3865c"/>
<circle cx="229.63" cy="834.39" r="0.95" fill="#f3865c"/>
<circle cx="236.06" cy="855.30" r="0.95" fill="#f3865c"/>
<circle cx="234.65" cy="845.04" r="0.95" fill="#f3865c"/>
<circle cx="232.38" cy="851.00" r="0.95" fill="#f3865c"/>
<circle cx="223.46" cy="859.82" r="0.95" fill="#f3865c"/>
<circle cx="246.39" cy="842.81" r="0.95" fill="#f3865c"/>
<circle cx="231.31" cy="836.63" r="0.95" fill="#f3865c"/>
<circle cx="230.56" cy="853.97" r="0.95" fill="#f3865c"/>
<circle cx="238.50" cy="846.77" r="0.95" fill="#f3865c"/>
<circle cx="227.06" cy="838.40" r="0.95" fill="#f3865c"/>
<circle cx="228.97" cy="841.33" r="0.95" fill="#f3865c"/>
<circle cx="222.46" cy="855.66" r="0.95" fill="#f3865c"/>
<circle cx="232.51" cy="846.26" r="0.95" fill="#f3865c"/>
<circle cx="222.57" cy="854.64" r="0.95" fill="#f3865c"/>
<circle cx="222.54" cy="840.79" r="0.95" fill="#f3865c"/>
<circle cx="233.88" cy="854.56" r="0.95" fill="#f3865c"/>
<circle cx="238.94" cy="855.14" r="0.95" fill="#f3865c"/>
<circle cx="238.93" cy="852.31" r="0.95" fill="#f3865c"/>
<circle cx="224.63" cy="843.63" r="0.95" fill="#f3865c"/>
<circle cx="221.51" cy="852.38" r="0.95" fill="#f3865c"/>
<circle cx="227.48" cy="860.81" r="0.95" fill="#f3865c"/>
<circle cx="241.50" cy="846.78" r="0.95" fill="#f3865c"/>
<circle cx="221.20" cy="856.97" r="0.95" fill="#f3865c"/>
<circle cx="231.10" cy="863.70" r="0.95" fill="#f3865c"/>
<circle cx="231.26" cy="858.37" r="0.95" fill="#f3865c"/>
<circle cx="233.98" cy="848.45" r="0.95" fill="#f3865c"/>
<circle cx="222.93" cy="840.36" r="0.95" fill="#f3865c"/>
<circle cx="238.56" cy="862.27" r="0.95" fill="#f3865c"/>
<circle cx="246.99" cy="846.20" r="0.95" fill="#f3865c"/>
<circle cx="239.25" cy="844.54" r="0.95" fill="#f3865c"/>
<circle cx="241.73" cy="858.99" r="0.95" fill="#f3865c"/>
<circle cx="223.08" cy="850.90" r="0.95" fill="#f3865c"/>
<circle cx="242.31" cy="857.24" r="0.95" fill="#f3865c"/>
<circle cx="230.87" cy="833.77" r="0.95" fill="#f3865c"/>
<circle cx="244.14" cy="849.28" r="0.95" fill="#f3865c"/>
<circle cx="218.61" cy="842.62" r="0.95" fill="#f3865c"/>
<circle cx="235.89" cy="860.38" r="0.95" fill="#f3865c"/>
<circle cx="231.52" cy="852.61" r="0.95" fill="#f3865c"/>
<circle cx="222.82" cy="840.09" r="0.95" fill="#f3865c"/>
<circle cx="244.66" cy="844.49" r="0.95" fill="#f3865c"/>
<circle cx="219.65" cy="851.08" r="0.95" fill="#f3865c"/>
<circle cx="220.34" cy="838.72" r="0.95" fill="#f3865c"/>
<circle cx="230.64" cy="850.90" r="0.95" fill="#f3865c"/>
<circle cx="236.26" cy="854.74" r="0.95" fill="#f3865c"/>
<circle cx="230.12" cy="834.53" r="0.95" fill="#f3865c"/>
<circle cx="239.00" cy="834.10" r="0.95" fill="#f3865c"/>
<circle cx="231.08" cy="845.05" r="0.95" fill="#f3865c"/>
<circle cx="237.39" cy="854.95" r="0.95" fill="#f3865c"/>
<circle cx="223.88" cy="852.93" r="0.95" fill="#f3865c"/>
<circle cx="237.99" cy="847.31" r="0.95" fill="#f3865c"/>
<circle cx="235.09" cy="834.38" r="0.95" fill="#f3865c"/>
<circle cx="223.54" cy="844.80" r="0.95" fill="#f3865c"/>
<circle cx="240.99" cy="858.43" r="0.95" fill="#f3865c"/>
<circle cx="236.18" cy="855.83" r="0.95" fill="#f3865c"/>
<circle cx="223.25" cy="853.63" r="0.95" fill="#f3865c"/>
<circle cx="245.43" cy="852.58" r="0.95" fill="#f3865c"/>
<circle cx="245.08" cy="840.71" r="0.95" fill="#f3865c"/>
<circle cx="240.02" cy="835.68" r="0.95" fill="#f3865c"/>
<circle cx="222.23" cy="857.90" r="0.95" fill="#f3865c"/>
<circle cx="221.48" cy="848.58" r="0.95" fill="#f3865c"/>
<circle cx="219.70" cy="857.27" r="0.95" fill="#f3865c"/>
<circle cx="233.74" cy="858.35" r="0.95" fill="#f3865c"/>
<circle cx="232.08" cy="851.99" r="0.95" fill="#f3865c"/>
<circle cx="234.95" cy="857.66" r="0.95" fill="#f3865c"/>
<circle cx="233.42" cy="841.59" r="0.95" fill="#f3865c"/>
<circle cx="242.29" cy="858.05" r="0.95" fill="#f3865c"/>
<circle cx="230.69" cy="836.26" r="0.95" fill="#f3865c"/>
<circle cx="236.68" cy="838.95" r="0.95" fill="#f3865c"/>
<circle cx="229.79" cy="835.89" r="0.95" fill="#f3865c"/>
<circle cx="246.87" cy="849.66" r="0.95" fill="#f3865c"/>
<circle cx="227.40" cy="835.37" r="0.95" fill="#f3865c"/>
<circle cx="239.18" cy="859.25" r="0.95" fill="#f3865c"/>
<circle cx="227.87" cy="841.97" r="0.95" fill="#f3865c"/>
<circle cx="240.19" cy="837.07" r="0.95" fill="#f3865c"/>
<circle cx="235.32" cy="863.32" r="0.95" fill="#f3865c"/>
<circle cx="238.00" cy="851.32" r="0.95" fill="#f3865c"/>
<circle cx="232.63" cy="846.80" r="0.95" fill="#f3865c"/>
<circle cx="229.11" cy="851.71" r="0.95" fill="#f3865c"/>
<circle cx="236.64" cy="861.36" r="0.95" fill="#f3865c"/>
<circle cx="239.26" cy="857.57" r="0.95" fill="#f3865c"/>
<circle cx="237.64" cy="859.26" r="0.95" fill="#f3865c"/>
<circle cx="229.84" cy="860.15" r="0.95" fill="#f3865c"/>
<circle cx="230.18" cy="854.73" r="0.95" fill="#f3865c"/>
<circle cx="224.28" cy="841.90" r="0.95" fill="#f3865c"/>
<circle cx="227.27" cy="842.65" r="0.95" fill="#f3865c"/>
<circle cx="219.36" cy="846.39" r="0.95" fill="#f3865c"/>
<circle cx="239.88" cy="841.06" r="0.95" fill="#f3865c"/>
<circle cx="224.19" cy="845.43" r="0.95" fill="#f3865c"/>
<circle cx="226.66" cy="856.75" r="0.95" fill="#f3865c"/>
<circle cx="240.58" cy="860.52" r="0.95" fill="#f3865c"/>
<circle cx="241.19" cy="849.21" r="0.95" fill="#f3865c"/>
<circle cx="226.19" cy="852.21" r="0.95" fill="#f3865c"/>
<circle cx="227.85" cy="849.38" r="0.95" fill="#f3865c"/>
<circle cx="232.96" cy="852.94" r="0.95" fill="#f3865c"/>
<circle cx="233.20" cy="862.04" r="0.95" fill="#f3865c"/>
<circle cx="229.11" cy="861.28" r="0.95" fill="#f3865c"/>
<circle cx="225.37" cy="861.05" r="0.95" fill="#f3865c"/>
<circle cx="221.90" cy="846.24" r="0.95" fill="#f3865c"/>
<circle cx="237.83" cy="854.22" r="0.95" fill="#f3865c"/>
<circle cx="239.68" cy="856.20" r="0.95" fill="#f3865c"/>
<circle cx="224.15" cy="840.53" r="0.95" fill="#f3865c"/>
<circle cx="222.93" cy="840.60" r="0.95" fill="#f3865c"/>
<circle cx="246.49" cy="852.73" r="0.95" fill="#f3865c"/>
<circle cx="234.84" cy="853.13" r="0.95" fill="#f3865c"/>
<circle cx="235.05" cy="854.36" r="0.95" fill="#f3865c"/>
<circle cx="225.88" cy="834.42" r="0.95" fill="#f3865c"/>
<circle cx="227.68" cy="836.89" r="0.95" fill="#f3865c"/>
<circle cx="219.92" cy="848.00" r="0.95" fill="#f3865c"/>
<circle cx="224.93" cy="856.71" r="0.95" fill="#f3865c"/>
<circle cx="225.86" cy="845.32" r="0.95" fill="#f3865c"/>
<circle cx="237.91" cy="846.46" r="0.95" fill="#f3865c"/>
<circle cx="239.12" cy="835.40" r="0.95" fill="#f3865c"/>
<circle cx="245.49" cy="843.22" r="0.95" fill="#f3865c"/>
<circle cx="242.26" cy="839.55" r="0.95" fill="#f3865c"/>
<circle cx="243.08" cy="857.77" r="0.95" fill="#f3865c"/>
<circle cx="237.33" cy="841.17" r="0.95" fill="#f3865c"/>
<circle cx="236.97" cy="850.95" r="0.95" fill="#f3865c"/>
<circle cx="237.03" cy="838.11" r="0.95" fill="#f3865c"/>
<circle cx="247.06" cy="844.50" r="0.95" fill="#f3865c"/>
<circle cx="236.75" cy="850.40" r="0.95" fill="#f3865c"/>
<circle cx="227.75" cy="855.24" r="0.95" fill="#f3865c"/>
<circle cx="220.72" cy="857.30" r="0.95" fill="#f3865c"/>
<circle cx="224.25" cy="843.97" r="0.95" fill="#f3865c"/>
<circle cx="232.72" cy="835.92" r="0.95" fill="#f3865c"/>
<circle cx="224.15" cy="857.55" r="0.95" fill="#f3865c"/>
<circle cx="225.30" cy="844.43" r="0.95" fill="#f3865c"/>
<circle cx="240.26" cy="839.48" r="0.95" fill="#f3865c"/>
<circle cx="222.45" cy="839.32" r="0.95" fill="#f3865c"/>
<circle cx="228.39" cy="843.95" r="0.95" fill="#f3865c"/>
<circle cx="236.41" cy="847.31" r="0.95" fill="#f3865c"/>
<circle cx="237.11" cy="858.83" r="0.95" fill="#f3865c"/>
<circle cx="230.08" cy="836.06" r="0.95" fill="#f3865c"/>
<circle cx="230.75" cy="854.88" r="0.95" fill="#f3865c"/>
<circle cx="231.36" cy="837.89" r="0.95" fill="#f3865c"/>
<circle cx="223.60" cy="846.31" r="0.95" fill="#f3865c"/>
<circle cx="227.67" cy="847.23" r="0.95" fill="#f3865c"/>
<circle cx="245.62" cy="849.93" r="0.95" fill="#f3865c"/>
<circle cx="239.62" cy="850.19" r="0.95" fill="#f3865c"/>
<circle cx="245.84" cy="848.98" r="0.95" fill="#f3865c"/>
<circle cx="223.88" cy="837.79" r="0.95" fill="#f3865c"/>
<circle cx="243.38" cy="839.11" r="0.95" fill="#f3865c"/>
<circle cx="218.99" cy="840.78" r="0.95" fill="#f3865c"/>
<circle cx="245.23" cy="846.97" r="0.95" fill="#f3865c"/>
<circle cx="239.22" cy="834.75" r="0.95" fill="#f3865c"/>
<circle cx="230.53" cy="842.44" r="0.95" fill="#f3865c"/>
<circle cx="222.81" cy="853.35" r="0.95" fill="#f3865c"/>
<circle cx="227.67" cy="836.18" r="0.95" fill="#f3865c"/>
<circle cx="247.11" cy="847.62" r="0.95" fill="#f3865c"/>
<circle cx="236.77" cy="848.66" r="0.95" fill="#f3865c"/>
<circle cx="217.16" cy="847.26" r="0.95" fill="#f3865c"/>
<circle cx="239.50" cy="849.37" r="0.95" fill="#f3865c"/>
<circle cx="223.70" cy="848.17" r="0.95" fill="#f3865c"/>
<circle cx="235.27" cy="852.98" r="0.95" fill="#f3865c"/>
<circle cx="220.93" cy="857.79" r="0.95" fill="#f3865c"/>
<circle cx="243.15" cy="844.02" r="0.95" fill="#f3865c"/>
<circle cx="223.48" cy="851.30" r="0.95" fill="#f3865c"/>
<circle cx="230.10" cy="836.84" r="0.95" fill="#f3865c"/>
<circle cx="222.38" cy="856.07" r="0.95" fill="#f3865c"/>
<circle cx="234.60" cy="862.09" r="0.95" fill="#f3865c"/>
<circle cx="228.94" cy="853.86" r="0.95" fill="#f3865c"/>
<circle cx="223.67" cy="847.47" r="0.95" fill="#f3865c"/>
<circle cx="232.36" cy="862.37" r="0.95" fill="#f3865c"/>
<circle cx="231.75" cy="863.74" r="0.95" fill="#f3865c"/>
<circle cx="235.78" cy="839.24" r="0.95" fill="#f3865c"/>
<circle cx="242.42" cy="838.78" r="0.95" fill="#f3865c"/>
<circle cx="226.44" cy="845.26" r="0.95" fill="#f3865c"/>
<circle cx="227.11" cy="853.53" r="0.95" fill="#f3865c"/>
<circle cx="217.12" cy="844.22" r="0.95" fill="#f3865c"/>
<circle cx="221.46" cy="858.57" r="0.95" fill="#f3865c"/>
<circle cx="224.44" cy="846.75" r="0.95" fill="#f3865c"/>
<circle cx="233.93" cy="854.89" r="0.95" fill="#f3865c"/>
<circle cx="220.70" cy="840.00" r="0.95" fill="#f3865c"/>
<circle cx="232.69" cy="850.77" r="0.95" fill="#f3865c"/>
<circle cx="223.71" cy="837.69" r="0.95" fill="#f3865c"/>
<circle cx="234.67" cy="846.70" r="0.95" fill="#f3865c"/>
<circle cx="229.16" cy="860.47" r="0.95" fill="#f3865c"/>
<circle cx="237.05" cy="859.58" r="0.95" fill="#f3865c"/>
<circle cx="245.79" cy="845.28" r="0.95" fill="#f3865c"/>
<circle cx="225.44" cy="841.53" r="0.95" fill="#f3865c"/>
<circle cx="229.51" cy="849.13" r="0.95" fill="#f3865c"/>
<circle cx="242.88" cy="857.90" r="0.95" fill="#f3865c"/>
<circle cx="236.79" cy="848.60" r="0.95" fill="#f3865c"/>
<circle cx="220.04" cy="840.10" r="0.95" fill="#f3865c"/>
<circle cx="236.93" cy="850.93" r="0.95" fill="#f3865c"/>
<circle cx="241.39" cy="860.80" r="0.95" fill="#f3865c"/>
<circle cx="234.19" cy="838.14" r="0.95" fill="#f3865c"/>
<circle cx="237.99" cy="840.48" r="0.95" fill="#f3865c"/>
<circle cx="223.78" cy="843.97" r="0.95" fill="#f3865c"/>
<circle cx="232.74" cy="853.81" r="0.95" fill="#f3865c"/>
<circle cx="218.69" cy="855.82" r="0.95" fill="#f3865c"/>
<circle cx="235.88" cy="847.31" r="0.95" fill="#f3865c"/>
<circle cx="237.37" cy="857.67" r="0.95" fill="#f3865c"/>
<circle cx="216.70" cy="847.42" r="0.95" fill="#f3865c"/>
<circle cx="237.55" cy="854.81" r="0.95" fill="#f3865c"/>
<circle cx="236.60" cy="838.10" r="0.95" fill="#f3865c"/>
<circle cx="223.67" cy="846.01" r="0.95" fill="#f3865c"/>
<circle cx="229.16" cy="862.79" r="0.95" fill="#f3865c"/>
<circle cx="244.48" cy="839.75" r="0.95" fill="#f3865c"/>
<circle cx="239.34" cy="843.77" r="0.95" fill="#f3865c"/>
<circle cx="237.10" cy="856.63" r="0.95" fill="#f3865c"/>
<circle cx="220.38" cy="839.43" r="0.95" fill="#f3865c"/>
<circle cx="223.11" cy="840.81" r="0.95" fill="#f3865c"/>
<circle cx="229.07" cy="845.70" r="0.95" fill="#f3865c"/>
<circle cx="218.83" cy="850.80" r="0.95" fill="#f3865c"/>
<circle cx="245.80" cy="850.63" r="0.95" fill="#f3865c"/>
<circle cx="227.50" cy="854.66" r="0.95" fill="#f3865c"/>
<circle cx="230.04" cy="837.94" r="0.95" fill="#f3865c"/>
<circle cx="231.43" cy="832.96" r="0.95" fill="#f3865c"/>
<circle cx="237.49" cy="837.49" r="0.95" fill="#f3865c"/>
<circle cx="227.93" cy="862.81" r="0.95" fill="#f3865c"/>
<circle cx="240.32" cy="858.80" r="0.95" fill="#f3865c"/>
<circle cx="236.43" cy="852.45" r="0.95" fill="#f3865c"/>
<circle cx="222.52" cy="856.61" r="0.95" fill="#f3865c"/>
<circle cx="225.79" cy="840.48" r="0.95" fill="#f3865c"/>
<circle cx="242.03" cy="851.40" r="0.95" fill="#f3865c"/>
<circle cx="234.77" cy="838.67" r="0.95" fill="#f3865c"/>
<circle cx="216.87" cy="849.30" r="0.95" fill="#f3865c"/>
<circle cx="239.04" cy="841.01" r="0.95" fill="#f3865c"/>
<circle cx="221.80" cy="854.39" r="0.95" fill="#f3865c"/>
<circle cx="224.67" cy="854.87" r="0.95" fill="#f3865c"/>
<circle cx="226.86" cy="848.91" r="0.95" fill="#f3865c"/>
<circle cx="226.39" cy="845.59" r="0.95" fill="#f3865c"/>
<circle cx="231.34" cy="840.57" r="0.95" fill="#f3865c"/>
<circle cx="235.87" cy="854.41" r="0.95" fill="#f3865c"/>
<circle cx="224.60" cy="857.42" r="0.95" fill="#f3865c"/>
<circle cx="239.14" cy="843.20" r="0.95" fill="#f3865c"/>
<circle cx="231.74" cy="838.35" r="0.95" fill="#f3865c"/>
<circle cx="245.38" cy="850.11" r="0.95" fill="#f3865c"/>
<circle cx="238.01" cy="844.57" r="0.95" fill="#f3865c"/>
<circle cx="238.77" cy="839.65" r="0.95" fill="#f3865c"/>
<circle cx="241.27" cy="857.74" r="0.95" fill="#f3865c"/>
<circle cx="219.34" cy="850.92" r="0.95" fill="#f3865c"/>
<circle cx="222.37" cy="854.77" r="0.95" fill="#f3865c"/>
<circle cx="241.49" cy="857.40" r="0.95" fill="#f3865c"/>
<circle cx="223.61" cy="835.35" r="0.95" fill="#f3865c"/>
<circle cx="237.10" cy="850.25" r="0.95" fill="#f3865c"/>
<circle cx="220.71" cy="838.49" r="0.95" fill="#f3865c"/>
<circle cx="234.57" cy="835.81" r="0.95" fill="#f3865c"/>
<circle cx="236.18" cy="840.01" r="0.95" fill="#f3865c"/>
<circle cx="224.47" cy="845.78" r="0.95" fill="#f3865c"/>
<circle cx="233.03" cy="855.29" r="0.95" fill="#f3865c"/>
<circle cx="223.29" cy="841.59" r="0.95" fill="#f3865c"/>
<circle cx="236.36" cy="854.24" r="0.95" fill="#f3865c"/>
<circle cx="235.58" cy="860.90" r="0.95" fill="#f3865c"/>
<circle cx="222.78" cy="842.23" r="0.95" fill="#f3865c"/>
<circle cx="237.07" cy="840.64" r="0.95" fill="#f3865c"/>
<circle cx="221.31" cy="839.55" r="0.95" fill="#f3865c"/>
<circle cx="240.47" cy="858.53" r="0.95" fill="#f3865c"/>
<circle cx="241.18" cy="842.19" r="0.95" fill="#f3865c"/>
<circle cx="226.24" cy="855.19" r="0.95" fill="#f3865c"/>
<circle cx="218.14" cy="851.65" r="0.95" fill="#f3865c"/>
<circle cx="232.43" cy="837.18" r="0.95" fill="#f3865c"/>
<circle cx="230.81" cy="838.65" r="0.95" fill="#f3865c"/>
<circle cx="220.13" cy="848.41" r="0.95" fill="#f3865c"/>
<circle cx="232.66" cy="843.87" r="0.95" fill="#f3865c"/>
<circle cx="238.75" cy="849.12" r="0.95" fill="#f3865c"/>
<circle cx="240.59" cy="835.76" r="0.95" fill="#f3865c"/>
<circle cx="218.59" cy="844.63" r="0.95" fill="#f3865c"/>
<circle cx="231.49" cy="840.38" r="0.95" fill="#f3865c"/>
<circle cx="237.26" cy="839.41" r="0.95" fill="#f3865c"/>
<circle cx="226.33" cy="847.47" r="0.95" fill="#f3865c"/>
<circle cx="238.62" cy="856.74" r="0.95" fill="#f3865c"/>
<circle cx="228.00" cy="846.52" r="0.95" fill="#f3865c"/>
<circle cx="235.70" cy="835.72" r="0.95" fill="#f3865c"/>
<circle cx="230.62" cy="852.52" r="0.95" fill="#f3865c"/>
<circle cx="220.42" cy="847.12" r="0.95" fill="#f3865c"/>
<circle cx="235.72" cy="841.88" r="0.95" fill="#f3865c"/>
<circle cx="218.54" cy="856.12" r="0.95" fill="#f3865c"/>
<circle cx="240.45" cy="846.22" r="0.95" fill="#f3865c"/>
<circle cx="219.07" cy="844.85" r="0.95" fill="#f3865c"/>
<circle cx="218.00" cy="841.50" r="0.95" fill="#f3865c"/>
<circle cx="240.36" cy="836.67" r="0.95" fill="#f3865c"/>
<circle cx="221.52" cy="849.21" r="0.95" fill="#f3865c"/>
<circle cx="242.39" cy="837.74" r="0.95" fill="#f3865c"/>
<circle cx="221.82" cy="856.57" r="0.95" fill="#f3865c"/>
<circle cx="229.68" cy="843.08" r="0.95" fill="#f3865c"/>
<circle cx="220.25" cy="840.07" r="0.95" fill="#f3865c"/>
<circle cx="224.50" cy="855.80" r="0.95" fill="#f3865c"/>
<circle cx="231.15" cy="862.62" r="0.95" fill="#f3865c"/>
<circle cx="235.25" cy="841.52" r="0.95" fill="#f3865c"/>
<circle cx="230.92" cy="855.03" r="0.95" fill="#f3865c"/>
<circle cx="239.30" cy="836.50" r="0.95" fill="#f3865c"/>
<circle cx="226.97" cy="840.23" r="0.95" fill="#f3865c"/>
<circle cx="224.36" cy="847.23" r="0.95" fill="#f3865c"/>
<circle cx="243.06" cy="842.55" r="0.95" fill="#f3865c"/>
<circle cx="221.79" cy="855.93" r="0.95" fill="#f3865c"/>
<circle cx="227.06" cy="838.33" r="0.95" fill="#f3865c"/>
<circle cx="229.45" cy="858.36" r="0.95" fill="#f3865c"/>
<circle cx="243.33" cy="850.57" r="0.95" fill="#f3865c"/>
<circle cx="235.32" cy="860.82" r="0.95" fill="#f3865c"/>
<circle cx="246.10" cy="842.74" r="0.95" fill="#f3865c"/>
<circle cx="242.87" cy="858.28" r="0.95" fill="#f3865c"/>
<circle cx="224.70" cy="843.96" r="0.95" fill="#f3865c"/>
<circle cx="228.09" cy="843.55" r="0.95" fill="#f3865c"/>
<circle cx="228.20" cy="835.88" r="0.95" fill="#f3865c"/>
<circle cx="223.49" cy="861.14" r="0.95" fill="#f3865c"/>
<circle cx="229.21" cy="852.49" r="0.95" fill="#f3865c"/>
<circle cx="244.08" cy="856.28" r="0.95" fill="#f3865c"/>
<circle cx="224.02" cy="861.46" r="0.95" fill="#f3865c"/>
<circle cx="239.12" cy="856.25" r="0.95" fill="#f3865c"/>
<circle cx="241.77" cy="840.40" r="0.95" fill="#f3865c"/>
<circle cx="236.87" cy="844.43" r="0.95" fill="#f3865c"/>
<circle cx="242.60" cy="836.62" r="0.95" fill="#f3865c"/>
<circle cx="233.22" cy="843.03" r="0.95" fill="#f3865c"/>
<circle cx="242.00" cy="843.31" r="0.95" fill="#f3865c"/>
<circle cx="242.73" cy="859.19" r="0.95" fill="#f3865c"/>
<circle cx="237.52" cy="853.02" r="0.95" fill="#f3865c"/>
<circle cx="233.49" cy="846.80" r="0.95" fill="#f3865c"/>
<circle cx="226.99" cy="857.14" r="0.95" fill="#f3865c"/>
<circle cx="240.81" cy="859.89" r="0.95" fill="#f3865c"/>
<circle cx="223.08" cy="843.16" r="0.95" fill="#f3865c"/>
<circle cx="224.18" cy="835.57" r="0.95" fill="#f3865c"/>
<circle cx="241.25" cy="839.58" r="0.95" fill="#f3865c"/>
<circle cx="239.52" cy="838.67" r="0.95" fill="#f3865c"/>
<circle cx="230.82" cy="845.10" r="0.95" fill="#f3865c"/>
<circle cx="226.07" cy="852.38" r="0.95" fill="#f3865c"/>
<circle cx="244.32" cy="847.27" r="0.95" fill="#f3865c"/>
<circle cx="244.47" cy="855.59" r="0.95" fill="#f3865c"/>
<circle cx="226.12" cy="860.02" r="0.95" fill="#f3865c"/>
<circle cx="234.29" cy="835.75" r="0.95" fill="#f3865c"/>
<circle cx="234.73" cy="858.60" r="0.95" fill="#f3865c"/>
<circle cx="232.58" cy="847.70" r="0.95" fill="#f3865c"/>
<circle cx="229.39" cy="860.22" r="0.95" fill="#f3865c"/>
<circle cx="237.16" cy="838.97" r="0.95" fill="#f3865c"/>
<circle cx="227.71" cy="843.88" r="0.95" fill="#f3865c"/>
<circle cx="246.31" cy="854.39" r="0.95" fill="#f3865c"/>
<circle cx="217.49" cy="851.07" r="0.95" fill="#f3865c"/>
<circle cx="229.89" cy="855.07" r="0.95" fill="#f3865c"/>
<circle cx="229.79" cy="835.32" r="0.95" fill="#f3865c"/>
<circle cx="232.74" cy="858.33" r="0.95" fill="#f3865c"/>
<circle cx="241.01" cy="843.67" r="0.95" fill="#f3865c"/>
<circle cx="223.34" cy="855.94" r="0.95" fill="#f3865c"/>
<circle cx="241.41" cy="839.32" r="0.95" fill="#f3865c"/>
<circle cx="229.92" cy="844.43" r="0.95" fill="#f3865c"/>
<circle cx="238.55" cy="861.78" r="0.95" fill="#f3865c"/>
<circle cx="222.69" cy="841.94" r="0.95" fill="#f3865c"/>
<circle cx="226.67" cy="855.54" r="0.95" fill="#f3865c"/>
<circle cx="222.23" cy="849.68" r="0.95" fill="#f3865c"/>
<circle cx="232.01" cy="853.52" r="0.95" fill="#f3865c"/>
<circle cx="241.21" cy="838.19" r="0.95" fill="#f3865c"/>
<circle cx="244.80" cy="849.82" r="0.95" fill="#f3865c"/>
<circle cx="240.10" cy="859.84" r="0.95" fill="#f3865c"/>
<circle cx="227.69" cy="861.60" r="0.95" fill="#f3865c"/>
<circle cx="232.07" cy="860.80" r="0.95" fill="#f3865c"/>
<circle cx="232.34" cy="861.87" r="0.95" fill="#f3865c"/>
<circle cx="233.87" cy="836.94" r="0.95" fill="#f3865c"/>
<circle cx="236.09" cy="857.79" r="0.95" fill="#f3865c"/>
<circle cx="229.62" cy="851.43" r="0.95" fill="#f3865c"/>
<circle cx="224.49" cy="841.12" r="0.95" fill="#f3865c"/>
<circle cx="229.51" cy="848.62" r="0.95" fill="#f3865c"/>
<circle cx="231.01" cy="835.32" r="0.95" fill="#f3865c"/>
<circle cx="238.77" cy="856.05" r="0.95" fill="#f3865c"/>
<circle cx="223.80" cy="840.48" r="0.95" fill="#f3865c"/>
<circle cx="232.52" cy="837.94" r="0.95" fill="#f3865c"/>
<circle cx="235.21" cy="860.97" r="0.95" fill="#f3865c"/>
<circle cx="222.70" cy="850.90" r="0.95" fill="#f3865c"/>
<circle cx="238.89" cy="856.08" r="0.95" fill="#f3865c"/>
<circle cx="238.62" cy="854.85" r="0.95" fill="#f3865c"/>
<circle cx="224.90" cy="858.89" r="0.95" fill="#f3865c"/>
<circle cx="245.86" cy="846.39" r="0.95" fill="#f3865c"/>
<circle cx="241.26" cy="853.81" r="0.95" fill="#f3865c"/>
<circle cx="220.83" cy="846.94" r="0.95" fill="#f3865c"/>
<circle cx="226.88" cy="856.62" r="0.95" fill="#f3865c"/>
<circle cx="224.05" cy="838.68" r="0.95" fill="#f3865c"/>
<circle cx="221.43" cy="845.36" r="0.95" fill="#f3865c"/>
<circle cx="235.69" cy="841.98" r="0.95" fill="#f3865c"/>
<circle cx="221.45" cy="839.30" r="0.95" fill="#f3865c"/>
<circle cx="226.25" cy="848.34" r="0.95" fill="#f3865c"/>
<circle cx="222.13" cy="847.56" r="0.95" fill="#f3865c"/>
<circle cx="230.12" cy="863.15" r="0.95" fill="#f3865c"/>
<circle cx="231.57" cy="862.26" r="0.95" fill="#f3865c"/>
<circle cx="231.11" cy="838.66" r="0.95" fill="#f3865c"/>
<circle cx="234.87" cy="836.97" r="0.95" fill="#f3865c"/>
<circle cx="228.99" cy="843.59" r="0.95" fill="#f3865c"/>
<circle cx="229.67" cy="843.52" r="0.95" fill="#f3865c"/>
<circle cx="237.95" cy="844.78" r="0.95" fill="#f3865c"/>
<circle cx="234.26" cy="832.60" r="0.95" fill="#f3865c"/>
<circle cx="242.90" cy="855.42" r="0.95" fill="#f3865c"/>
<circle cx="227.46" cy="852.31" r="0.95" fill="#f3865c"/>
<circle cx="245.11" cy="845.09" r="0.95" fill="#f3865c"/>
<circle cx="229.90" cy="841.82" r="0.95" fill="#f3865c"/>
<circle cx="233.69" cy="853.34" r="0.95" fill="#f3865c"/>
<circle cx="220.93" cy="843.96" r="0.95" fill="#f3865c"/>
<circle cx="242.97" cy="857.40" r="0.95" fill="#f3865c"/>
<circle cx="234.81" cy="853.80" r="0.95" fill="#f3865c"/>
<circle cx="227.01" cy="862.26" r="0.95" fill="#f3865c"/>
<circle cx="233.54" cy="845.12" r="0.95" fill="#f3865c"/>
<circle cx="222.09" cy="836.05" r="0.95" fill="#f3865c"/>
<circle cx="244.40" cy="857.70" r="0.95" fill="#f3865c"/>
<circle cx="231.36" cy="848.06" r="0.95" fill="#f3865c"/>
<circle cx="227.74" cy="860.69" r="0.95" fill="#f3865c"/>
<circle cx="227.31" cy="849.21" r="0.95" fill="#f3865c"/>
<circle cx="245.40" cy="852.60" r="0.95" fill="#f3865c"/>
<circle cx="231.28" cy="842.91" r="0.95" fill="#f3865c"/>
<circle cx="228.48" cy="851.65" r="0.95" fill="#f3865c"/>
<circle cx="240.92" cy="840.64" r="0.95" fill="#f3865c"/>
<circle cx="227.96" cy="844.65" r="0.95" fill="#f3865c"/>
<circle cx="227.72" cy="861.25" r="0.95" fill="#f3865c"/>
<circle cx="233.22" cy="841.12" r="0.95" fill="#f3865c"/>
<circle cx="226.77" cy="858.36" r="0.95" fill="#f3865c"/>
<circle cx="221.40" cy="854.20" r="0.95" fill="#f3865c"/>
<circle cx="220.98" cy="839.60" r="0.95" fill="#f3865c"/>
<circle cx="239.28" cy="855.16" r="0.95" fill="#f3865c"/>
<circle cx="233.59" cy="861.53" r="0.95" fill="#f3865c"/>
<circle cx="229.94" cy="838.50" r="0.95" fill="#f3865c"/>
<circle cx="239.74" cy="859.53" r="0.95" fill="#f3865c"/>
<circle cx="228.44" cy="835.34" r="0.95" fill="#f3865c"/>
<circle cx="243.64" cy="856.21" r="0.95" fill="#f3865c"/>
<circle cx="235.03" cy="863.27" r="0.95" fill="#f3865c"/>
<circle cx="238.50" cy="852.31" r="0.95" fill="#f3865c"/>
<circle cx="222.04" cy="851.65" r="0.95" fill="#f3865c"/>
<circle cx="227.65" cy="863.34" r="0.95" fill="#f3865c"/>
<circle cx="229.96" cy="844.75" r="0.95" fill="#f3865c"/>
<circle cx="224.30" cy="839.75" r="0.95" fill="#f3865c"/>
<circle cx="238.42" cy="837.93" r="0.95" fill="#f3865c"/>
<circle cx="222.01" cy="837.21" r="0.95" fill="#f3865c"/>
<circle cx="227.35" cy="855.69" r="0.95" fill="#f3865c"/>
<circle cx="218.24" cy="849.15" r="0.95" fill="#f3865c"/>
<circle cx="230.11" cy="857.39" r="0.95" fill="#f3865c"/>
<circle cx="234.36" cy="846.67" r="0.95" fill="#f3865c"/>
<circle cx="243.90" cy="851.39" r="0.95" fill="#f3865c"/>
<circle cx="226.91" cy="844.91" r="0.95" fill="#f3865c"/>
<circle cx="244.94" cy="850.12" r="0.95" fill="#f3865c"/>
<circle cx="220.85" cy="837.93" r="0.95" fill="#f3865c"/>
<circle cx="228.36" cy="854.23" r="0.95" fill="#f3865c"/>
<circle cx="240.92" cy="848.67" r="0.95" fill="#f3865c"/>
<circle cx="229.32" cy="853.55" r="0.95" fill="#f3865c"/>
<circle cx="234.18" cy="855.42" r="0.95" fill="#f3865c"/>
<circle cx="229.15" cy="862.73" r="0.95" fill="#f3865c"/>
<circle cx="235.59" cy="842.40" r="0.95" fill="#f3865c"/>
<circle cx="228.15" cy="840.90" r="0.95" fill="#f3865c"/>
<circle cx="244.60" cy="857.43" r="0.95" fill="#f3865c"/>
<circle cx="240.99" cy="858.35" r="0.95" fill="#f3865c"/>
<circle cx="226.33" cy="856.34" r="0.95" fill="#f3865c"/>
<circle cx="224.58" cy="851.70" r="0.95" fill="#f3865c"/>
<circle cx="221.34" cy="859.50" r="0.95" fill="#f3865c"/>
<circle cx="231.65" cy="841.09" r="0.95" fill="#f3865c"/>
<circle cx="221.05" cy="856.45" r="0.95" fill="#f3865c"/>
<circle cx="234.29" cy="861.07" r="0.95" fill="#f3865c"/>
<circle cx="234.70" cy="845.90" r="0.95" fill="#f3865c"/>
<circle cx="240.64" cy="835.65" r="0.95" fill="#f3865c"/>
<circle cx="225.03" cy="835.99" r="0.95" fill="#f3865c"/>
<circle cx="243.58" cy="846.36" r="0.95" fill="#f3865c"/>
<circle cx="239.06" cy="840.51" r="0.95" fill="#f3865c"/>
<circle cx="239.19" cy="852.90" r="0.95" fill="#f3865c"/>
<circle cx="219.44" cy="848.01" r="0.95" fill="#f3865c"/>
<circle cx="238.92" cy="839.18" r="0.95" fill="#f3865c"/>
<circle cx="236.81" cy="841.18" r="0.95" fill="#f3865c"/>
<circle cx="227.96" cy="861.47" r="0.95" fill="#f3865c"/>
<circle cx="229.71" cy="850.47" r="0.95" fill="#f3865c"/>
<circle cx="241.62" cy="856.37" r="0.95" fill="#f3865c"/>
<circle cx="230.63" cy="859.69" r="0.95" fill="#f3865c"/>
<circle cx="228.92" cy="862.42" r="0.95" fill="#f3865c"/>
<circle cx="231.15" cy="836.15" r="0.95" fill="#f3865c"/>
<circle cx="239.77" cy="836.98" r="0.95" fill="#f3865c"/>
<circle cx="237.60" cy="834.09" r="0.95" fill="#f3865c"/>
<circle cx="247.23" cy="849.49" r="0.95" fill="#f3865c"/>
<circle cx="239.50" cy="836.54" r="0.95" fill="#f3865c"/>
<circle cx="236.27" cy="844.30" r="0.95" fill="#f3865c"/>
<circle cx="224.17" cy="858.15" r="0.95" fill="#f3865c"/>
<circle cx="217.44" cy="847.50" r="0.95" fill="#f3865c"/>
<circle cx="230.89" cy="847.22" r="0.95" fill="#f3865c"/>
<circle cx="238.82" cy="855.44" r="0.95" fill="#f3865c"/>
<circle cx="227.11" cy="861.88" r="0.95" fill="#f3865c"/>
<circle cx="222.18" cy="836.72" r="0.95" fill="#f3865c"/>
<circle cx="241.82" cy="836.19" r="0.95" fill="#f3865c"/>
<circle cx="222.20" cy="848.20" r="0.95" fill="#f3865c"/>
<circle cx="226.89" cy="837.58" r="0.95" fill="#f3865c"/>
<circle cx="245.41" cy="847.37" r="0.95" fill="#f3865c"/>
<circle cx="240.92" cy="840.31" r="0.95" fill="#f3865c"/>
<circle cx="244.87" cy="839.39" r="0.95" fill="#f3865c"/>
<circle cx="244.68" cy="851.77" r="0.95" fill="#f3865c"/>
<circle cx="236.08" cy="849.24" r="0.95" fill="#f3865c"/>
<circle cx="243.07" cy="846.42" r="0.95" fill="#f3865c"/>
<circle cx="241.53" cy="853.95" r="0.95" fill="#f3865c"/>
<circle cx="239.64" cy="839.73" r="0.95" fill="#f3865c"/>
<circle cx="230.86" cy="858.40" r="0.95" fill="#f3865c"/>
<circle cx="221.41" cy="854.01" r="0.95" fill="#f3865c"/>
<circle cx="233.69" cy="845.20" r="0.95" fill="#f3865c"/>
<circle cx="221.63" cy="836.73" r="0.95" fill="#f3865c"/>
<circle cx="231.07" cy="847.98" r="0.95" fill="#f3865c"/>
<circle cx="224.76" cy="844.02" r="0.95" fill="#f3865c"/>
<circle cx="233.69" cy="856.48" r="0.95" fill="#f3865c"/>
<circle cx="234.79" cy="837.52" r="0.95" fill="#f3865c"/>
<circle cx="244.05" cy="844.02" r="0.95" fill="#f3865c"/>
<circle cx="220.78" cy="850.80" r="0.95" fill="#f3865c"/>
<circle cx="246.56" cy="844.57" r="0.95" fill="#f3865c"/>
<circle cx="233.48" cy="842.32" r="0.95" fill="#f3865c"/>
<circle cx="220.27" cy="841.38" r="0.95" fill="#f3865c"/>
<circle cx="236.04" cy="850.19" r="0.95" fill="#f3865c"/>
<circle cx="245.98" cy="854.06" r="0.95" fill="#f3865c"/>
<circle cx="227.70" cy="862.40" r="0.95" fill="#f3865c"/>
<circle cx="236.18" cy="849.57" r="0.95" fill="#f3865c"/>
<circle cx="243.31" cy="853.57" r="0.95" fill="#f3865c"/>
<circle cx="227.64" cy="851.51" r="0.95" fill="#f3865c"/>
<circle cx="233.66" cy="838.90" r="0.95" fill="#f3865c"/>
<circle cx="232.23" cy="836.13" r="0.95" fill="#f3865c"/>
<circle cx="242.51" cy="853.54" r="0.95" fill="#f3865c"/>
<circle cx="237.75" cy="861.68" r="0.95" fill="#f3865c"/>
<circle cx="217.94" cy="845.88" r="0.95" fill="#f3865c"/>
<circle cx="234.14" cy="832.68" r="0.95" fill="#f3865c"/>
<circle cx="229.37" cy="860.92" r="0.95" fill="#f3865c"/>
<circle cx="234.79" cy="858.45" r="0.95" fill="#f3865c"/>
<circle cx="221.99" cy="858.70" r="0.95" fill="#f3865c"/>
<circle cx="224.74" cy="860.22" r="0.95" fill="#f3865c"/>
<circle cx="232.49" cy="842.62" r="0.95" fill="#f3865c"/>
<circle cx="246.55" cy="845.20" r="0.95" fill="#f3865c"/>
<circle cx="238.16" cy="834.53" r="0.95" fill="#f3865c"/>
<circle cx="219.85" cy="855.98" r="0.95" fill="#f3865c"/>
<circle cx="224.84" cy="837.07" r="0.95" fill="#f3865c"/>
<circle cx="227.76" cy="853.31" r="0.95" fill="#f3865c"/>
<circle cx="236.79" cy="837.49" r="0.95" fill="#f3865c"/>
<circle cx="239.05" cy="849.82" r="0.95" fill="#f3865c"/>
<circle cx="227.60" cy="860.84" r="0.95" fill="#f3865c"/>
<circle cx="224.36" cy="836.88" r="0.95" fill="#f3865c"/>
<circle cx="221.33" cy="837.12" r="0.95" fill="#f3865c"/>
<circle cx="234.76" cy="857.71" r="0.95" fill="#f3865c"/>
<circle cx="221.39" cy="848.29" r="0.95" fill="#f3865c"/>
<circle cx="234.32" cy="850.11" r="0.95" fill="#f3865c"/>
<circle cx="229.28" cy="849.58" r="0.95" fill="#f3865c"/>
<circle cx="229.59" cy="839.88" r="0.95" fill="#f3865c"/>
<circle cx="240.01" cy="840.04" r="0.95" fill="#f3865c"/>
<circle cx="242.11" cy="840.03" r="0.95" fill="#f3865c"/>
<circle cx="219.29" cy="847.49" r="0.95" fill="#f3865c"/>
<circle cx="228.49" cy="843.00" r="0.95" fill="#f3865c"/>
<circle cx="240.27" cy="839.43" r="0.95" fill="#f3865c"/>
<circle cx="237.30" cy="858.78" r="0.95" fill="#f3865c"/>
<circle cx="230.52" cy="848.30" r="0.95" fill="#f3865c"/>
<circle cx="245.22" cy="851.49" r="0.95" fill="#f3865c"/>
<circle cx="218.96" cy="842.88" r="0.95" fill="#f3865c"/>
<circle cx="219.17" cy="852.90" r="0.95" fill="#f3865c"/>
<circle cx="229.62" cy="842.15" r="0.95" fill="#f3865c"/>
<circle cx="232.38" cy="862.00" r="0.95" fill="#f3865c"/>
<circle cx="224.02" cy="837.29" r="0.95" fill="#f3865c"/>
<circle cx="225.93" cy="842.65" r="0.95" fill="#f3865c"/>
<circle cx="244.79" cy="854.72" r="0.95" fill="#f3865c"/>
<circle cx="229.78" cy="837.64" r="0.95" fill="#f3865c"/>
<circle cx="242.84" cy="852.88" r="0.95" fill="#f3865c"/>
<circle cx="221.29" cy="852.16" r="0.95" fill="#f3865c"/>
<circle cx="216.98" cy="839.51" r="0.95" fill="#f3865c"/>
<circle cx="214.79" cy="838.47" r="0.95" fill="#f3865c"/>
<circle cx="215.65" cy="837.34" r="0.95" fill="#f3865c"/>
<circle cx="214.32" cy="837.91" r="0.95" fill="#f3865c"/>
<circle cx="214.73" cy="837.42" r="0.95" fill="#f3865c"/>
<circle cx="215.03" cy="837.99" r="0.95" fill="#f3865c"/>
<circle cx="215.43" cy="838.42" r="0.95" fill="#f3865c"/>
<circle cx="310.00" cy="751.00" r="0.95" fill="#f3865c"/>
<circle cx="316.80" cy="747.80" r="0.95" fill="#f3865c"/>
<circle cx="217.40" cy="775.20" r="0.95" fill="#f3865c"/>
<circle cx="258.30" cy="817.10" r="0.95" fill="#f3865c"/>
<line x1="191.40" y1="738.20" x2="191.40" y2="868.50" stroke="#6d6e71" stroke-width="0.9"/>
<line x1="191.40" y1="868.50" x2="322.60" y2="868.50" stroke="#6d6e71" stroke-width="0.9"/>
<text x="255.80" y="735.80" font-size="9.8" text-anchor="middle" fill="#333333">TCGA KIPAN</text>
<text x="257.00" y="881.30" font-size="9.8" text-anchor="middle" fill="#333333">UMAP1</text>
<text x="187.50" y="803.00" font-size="9.8" text-anchor="middle" fill="#333333" transform="rotate(-90 187.50 803.00)">UMAP2</text>
<text x="332.10" y="773.50" font-size="10.4" font-style="italic" fill="#333333">Batch</text>
<circle cx="335.90" cy="780.20" r="3.0" fill="#e0332b"/>
<text x="342.60" y="782.90" font-size="8.3" fill="#333333">RCC</text>
<circle cx="335.90" cy="791.30" r="3.0" fill="#3a8ad4"/>
<text x="342.60" y="794.00" font-size="8.3" fill="#333333">TCGA KIPAN</text>
<text x="332.10" y="816.00" font-size="10.4" font-style="italic" fill="#333333">Cancer type</text>
<circle cx="335.90" cy="823.30" r="3.0" fill="#5dbf98"/>
<text x="342.60" y="826.00" font-size="8.3" fill="#333333">ChRCC</text>
<circle cx="335.90" cy="834.40" r="3.0" fill="#f3865c"/>
<text x="342.60" y="837.10" font-size="8.3" fill="#333333">ccRCC</text>
<circle cx="388.00" cy="823.30" r="3.0" fill="#8b96d2"/>
<text x="394.80" y="826.00" font-size="8.3" fill="#333333">pRCC</text>
<circle cx="388.00" cy="834.40" r="3.0" fill="#de7ec4"/>
<text x="394.80" y="837.10" font-size="8.3" fill="#333333">Normal</text>
<text transform="translate(442.30 393.00) scale(1 1)" font-size="16" font-weight="bold" fill="#111">e</text>
<line x1="495.00" y1="411.20" x2="495.00" y2="573.30" stroke="#f0f0f0" stroke-width="0.6"/>
<line x1="584.90" y1="411.20" x2="584.90" y2="573.30" stroke="#f0f0f0" stroke-width="0.6"/>
<line x1="674.80" y1="411.20" x2="674.80" y2="573.30" stroke="#f0f0f0" stroke-width="0.6"/>
<line x1="487.60" y1="418.20" x2="683.40" y2="418.20" stroke="#f0f0f0" stroke-width="0.6"/>
<line x1="487.60" y1="492.30" x2="683.40" y2="492.30" stroke="#f0f0f0" stroke-width="0.6"/>
<line x1="487.60" y1="566.30" x2="683.40" y2="566.30" stroke="#f0f0f0" stroke-width="0.6"/>
<circle cx="635.39" cy="424.34" r="2.3" fill="#d2d3d5"/>
<circle cx="636.81" cy="433.12" r="2.3" fill="#d2d3d5"/>
<circle cx="635.39" cy="444.44" r="2.3" fill="#d2d3d5"/>
<circle cx="635.96" cy="446.70" r="2.3" fill="#d2d3d5"/>
<circle cx="583.03" cy="464.25" r="2.3" fill="#d2d3d5"/>
<circle cx="587.56" cy="463.97" r="2.3" fill="#d2d3d5"/>
<circle cx="586.99" cy="473.03" r="2.3" fill="#d2d3d5"/>
<circle cx="595.48" cy="477.84" r="2.3" fill="#d2d3d5"/>
<circle cx="585.58" cy="480.95" r="2.3" fill="#d2d3d5"/>
<circle cx="601.43" cy="484.35" r="2.3" fill="#d2d3d5"/>
<circle cx="622.65" cy="468.78" r="2.3" fill="#d2d3d5"/>
<circle cx="623.50" cy="474.44" r="2.3" fill="#d2d3d5"/>
<circle cx="632.56" cy="478.97" r="2.3" fill="#d2d3d5"/>
<circle cx="634.26" cy="484.06" r="2.3" fill="#d2d3d5"/>
<circle cx="570.01" cy="487.46" r="2.3" fill="#d2d3d5"/>
<circle cx="611.05" cy="494.54" r="2.3" fill="#d2d3d5"/>
<circle cx="579.63" cy="498.22" r="2.3" fill="#d2d3d5"/>
<circle cx="580.76" cy="499.92" r="2.3" fill="#d2d3d5"/>
<circle cx="607.09" cy="501.90" r="2.3" fill="#d2d3d5"/>
<circle cx="608.79" cy="508.12" r="2.3" fill="#d2d3d5"/>
<circle cx="587.84" cy="506.14" r="2.3" fill="#d2d3d5"/>
<circle cx="558.69" cy="510.67" r="2.3" fill="#d2d3d5"/>
<circle cx="576.52" cy="511.80" r="2.3" fill="#d2d3d5"/>
<circle cx="579.07" cy="516.90" r="2.3" fill="#d2d3d5"/>
<circle cx="620.67" cy="514.07" r="2.3" fill="#d2d3d5"/>
<circle cx="570.29" cy="520.58" r="2.3" fill="#d2d3d5"/>
<circle cx="562.37" cy="524.54" r="2.3" fill="#d2d3d5"/>
<circle cx="583.59" cy="524.54" r="2.3" fill="#d2d3d5"/>
<circle cx="598.88" cy="526.80" r="2.3" fill="#d2d3d5"/>
<circle cx="570.01" cy="526.52" r="2.3" fill="#d2d3d5"/>
<circle cx="553.03" cy="531.05" r="2.3" fill="#d2d3d5"/>
<circle cx="551.33" cy="532.18" r="2.3" fill="#d2d3d5"/>
<circle cx="558.69" cy="530.20" r="2.3" fill="#d2d3d5"/>
<circle cx="564.91" cy="531.62" r="2.3" fill="#d2d3d5"/>
<circle cx="574.54" cy="531.90" r="2.3" fill="#d2d3d5"/>
<circle cx="580.76" cy="530.20" r="2.3" fill="#d2d3d5"/>
<circle cx="586.14" cy="533.60" r="2.3" fill="#d2d3d5"/>
<circle cx="568.03" cy="536.71" r="2.3" fill="#d2d3d5"/>
<circle cx="544.82" cy="538.13" r="2.3" fill="#d2d3d5"/>
<circle cx="584.73" cy="540.96" r="2.3" fill="#d2d3d5"/>
<circle cx="657.19" cy="446.70" r="2.3" fill="#26267f"/>
<circle cx="532.65" cy="529.35" r="2.3" fill="#26267f"/>
<circle cx="536.89" cy="543.50" r="2.3" fill="#26267f"/>
<circle cx="517.65" cy="545.20" r="2.3" fill="#26267f"/>
<circle cx="521.61" cy="551.15" r="2.3" fill="#26267f"/>
<circle cx="515.66" cy="553.69" r="2.3" fill="#26267f"/>
<circle cx="517.08" cy="557.66" r="2.3" fill="#26267f"/>
<circle cx="535.76" cy="553.13" r="2.3" fill="#26267f"/>
<circle cx="502.64" cy="565.58" r="2.3" fill="#26267f"/>
<line x1="487.60" y1="411.20" x2="487.60" y2="573.30" stroke="#6d6e71" stroke-width="0.9"/>
<line x1="487.60" y1="573.30" x2="683.40" y2="573.30" stroke="#6d6e71" stroke-width="0.9"/>
<line x1="495.00" y1="573.30" x2="495.00" y2="575.90" stroke="#6d6e71" stroke-width="1.0"/>
<text x="495.00" y="586.40" font-size="8.6" text-anchor="middle" fill="#333333">-0.5</text>
<line x1="584.90" y1="573.30" x2="584.90" y2="575.90" stroke="#6d6e71" stroke-width="1.0"/>
<text x="584.90" y="586.40" font-size="8.6" text-anchor="middle" fill="#333333">0</text>
<line x1="674.80" y1="573.30" x2="674.80" y2="575.90" stroke="#6d6e71" stroke-width="1.0"/>
<text x="674.80" y="586.40" font-size="8.6" text-anchor="middle" fill="#333333">0.5</text>
<line x1="485.00" y1="418.20" x2="487.60" y2="418.20" stroke="#6d6e71" stroke-width="1.0"/>
<text x="480.40" y="421.40" font-size="8.6" text-anchor="end" fill="#333333">0.5</text>
<line x1="485.00" y1="492.30" x2="487.60" y2="492.30" stroke="#6d6e71" stroke-width="1.0"/>
<text x="480.40" y="495.50" font-size="8.6" text-anchor="end" fill="#333333">0</text>
<line x1="485.00" y1="566.30" x2="487.60" y2="566.30" stroke="#6d6e71" stroke-width="1.0"/>
<text x="480.40" y="569.50" font-size="8.6" text-anchor="end" fill="#333333">-0.5</text>
<line x1="582.40" y1="411.50" x2="493.20" y2="411.50" stroke="#3d5a85" stroke-width="1.0"/>
<path d="M493.7,409.3 L489.2,411.5 L493.7,413.7 Z" fill="#3d5a85" stroke="none" stroke-width="1"/>
<line x1="590.60" y1="411.50" x2="680.20" y2="411.50" stroke="#3d5a85" stroke-width="1.0"/>
<path d="M679.7,409.3 L684.2,411.5 L679.7,413.7 Z" fill="#3d5a85" stroke="none" stroke-width="1"/>
<text x="534.80" y="406.80" font-size="8.8" text-anchor="middle" fill="#333333">Enriched in ccRCC</text>
<text x="637.40" y="406.80" font-size="8.8" text-anchor="middle" fill="#333333">Enriched in ChRCC</text>
<text x="460.20" y="492.30" font-size="10.4" text-anchor="middle" fill="#333333" transform="rotate(-90 460.20 492.30)">KIPAN (predicted)</text>
<text x="585.30" y="603.30" font-size="10.4" text-anchor="middle" fill="#333333">RCC (measured)</text>
<text x="544.60" y="522.80" font-size="8.6" text-anchor="end" fill="#333333">Lactate m + 3</text>
<line x1="529.50" y1="526.00" x2="532.60" y2="529.50" stroke="#231f20" stroke-width="0.9"/>
<text x="542.90" y="550.00" font-size="8.6" fill="#333333">Malate m + 3</text>
<line x1="538.60" y1="544.40" x2="542.30" y2="545.90" stroke="#231f20" stroke-width="0.9"/>
<text x="525.80" y="562.80" font-size="8.6" fill="#333333">Alanine m + 3</text>
<line x1="517.50" y1="557.60" x2="525.20" y2="559.20" stroke="#231f20" stroke-width="0.9"/>
<text x="510.30" y="572.00" font-size="8.6" fill="#333333">Aspartate m + 3</text>
<line x1="503.00" y1="565.60" x2="509.50" y2="567.60" stroke="#231f20" stroke-width="0.9"/>
<text x="640.0" y="558.5" font-size="8.6" fill="#333333"><tspan font-style="italic">r</tspan> = 0.85</text>
<text x="640.0" y="570.6" font-size="8.6" fill="#333333"><tspan font-style="italic">P</tspan> = 4&#8201;×&#8201;10<tspan font-size="5.8" dy="-3.5">–5</tspan></text>
<line x1="518.10" y1="655.10" x2="518.10" y2="817.10" stroke="#f0f0f0" stroke-width="0.6"/>
<line x1="560.90" y1="655.10" x2="560.90" y2="817.10" stroke="#f0f0f0" stroke-width="0.6"/>
<line x1="603.20" y1="655.10" x2="603.20" y2="817.10" stroke="#f0f0f0" stroke-width="0.6"/>
<line x1="644.30" y1="655.10" x2="644.30" y2="817.10" stroke="#f0f0f0" stroke-width="0.6"/>
<line x1="487.60" y1="659.20" x2="679.30" y2="659.20" stroke="#f0f0f0" stroke-width="0.6"/>
<line x1="487.60" y1="708.00" x2="679.30" y2="708.00" stroke="#f0f0f0" stroke-width="0.6"/>
<line x1="487.60" y1="756.90" x2="679.30" y2="756.90" stroke="#f0f0f0" stroke-width="0.6"/>
<line x1="487.60" y1="806.50" x2="679.30" y2="806.50" stroke="#f0f0f0" stroke-width="0.6"/>
<circle cx="565.66" cy="689.45" r="2.2" fill="#d2d3d5"/>
<circle cx="575.61" cy="687.79" r="2.2" fill="#d2d3d5"/>
<circle cx="586.10" cy="687.24" r="2.2" fill="#d2d3d5"/>
<circle cx="594.94" cy="688.62" r="2.2" fill="#d2d3d5"/>
<circle cx="574.78" cy="698.56" r="2.2" fill="#d2d3d5"/>
<circle cx="569.25" cy="704.64" r="2.2" fill="#d2d3d5"/>
<circle cx="576.16" cy="707.96" r="2.2" fill="#d2d3d5"/>
<circle cx="583.90" cy="705.47" r="2.2" fill="#d2d3d5"/>
<circle cx="590.52" cy="702.98" r="2.2" fill="#d2d3d5"/>
<circle cx="592.18" cy="702.43" r="2.2" fill="#d2d3d5"/>
<circle cx="589.97" cy="706.57" r="2.2" fill="#d2d3d5"/>
<circle cx="595.77" cy="708.78" r="2.2" fill="#d2d3d5"/>
<circle cx="598.54" cy="709.34" r="2.2" fill="#d2d3d5"/>
<circle cx="606.82" cy="703.81" r="2.2" fill="#d2d3d5"/>
<circle cx="558.48" cy="710.17" r="2.2" fill="#d2d3d5"/>
<circle cx="587.21" cy="721.77" r="2.2" fill="#d2d3d5"/>
<circle cx="594.67" cy="720.39" r="2.2" fill="#d2d3d5"/>
<circle cx="551.02" cy="731.99" r="2.2" fill="#d2d3d5"/>
<circle cx="552.40" cy="734.75" r="2.2" fill="#d2d3d5"/>
<circle cx="559.86" cy="730.33" r="2.2" fill="#d2d3d5"/>
<circle cx="565.94" cy="729.78" r="2.2" fill="#d2d3d5"/>
<circle cx="578.92" cy="730.61" r="2.2" fill="#d2d3d5"/>
<circle cx="593.29" cy="744.14" r="2.2" fill="#d2d3d5"/>
<circle cx="566.77" cy="748.56" r="2.2" fill="#d2d3d5"/>
<circle cx="518.70" cy="753.81" r="2.2" fill="#d2d3d5"/>
<circle cx="520.91" cy="761.55" r="2.2" fill="#d2d3d5"/>
<circle cx="588.31" cy="754.92" r="2.2" fill="#d2d3d5"/>
<circle cx="567.04" cy="765.69" r="2.2" fill="#d2d3d5"/>
<circle cx="561.24" cy="770.66" r="2.2" fill="#d2d3d5"/>
<circle cx="572.29" cy="772.87" r="2.2" fill="#d2d3d5"/>
<circle cx="551.02" cy="775.64" r="2.2" fill="#d2d3d5"/>
<circle cx="538.31" cy="790.55" r="2.2" fill="#d2d3d5"/>
<circle cx="578.09" cy="791.38" r="2.2" fill="#d2d3d5"/>
<circle cx="527.54" cy="809.34" r="2.2" fill="#d2d3d5"/>
<circle cx="610.14" cy="665.69" r="2.2" fill="#26267f"/>
<circle cx="630.86" cy="669.01" r="2.2" fill="#26267f"/>
<circle cx="650.47" cy="665.97" r="2.2" fill="#26267f"/>
<circle cx="659.59" cy="662.10" r="2.2" fill="#26267f"/>
<circle cx="670.91" cy="664.31" r="2.2" fill="#26267f"/>
<circle cx="654.89" cy="670.39" r="2.2" fill="#26267f"/>
<circle cx="648.26" cy="673.15" r="2.2" fill="#26267f"/>
<circle cx="643.56" cy="672.60" r="2.2" fill="#26267f"/>
<circle cx="666.49" cy="670.66" r="2.2" fill="#26267f"/>
<circle cx="614.01" cy="684.20" r="2.2" fill="#26267f"/>
<circle cx="619.81" cy="686.96" r="2.2" fill="#26267f"/>
<circle cx="619.25" cy="690.00" r="2.2" fill="#26267f"/>
<circle cx="630.30" cy="694.42" r="2.2" fill="#26267f"/>
<circle cx="632.79" cy="698.84" r="2.2" fill="#26267f"/>
<circle cx="623.12" cy="701.05" r="2.2" fill="#26267f"/>
<circle cx="620.08" cy="728.67" r="2.2" fill="#26267f"/>
<circle cx="496.33" cy="809.61" r="2.2" fill="#26267f"/>
<line x1="487.60" y1="655.10" x2="487.60" y2="817.10" stroke="#6d6e71" stroke-width="0.9"/>
<line x1="487.60" y1="817.10" x2="679.30" y2="817.10" stroke="#6d6e71" stroke-width="0.9"/>
<line x1="518.10" y1="817.10" x2="518.10" y2="819.70" stroke="#6d6e71" stroke-width="1.0"/>
<text x="518.10" y="830.10" font-size="9.2" text-anchor="middle" fill="#333333">-0.2</text>
<line x1="560.90" y1="817.10" x2="560.90" y2="819.70" stroke="#6d6e71" stroke-width="1.0"/>
<text x="560.90" y="830.10" font-size="9.2" text-anchor="middle" fill="#333333">0</text>
<line x1="603.20" y1="817.10" x2="603.20" y2="819.70" stroke="#6d6e71" stroke-width="1.0"/>
<text x="603.20" y="830.10" font-size="9.2" text-anchor="middle" fill="#333333">0.2</text>
<line x1="644.30" y1="817.10" x2="644.30" y2="819.70" stroke="#6d6e71" stroke-width="1.0"/>
<text x="644.30" y="830.10" font-size="9.2" text-anchor="middle" fill="#333333">0.4</text>
<line x1="485.00" y1="659.20" x2="487.60" y2="659.20" stroke="#6d6e71" stroke-width="1.0"/>
<text x="480.40" y="662.40" font-size="9.2" text-anchor="end" fill="#333333">0.50</text>
<line x1="485.00" y1="708.00" x2="487.60" y2="708.00" stroke="#6d6e71" stroke-width="1.0"/>
<text x="480.40" y="711.20" font-size="9.2" text-anchor="end" fill="#333333">0.25</text>
<line x1="485.00" y1="756.90" x2="487.60" y2="756.90" stroke="#6d6e71" stroke-width="1.0"/>
<text x="480.40" y="760.10" font-size="9.2" text-anchor="end" fill="#333333">0</text>
<line x1="485.00" y1="806.50" x2="487.60" y2="806.50" stroke="#6d6e71" stroke-width="1.0"/>
<text x="480.40" y="809.70" font-size="9.2" text-anchor="end" fill="#333333">-0.25</text>
<line x1="555.20" y1="651.90" x2="492.80" y2="651.90" stroke="#3d5a85" stroke-width="1.0"/>
<path d="M493.3,649.6999999999999 L488.8,651.9 L493.3,654.1 Z" fill="#3d5a85" stroke="none" stroke-width="1"/>
<line x1="565.00" y1="651.90" x2="681.40" y2="651.90" stroke="#3d5a85" stroke-width="1.0"/>
<path d="M680.9,649.6999999999999 L685.4,651.9 L680.9,654.1 Z" fill="#3d5a85" stroke="none" stroke-width="1"/>
<text x="522.60" y="644.10" font-size="8.8" text-anchor="middle" fill="#333333">Enriched in ccRCC</text>
<text x="625.20" y="644.10" font-size="8.8" text-anchor="middle" fill="#333333">Enriched in pRCC</text>
<text x="452.90" y="736.00" font-size="10.4" text-anchor="middle" fill="#333333" transform="rotate(-90 452.90 736.00)">KIPAN (predicted)</text>
<text x="583.70" y="847.60" font-size="10.4" text-anchor="middle" fill="#333333">RCC (measured)</text>
<text x="596.90" y="662.60" font-size="8.6" fill="#333333">Malate m + 2</text>
<line x1="647.20" y1="661.50" x2="658.00" y2="661.50" stroke="#231f20" stroke-width="0.9"/>
<text x="662.60" y="662.60" font-size="8.6" fill="#333333">Succinate m + 2</text>
<text x="585.00" y="676.70" font-size="8.6" fill="#333333">Aspartate m + 2</text>
<line x1="643.50" y1="674.50" x2="648.00" y2="672.60" stroke="#231f20" stroke-width="0.9"/>
<text x="619.80" y="683.40" font-size="8.6" fill="#333333">Glutamate m + 2</text>
<line x1="660.40" y1="675.90" x2="666.50" y2="670.90" stroke="#231f20" stroke-width="0.9"/>
<text x="629.50" y="691.70" font-size="8.6" fill="#333333">Citrate m + 2</text>
<line x1="620.00" y1="690.00" x2="628.60" y2="690.00" stroke="#231f20" stroke-width="0.9"/>
<text x="557.70" y="698.00" font-size="8.6" fill="#333333">Glutamine m + 2</text>
<line x1="605.20" y1="691.00" x2="613.50" y2="685.50" stroke="#231f20" stroke-width="0.9"/>
<text x="636.4" y="800.8" font-size="8.6" fill="#333333"><tspan font-style="italic">r</tspan> = 0.79</text>
<text x="636.4" y="810.0" font-size="8.6" fill="#333333"><tspan font-style="italic">P</tspan> = 5&#8201;×&#8201;10<tspan font-size="5.8" dy="-3.5">–12</tspan></text>
<circle cx="451.40" cy="857.50" r="2.1" fill="#26267f"/>
<text x="455.50" y="860.60" font-size="9.0" fill="#333333">Significantly consistent</text>
<circle cx="562.90" cy="857.50" r="2.1" fill="#e8212a"/>
<text x="567.00" y="860.60" font-size="9.0" fill="#333333">Significantly inconsistent</text>
<circle cx="681.00" cy="857.50" r="2.1" fill="#d2d3d5"/>
<text x="685.00" y="860.60" font-size="9.0" fill="#333333">Not significant</text>
<text transform="translate(0.50 903.40) scale(1 1)" font-size="16" font-weight="bold" fill="#111">f</text>
<line x1="39.70" y1="906.50" x2="39.70" y2="1036.60" stroke="#f1f1f1" stroke-width="0.6"/>
<line x1="45.07" y1="906.50" x2="45.07" y2="1036.60" stroke="#f1f1f1" stroke-width="0.6"/>
<line x1="50.44" y1="906.50" x2="50.44" y2="1036.60" stroke="#f1f1f1" stroke-width="0.6"/>
<line x1="55.81" y1="906.50" x2="55.81" y2="1036.60" stroke="#f1f1f1" stroke-width="0.6"/>
<line x1="61.18" y1="906.50" x2="61.18" y2="1036.60" stroke="#f1f1f1" stroke-width="0.6"/>
<line x1="66.55" y1="906.50" x2="66.55" y2="1036.60" stroke="#f1f1f1" stroke-width="0.6"/>
<line x1="71.92" y1="906.50" x2="71.92" y2="1036.60" stroke="#f1f1f1" stroke-width="0.6"/>
<line x1="77.29" y1="906.50" x2="77.29" y2="1036.60" stroke="#f1f1f1" stroke-width="0.6"/>
<line x1="82.66" y1="906.50" x2="82.66" y2="1036.60" stroke="#f1f1f1" stroke-width="0.6"/>
<line x1="88.03" y1="906.50" x2="88.03" y2="1036.60" stroke="#f1f1f1" stroke-width="0.6"/>
<line x1="93.40" y1="906.50" x2="93.40" y2="1036.60" stroke="#f1f1f1" stroke-width="0.6"/>
<line x1="98.77" y1="906.50" x2="98.77" y2="1036.60" stroke="#f1f1f1" stroke-width="0.6"/>
<line x1="104.14" y1="906.50" x2="104.14" y2="1036.60" stroke="#f1f1f1" stroke-width="0.6"/>
<line x1="109.51" y1="906.50" x2="109.51" y2="1036.60" stroke="#f1f1f1" stroke-width="0.6"/>
<line x1="114.88" y1="906.50" x2="114.88" y2="1036.60" stroke="#f1f1f1" stroke-width="0.6"/>
<line x1="120.25" y1="906.50" x2="120.25" y2="1036.60" stroke="#f1f1f1" stroke-width="0.6"/>
<line x1="125.62" y1="906.50" x2="125.62" y2="1036.60" stroke="#f1f1f1" stroke-width="0.6"/>
<line x1="130.99" y1="906.50" x2="130.99" y2="1036.60" stroke="#f1f1f1" stroke-width="0.6"/>
<line x1="136.36" y1="906.50" x2="136.36" y2="1036.60" stroke="#f1f1f1" stroke-width="0.6"/>
<line x1="141.73" y1="906.50" x2="141.73" y2="1036.60" stroke="#f1f1f1" stroke-width="0.6"/>
<line x1="147.10" y1="906.50" x2="147.10" y2="1036.60" stroke="#f1f1f1" stroke-width="0.6"/>
<line x1="152.47" y1="906.50" x2="152.47" y2="1036.60" stroke="#f1f1f1" stroke-width="0.6"/>
<line x1="157.84" y1="906.50" x2="157.84" y2="1036.60" stroke="#f1f1f1" stroke-width="0.6"/>
<line x1="163.21" y1="906.50" x2="163.21" y2="1036.60" stroke="#f1f1f1" stroke-width="0.6"/>
<line x1="168.58" y1="906.50" x2="168.58" y2="1036.60" stroke="#f1f1f1" stroke-width="0.6"/>
<line x1="173.95" y1="906.50" x2="173.95" y2="1036.60" stroke="#f1f1f1" stroke-width="0.6"/>
<line x1="179.32" y1="906.50" x2="179.32" y2="1036.60" stroke="#f1f1f1" stroke-width="0.6"/>
<line x1="184.69" y1="906.50" x2="184.69" y2="1036.60" stroke="#f1f1f1" stroke-width="0.6"/>
<line x1="190.06" y1="906.50" x2="190.06" y2="1036.60" stroke="#f1f1f1" stroke-width="0.6"/>
<line x1="195.43" y1="906.50" x2="195.43" y2="1036.60" stroke="#f1f1f1" stroke-width="0.6"/>
<line x1="200.80" y1="906.50" x2="200.80" y2="1036.60" stroke="#f1f1f1" stroke-width="0.6"/>
<line x1="206.17" y1="906.50" x2="206.17" y2="1036.60" stroke="#f1f1f1" stroke-width="0.6"/>
<line x1="211.54" y1="906.50" x2="211.54" y2="1036.60" stroke="#f1f1f1" stroke-width="0.6"/>
<line x1="216.91" y1="906.50" x2="216.91" y2="1036.60" stroke="#f1f1f1" stroke-width="0.6"/>
<line x1="222.28" y1="906.50" x2="222.28" y2="1036.60" stroke="#f1f1f1" stroke-width="0.6"/>
<line x1="227.65" y1="906.50" x2="227.65" y2="1036.60" stroke="#f1f1f1" stroke-width="0.6"/>
<line x1="233.02" y1="906.50" x2="233.02" y2="1036.60" stroke="#f1f1f1" stroke-width="0.6"/>
<line x1="238.39" y1="906.50" x2="238.39" y2="1036.60" stroke="#f1f1f1" stroke-width="0.6"/>
<line x1="243.76" y1="906.50" x2="243.76" y2="1036.60" stroke="#f1f1f1" stroke-width="0.6"/>
<line x1="249.13" y1="906.50" x2="249.13" y2="1036.60" stroke="#f1f1f1" stroke-width="0.6"/>
<line x1="254.50" y1="906.50" x2="254.50" y2="1036.60" stroke="#f1f1f1" stroke-width="0.6"/>
<line x1="259.87" y1="906.50" x2="259.87" y2="1036.60" stroke="#f1f1f1" stroke-width="0.6"/>
<line x1="265.24" y1="906.50" x2="265.24" y2="1036.60" stroke="#f1f1f1" stroke-width="0.6"/>
<line x1="270.61" y1="906.50" x2="270.61" y2="1036.60" stroke="#f1f1f1" stroke-width="0.6"/>
<line x1="275.98" y1="906.50" x2="275.98" y2="1036.60" stroke="#f1f1f1" stroke-width="0.6"/>
<line x1="281.35" y1="906.50" x2="281.35" y2="1036.60" stroke="#f1f1f1" stroke-width="0.6"/>
<line x1="286.72" y1="906.50" x2="286.72" y2="1036.60" stroke="#f1f1f1" stroke-width="0.6"/>
<line x1="292.09" y1="906.50" x2="292.09" y2="1036.60" stroke="#f1f1f1" stroke-width="0.6"/>
<line x1="297.46" y1="906.50" x2="297.46" y2="1036.60" stroke="#f1f1f1" stroke-width="0.6"/>
<line x1="302.83" y1="906.50" x2="302.83" y2="1036.60" stroke="#f1f1f1" stroke-width="0.6"/>
<line x1="308.20" y1="906.50" x2="308.20" y2="1036.60" stroke="#f1f1f1" stroke-width="0.6"/>
<line x1="313.57" y1="906.50" x2="313.57" y2="1036.60" stroke="#f1f1f1" stroke-width="0.6"/>
<line x1="318.94" y1="906.50" x2="318.94" y2="1036.60" stroke="#f1f1f1" stroke-width="0.6"/>
<line x1="324.31" y1="906.50" x2="324.31" y2="1036.60" stroke="#f1f1f1" stroke-width="0.6"/>
<line x1="329.68" y1="906.50" x2="329.68" y2="1036.60" stroke="#f1f1f1" stroke-width="0.6"/>
<line x1="335.05" y1="906.50" x2="335.05" y2="1036.60" stroke="#f1f1f1" stroke-width="0.6"/>
<line x1="340.42" y1="906.50" x2="340.42" y2="1036.60" stroke="#f1f1f1" stroke-width="0.6"/>
<line x1="345.79" y1="906.50" x2="345.79" y2="1036.60" stroke="#f1f1f1" stroke-width="0.6"/>
<line x1="351.16" y1="906.50" x2="351.16" y2="1036.60" stroke="#f1f1f1" stroke-width="0.6"/>
<line x1="356.53" y1="906.50" x2="356.53" y2="1036.60" stroke="#f1f1f1" stroke-width="0.6"/>
<line x1="361.90" y1="906.50" x2="361.90" y2="1036.60" stroke="#f1f1f1" stroke-width="0.6"/>
<line x1="36.50" y1="938.70" x2="365.00" y2="938.70" stroke="#f1f1f1" stroke-width="0.6"/>
<line x1="36.50" y1="975.30" x2="365.00" y2="975.30" stroke="#f1f1f1" stroke-width="0.6"/>
<line x1="36.50" y1="1011.90" x2="365.00" y2="1011.90" stroke="#f1f1f1" stroke-width="0.6"/>
<line x1="39.70" y1="911.60" x2="39.70" y2="941.60" stroke="#c4c4c4" stroke-width="0.7"/>
<line x1="45.07" y1="911.66" x2="45.07" y2="943.54" stroke="#c4c4c4" stroke-width="0.7"/>
<line x1="50.44" y1="918.13" x2="50.44" y2="951.67" stroke="#c4c4c4" stroke-width="0.7"/>
<line x1="55.81" y1="919.20" x2="55.81" y2="954.20" stroke="#c4c4c4" stroke-width="0.7"/>
<line x1="61.18" y1="919.65" x2="61.18" y2="955.95" stroke="#c4c4c4" stroke-width="0.7"/>
<line x1="66.55" y1="920.08" x2="66.55" y2="957.52" stroke="#c4c4c4" stroke-width="0.7"/>
<line x1="71.92" y1="920.38" x2="71.92" y2="958.82" stroke="#c4c4c4" stroke-width="0.7"/>
<line x1="77.29" y1="921.13" x2="77.29" y2="960.47" stroke="#c4c4c4" stroke-width="0.7"/>
<line x1="82.66" y1="921.74" x2="82.66" y2="961.86" stroke="#c4c4c4" stroke-width="0.7"/>
<line x1="88.03" y1="922.30" x2="88.03" y2="963.10" stroke="#c4c4c4" stroke-width="0.7"/>
<line x1="93.40" y1="924.99" x2="93.40" y2="966.41" stroke="#c4c4c4" stroke-width="0.7"/>
<line x1="98.77" y1="926.82" x2="98.77" y2="968.78" stroke="#c4c4c4" stroke-width="0.7"/>
<line x1="104.14" y1="927.49" x2="104.14" y2="969.91" stroke="#c4c4c4" stroke-width="0.7"/>
<line x1="109.51" y1="929.38" x2="109.51" y2="972.22" stroke="#c4c4c4" stroke-width="0.7"/>
<line x1="114.88" y1="934.19" x2="114.88" y2="977.41" stroke="#c4c4c4" stroke-width="0.7"/>
<line x1="120.25" y1="935.93" x2="120.25" y2="979.47" stroke="#c4c4c4" stroke-width="0.7"/>
<line x1="125.62" y1="938.08" x2="125.62" y2="981.92" stroke="#c4c4c4" stroke-width="0.7"/>
<line x1="130.99" y1="938.86" x2="130.99" y2="982.94" stroke="#c4c4c4" stroke-width="0.7"/>
<line x1="136.36" y1="939.74" x2="136.36" y2="984.06" stroke="#c4c4c4" stroke-width="0.7"/>
<line x1="141.73" y1="940.54" x2="141.73" y2="985.06" stroke="#c4c4c4" stroke-width="0.7"/>
<line x1="147.10" y1="943.46" x2="147.10" y2="988.14" stroke="#c4c4c4" stroke-width="0.7"/>
<line x1="152.47" y1="944.38" x2="152.47" y2="989.22" stroke="#c4c4c4" stroke-width="0.7"/>
<line x1="157.84" y1="945.41" x2="157.84" y2="990.39" stroke="#c4c4c4" stroke-width="0.7"/>
<line x1="163.21" y1="946.45" x2="163.21" y2="991.55" stroke="#c4c4c4" stroke-width="0.7"/>
<line x1="168.58" y1="947.60" x2="168.58" y2="992.80" stroke="#c4c4c4" stroke-width="0.7"/>
<line x1="173.95" y1="948.25" x2="173.95" y2="993.55" stroke="#c4c4c4" stroke-width="0.7"/>
<line x1="179.32" y1="949.21" x2="179.32" y2="994.59" stroke="#c4c4c4" stroke-width="0.7"/>
<line x1="184.69" y1="951.27" x2="184.69" y2="996.73" stroke="#c4c4c4" stroke-width="0.7"/>
<line x1="190.06" y1="953.24" x2="190.06" y2="998.76" stroke="#c4c4c4" stroke-width="0.7"/>
<line x1="195.43" y1="954.01" x2="195.43" y2="999.59" stroke="#c4c4c4" stroke-width="0.7"/>
<line x1="200.80" y1="956.29" x2="200.80" y2="1001.91" stroke="#c4c4c4" stroke-width="0.7"/>
<line x1="206.17" y1="957.17" x2="206.17" y2="1002.83" stroke="#c4c4c4" stroke-width="0.7"/>
<line x1="211.54" y1="958.15" x2="211.54" y2="1003.85" stroke="#c4c4c4" stroke-width="0.7"/>
<line x1="216.91" y1="959.23" x2="216.91" y2="1004.97" stroke="#c4c4c4" stroke-width="0.7"/>
<line x1="222.28" y1="959.91" x2="222.28" y2="1005.69" stroke="#c4c4c4" stroke-width="0.7"/>
<line x1="227.65" y1="961.10" x2="227.65" y2="1006.90" stroke="#c4c4c4" stroke-width="0.7"/>
<line x1="233.02" y1="962.19" x2="233.02" y2="1008.01" stroke="#c4c4c4" stroke-width="0.7"/>
<line x1="238.39" y1="963.08" x2="238.39" y2="1008.92" stroke="#c4c4c4" stroke-width="0.7"/>
<line x1="243.76" y1="964.97" x2="243.76" y2="1010.83" stroke="#c4c4c4" stroke-width="0.7"/>
<line x1="249.13" y1="965.96" x2="249.13" y2="1011.84" stroke="#c4c4c4" stroke-width="0.7"/>
<line x1="254.50" y1="967.05" x2="254.50" y2="1012.95" stroke="#c4c4c4" stroke-width="0.7"/>
<line x1="259.87" y1="968.05" x2="259.87" y2="1013.95" stroke="#c4c4c4" stroke-width="0.7"/>
<line x1="265.24" y1="968.94" x2="265.24" y2="1014.86" stroke="#c4c4c4" stroke-width="0.7"/>
<line x1="270.61" y1="969.84" x2="270.61" y2="1015.76" stroke="#c4c4c4" stroke-width="0.7"/>
<line x1="275.98" y1="970.83" x2="275.98" y2="1016.77" stroke="#c4c4c4" stroke-width="0.7"/>
<line x1="281.35" y1="972.13" x2="281.35" y2="1018.07" stroke="#c4c4c4" stroke-width="0.7"/>
<line x1="286.72" y1="973.03" x2="286.72" y2="1018.97" stroke="#c4c4c4" stroke-width="0.7"/>
<line x1="292.09" y1="974.92" x2="292.09" y2="1020.88" stroke="#c4c4c4" stroke-width="0.7"/>
<line x1="297.46" y1="977.02" x2="297.46" y2="1022.98" stroke="#c4c4c4" stroke-width="0.7"/>
<line x1="302.83" y1="978.12" x2="302.83" y2="1024.08" stroke="#c4c4c4" stroke-width="0.7"/>
<line x1="308.20" y1="979.12" x2="308.20" y2="1025.08" stroke="#c4c4c4" stroke-width="0.7"/>
<line x1="313.57" y1="980.01" x2="313.57" y2="1025.99" stroke="#c4c4c4" stroke-width="0.7"/>
<line x1="318.94" y1="981.01" x2="318.94" y2="1026.99" stroke="#c4c4c4" stroke-width="0.7"/>
<line x1="324.31" y1="981.91" x2="324.31" y2="1027.89" stroke="#c4c4c4" stroke-width="0.7"/>
<line x1="329.68" y1="983.21" x2="329.68" y2="1029.19" stroke="#c4c4c4" stroke-width="0.7"/>
<line x1="335.05" y1="984.21" x2="335.05" y2="1030.19" stroke="#c4c4c4" stroke-width="0.7"/>
<line x1="340.42" y1="985.31" x2="340.42" y2="1031.29" stroke="#c4c4c4" stroke-width="0.7"/>
<line x1="345.79" y1="986.01" x2="345.79" y2="1031.99" stroke="#c4c4c4" stroke-width="0.7"/>
<line x1="351.16" y1="987.01" x2="351.16" y2="1032.99" stroke="#c4c4c4" stroke-width="0.7"/>
<line x1="356.53" y1="987.91" x2="356.53" y2="1033.89" stroke="#c4c4c4" stroke-width="0.7"/>
<line x1="361.90" y1="988.90" x2="361.90" y2="1034.90" stroke="#c4c4c4" stroke-width="0.7"/>
<circle cx="39.70" cy="926.60" r="2.15" fill="#86cbe6"/>
<circle cx="45.07" cy="927.60" r="2.15" fill="#86cbe6"/>
<circle cx="50.44" cy="934.90" r="2.15" fill="#ef7a6a"/>
<circle cx="55.81" cy="936.70" r="2.15" fill="#86cbe6"/>
<circle cx="61.18" cy="937.80" r="2.15" fill="#86cbe6"/>
<circle cx="66.55" cy="938.80" r="2.15" fill="#ef7a6a"/>
<circle cx="71.92" cy="939.60" r="2.15" fill="#86cbe6"/>
<circle cx="77.29" cy="940.80" r="2.15" fill="#86cbe6"/>
<circle cx="82.66" cy="941.80" r="2.15" fill="#ef7a6a"/>
<circle cx="88.03" cy="942.70" r="2.15" fill="#86cbe6"/>
<circle cx="93.40" cy="945.70" r="2.15" fill="#86cbe6"/>
<circle cx="98.77" cy="947.80" r="2.15" fill="#86cbe6"/>
<circle cx="104.14" cy="948.70" r="2.15" fill="#ef7a6a"/>
<circle cx="109.51" cy="950.80" r="2.15" fill="#ef7a6a"/>
<circle cx="114.88" cy="955.80" r="2.15" fill="#86cbe6"/>
<circle cx="120.25" cy="957.70" r="2.15" fill="#86cbe6"/>
<circle cx="125.62" cy="960.00" r="2.15" fill="#ef7a6a"/>
<circle cx="130.99" cy="960.90" r="2.15" fill="#ef7a6a"/>
<circle cx="136.36" cy="961.90" r="2.15" fill="#86cbe6"/>
<circle cx="141.73" cy="962.80" r="2.15" fill="#86cbe6"/>
<circle cx="147.10" cy="965.80" r="2.15" fill="#86cbe6"/>
<circle cx="152.47" cy="966.80" r="2.15" fill="#86cbe6"/>
<circle cx="157.84" cy="967.90" r="2.15" fill="#86cbe6"/>
<circle cx="163.21" cy="969.00" r="2.15" fill="#86cbe6"/>
<circle cx="168.58" cy="970.20" r="2.15" fill="#86cbe6"/>
<circle cx="173.95" cy="970.90" r="2.15" fill="#86cbe6"/>
<circle cx="179.32" cy="971.90" r="2.15" fill="#86cbe6"/>
<circle cx="184.69" cy="974.00" r="2.15" fill="#86cbe6"/>
<circle cx="190.06" cy="976.00" r="2.15" fill="#86cbe6"/>
<circle cx="195.43" cy="976.80" r="2.15" fill="#86cbe6"/>
<circle cx="200.80" cy="979.10" r="2.15" fill="#86cbe6"/>
<circle cx="206.17" cy="980.00" r="2.15" fill="#86cbe6"/>
<circle cx="211.54" cy="981.00" r="2.15" fill="#86cbe6"/>
<circle cx="216.91" cy="982.10" r="2.15" fill="#86cbe6"/>
<circle cx="222.28" cy="982.80" r="2.15" fill="#86cbe6"/>
<circle cx="227.65" cy="984.00" r="2.15" fill="#86cbe6"/>
<circle cx="233.02" cy="985.10" r="2.15" fill="#86cbe6"/>
<circle cx="238.39" cy="986.00" r="2.15" fill="#9dcd7c"/>
<circle cx="243.76" cy="987.90" r="2.15" fill="#86cbe6"/>
<circle cx="249.13" cy="988.90" r="2.15" fill="#86cbe6"/>
<circle cx="254.50" cy="990.00" r="2.15" fill="#86cbe6"/>
<circle cx="259.87" cy="991.00" r="2.15" fill="#86cbe6"/>
<circle cx="265.24" cy="991.90" r="2.15" fill="#86cbe6"/>
<circle cx="270.61" cy="992.80" r="2.15" fill="#86cbe6"/>
<circle cx="275.98" cy="993.80" r="2.15" fill="#9dcd7c"/>
<circle cx="281.35" cy="995.10" r="2.15" fill="#86cbe6"/>
<circle cx="286.72" cy="996.00" r="2.15" fill="#86cbe6"/>
<circle cx="292.09" cy="997.90" r="2.15" fill="#86cbe6"/>
<circle cx="297.46" cy="1000.00" r="2.15" fill="#86cbe6"/>
<circle cx="302.83" cy="1001.10" r="2.15" fill="#86cbe6"/>
<circle cx="308.20" cy="1002.10" r="2.15" fill="#86cbe6"/>
<circle cx="313.57" cy="1003.00" r="2.15" fill="#ef7a6a"/>
<circle cx="318.94" cy="1004.00" r="2.15" fill="#86cbe6"/>
<circle cx="324.31" cy="1004.90" r="2.15" fill="#86cbe6"/>
<circle cx="329.68" cy="1006.20" r="2.15" fill="#86cbe6"/>
<circle cx="335.05" cy="1007.20" r="2.15" fill="#86cbe6"/>
<circle cx="340.42" cy="1008.30" r="2.15" fill="#86cbe6"/>
<circle cx="345.79" cy="1009.00" r="2.15" fill="#86cbe6"/>
<circle cx="351.16" cy="1010.00" r="2.15" fill="#86cbe6"/>
<circle cx="356.53" cy="1010.90" r="2.15" fill="#9dcd7c"/>
<circle cx="361.90" cy="1011.90" r="2.15" fill="#86cbe6"/>
<line x1="36.50" y1="906.50" x2="36.50" y2="1036.60" stroke="#6d6e71" stroke-width="0.9"/>
<line x1="36.50" y1="1036.60" x2="365.00" y2="1036.60" stroke="#6d6e71" stroke-width="0.9"/>
<line x1="33.90" y1="938.70" x2="36.50" y2="938.70" stroke="#6d6e71" stroke-width="1.0"/>
<text x="29.00" y="941.90" font-size="9.2" text-anchor="end" fill="#333333">0.8</text>
<line x1="33.90" y1="975.30" x2="36.50" y2="975.30" stroke="#6d6e71" stroke-width="1.0"/>
<text x="29.00" y="978.50" font-size="9.2" text-anchor="end" fill="#333333">0.4</text>
<line x1="33.90" y1="1011.90" x2="36.50" y2="1011.90" stroke="#6d6e71" stroke-width="1.0"/>
<text x="29.00" y="1015.10" font-size="9.2" text-anchor="end" fill="#333333">0</text>
<line x1="39.70" y1="1036.60" x2="39.70" y2="1039.20" stroke="#6d6e71" stroke-width="1.0"/>
<text x="39.70" y="1048.60" font-size="8.3" text-anchor="middle" fill="#333333">1</text>
<line x1="88.03" y1="1036.60" x2="88.03" y2="1039.20" stroke="#6d6e71" stroke-width="1.0"/>
<text x="88.03" y="1048.60" font-size="8.3" text-anchor="middle" fill="#333333">10</text>
<line x1="141.73" y1="1036.60" x2="141.73" y2="1039.20" stroke="#6d6e71" stroke-width="1.0"/>
<text x="141.73" y="1048.60" font-size="8.3" text-anchor="middle" fill="#333333">20</text>
<line x1="195.43" y1="1036.60" x2="195.43" y2="1039.20" stroke="#6d6e71" stroke-width="1.0"/>
<text x="195.43" y="1048.60" font-size="8.3" text-anchor="middle" fill="#333333">30</text>
<line x1="249.13" y1="1036.60" x2="249.13" y2="1039.20" stroke="#6d6e71" stroke-width="1.0"/>
<text x="249.13" y="1048.60" font-size="8.3" text-anchor="middle" fill="#333333">40</text>
<line x1="302.83" y1="1036.60" x2="302.83" y2="1039.20" stroke="#6d6e71" stroke-width="1.0"/>
<text x="302.83" y="1048.60" font-size="8.3" text-anchor="middle" fill="#333333">50</text>
<line x1="356.53" y1="1036.60" x2="356.53" y2="1039.20" stroke="#6d6e71" stroke-width="1.0"/>
<text x="356.53" y="1048.60" font-size="8.3" text-anchor="middle" fill="#333333">60</text>
<text x="200.50" y="904.50" font-size="10.4" text-anchor="middle" fill="#333333">Lactate m + 3/Glucose m + 6</text>
<text x="365.30" y="906.60" font-size="8.4" fill="#333333" text-anchor="end"><tspan font-style="italic">P</tspan> = 0.01</text>
<text x="200.70" y="1065.50" font-size="10.4" text-anchor="middle" fill="#333333">Samples</text>
<text x="8.60" y="972.00" font-size="10.4" text-anchor="middle" fill="#333333" transform="rotate(-90 8.60 972.00)">Predicted abundance</text>
<line x1="397.00" y1="906.50" x2="397.00" y2="1037.10" stroke="#f1f1f1" stroke-width="0.6"/>
<line x1="402.37" y1="906.50" x2="402.37" y2="1037.10" stroke="#f1f1f1" stroke-width="0.6"/>
<line x1="407.74" y1="906.50" x2="407.74" y2="1037.10" stroke="#f1f1f1" stroke-width="0.6"/>
<line x1="413.11" y1="906.50" x2="413.11" y2="1037.10" stroke="#f1f1f1" stroke-width="0.6"/>
<line x1="418.48" y1="906.50" x2="418.48" y2="1037.10" stroke="#f1f1f1" stroke-width="0.6"/>
<line x1="423.85" y1="906.50" x2="423.85" y2="1037.10" stroke="#f1f1f1" stroke-width="0.6"/>
<line x1="429.22" y1="906.50" x2="429.22" y2="1037.10" stroke="#f1f1f1" stroke-width="0.6"/>
<line x1="434.59" y1="906.50" x2="434.59" y2="1037.10" stroke="#f1f1f1" stroke-width="0.6"/>
<line x1="439.96" y1="906.50" x2="439.96" y2="1037.10" stroke="#f1f1f1" stroke-width="0.6"/>
<line x1="445.33" y1="906.50" x2="445.33" y2="1037.10" stroke="#f1f1f1" stroke-width="0.6"/>
<line x1="450.70" y1="906.50" x2="450.70" y2="1037.10" stroke="#f1f1f1" stroke-width="0.6"/>
<line x1="456.07" y1="906.50" x2="456.07" y2="1037.10" stroke="#f1f1f1" stroke-width="0.6"/>
<line x1="461.44" y1="906.50" x2="461.44" y2="1037.10" stroke="#f1f1f1" stroke-width="0.6"/>
<line x1="466.81" y1="906.50" x2="466.81" y2="1037.10" stroke="#f1f1f1" stroke-width="0.6"/>
<line x1="472.18" y1="906.50" x2="472.18" y2="1037.10" stroke="#f1f1f1" stroke-width="0.6"/>
<line x1="477.55" y1="906.50" x2="477.55" y2="1037.10" stroke="#f1f1f1" stroke-width="0.6"/>
<line x1="482.92" y1="906.50" x2="482.92" y2="1037.10" stroke="#f1f1f1" stroke-width="0.6"/>
<line x1="488.29" y1="906.50" x2="488.29" y2="1037.10" stroke="#f1f1f1" stroke-width="0.6"/>
<line x1="493.66" y1="906.50" x2="493.66" y2="1037.10" stroke="#f1f1f1" stroke-width="0.6"/>
<line x1="499.03" y1="906.50" x2="499.03" y2="1037.10" stroke="#f1f1f1" stroke-width="0.6"/>
<line x1="504.40" y1="906.50" x2="504.40" y2="1037.10" stroke="#f1f1f1" stroke-width="0.6"/>
<line x1="509.77" y1="906.50" x2="509.77" y2="1037.10" stroke="#f1f1f1" stroke-width="0.6"/>
<line x1="515.14" y1="906.50" x2="515.14" y2="1037.10" stroke="#f1f1f1" stroke-width="0.6"/>
<line x1="520.51" y1="906.50" x2="520.51" y2="1037.10" stroke="#f1f1f1" stroke-width="0.6"/>
<line x1="525.88" y1="906.50" x2="525.88" y2="1037.10" stroke="#f1f1f1" stroke-width="0.6"/>
<line x1="531.25" y1="906.50" x2="531.25" y2="1037.10" stroke="#f1f1f1" stroke-width="0.6"/>
<line x1="536.62" y1="906.50" x2="536.62" y2="1037.10" stroke="#f1f1f1" stroke-width="0.6"/>
<line x1="541.99" y1="906.50" x2="541.99" y2="1037.10" stroke="#f1f1f1" stroke-width="0.6"/>
<line x1="547.36" y1="906.50" x2="547.36" y2="1037.10" stroke="#f1f1f1" stroke-width="0.6"/>
<line x1="552.73" y1="906.50" x2="552.73" y2="1037.10" stroke="#f1f1f1" stroke-width="0.6"/>
<line x1="558.10" y1="906.50" x2="558.10" y2="1037.10" stroke="#f1f1f1" stroke-width="0.6"/>
<line x1="563.47" y1="906.50" x2="563.47" y2="1037.10" stroke="#f1f1f1" stroke-width="0.6"/>
<line x1="568.84" y1="906.50" x2="568.84" y2="1037.10" stroke="#f1f1f1" stroke-width="0.6"/>
<line x1="574.21" y1="906.50" x2="574.21" y2="1037.10" stroke="#f1f1f1" stroke-width="0.6"/>
<line x1="579.58" y1="906.50" x2="579.58" y2="1037.10" stroke="#f1f1f1" stroke-width="0.6"/>
<line x1="584.95" y1="906.50" x2="584.95" y2="1037.10" stroke="#f1f1f1" stroke-width="0.6"/>
<line x1="590.32" y1="906.50" x2="590.32" y2="1037.10" stroke="#f1f1f1" stroke-width="0.6"/>
<line x1="595.69" y1="906.50" x2="595.69" y2="1037.10" stroke="#f1f1f1" stroke-width="0.6"/>
<line x1="601.06" y1="906.50" x2="601.06" y2="1037.10" stroke="#f1f1f1" stroke-width="0.6"/>
<line x1="606.43" y1="906.50" x2="606.43" y2="1037.10" stroke="#f1f1f1" stroke-width="0.6"/>
<line x1="611.80" y1="906.50" x2="611.80" y2="1037.10" stroke="#f1f1f1" stroke-width="0.6"/>
<line x1="617.17" y1="906.50" x2="617.17" y2="1037.10" stroke="#f1f1f1" stroke-width="0.6"/>
<line x1="622.54" y1="906.50" x2="622.54" y2="1037.10" stroke="#f1f1f1" stroke-width="0.6"/>
<line x1="627.91" y1="906.50" x2="627.91" y2="1037.10" stroke="#f1f1f1" stroke-width="0.6"/>
<line x1="633.28" y1="906.50" x2="633.28" y2="1037.10" stroke="#f1f1f1" stroke-width="0.6"/>
<line x1="638.65" y1="906.50" x2="638.65" y2="1037.10" stroke="#f1f1f1" stroke-width="0.6"/>
<line x1="644.02" y1="906.50" x2="644.02" y2="1037.10" stroke="#f1f1f1" stroke-width="0.6"/>
<line x1="649.39" y1="906.50" x2="649.39" y2="1037.10" stroke="#f1f1f1" stroke-width="0.6"/>
<line x1="654.76" y1="906.50" x2="654.76" y2="1037.10" stroke="#f1f1f1" stroke-width="0.6"/>
<line x1="660.13" y1="906.50" x2="660.13" y2="1037.10" stroke="#f1f1f1" stroke-width="0.6"/>
<line x1="665.50" y1="906.50" x2="665.50" y2="1037.10" stroke="#f1f1f1" stroke-width="0.6"/>
<line x1="670.87" y1="906.50" x2="670.87" y2="1037.10" stroke="#f1f1f1" stroke-width="0.6"/>
<line x1="676.24" y1="906.50" x2="676.24" y2="1037.10" stroke="#f1f1f1" stroke-width="0.6"/>
<line x1="681.61" y1="906.50" x2="681.61" y2="1037.10" stroke="#f1f1f1" stroke-width="0.6"/>
<line x1="686.98" y1="906.50" x2="686.98" y2="1037.10" stroke="#f1f1f1" stroke-width="0.6"/>
<line x1="692.35" y1="906.50" x2="692.35" y2="1037.10" stroke="#f1f1f1" stroke-width="0.6"/>
<line x1="697.72" y1="906.50" x2="697.72" y2="1037.10" stroke="#f1f1f1" stroke-width="0.6"/>
<line x1="703.09" y1="906.50" x2="703.09" y2="1037.10" stroke="#f1f1f1" stroke-width="0.6"/>
<line x1="708.46" y1="906.50" x2="708.46" y2="1037.10" stroke="#f1f1f1" stroke-width="0.6"/>
<line x1="713.83" y1="906.50" x2="713.83" y2="1037.10" stroke="#f1f1f1" stroke-width="0.6"/>
<line x1="719.20" y1="906.50" x2="719.20" y2="1037.10" stroke="#f1f1f1" stroke-width="0.6"/>
<line x1="393.70" y1="908.50" x2="722.20" y2="908.50" stroke="#f1f1f1" stroke-width="0.6"/>
<line x1="393.70" y1="943.80" x2="722.20" y2="943.80" stroke="#f1f1f1" stroke-width="0.6"/>
<line x1="393.70" y1="979.10" x2="722.20" y2="979.10" stroke="#f1f1f1" stroke-width="0.6"/>
<line x1="393.70" y1="1014.40" x2="722.20" y2="1014.40" stroke="#f1f1f1" stroke-width="0.6"/>
<line x1="397.00" y1="914.10" x2="397.00" y2="942.10" stroke="#c4c4c4" stroke-width="0.7"/>
<line x1="402.37" y1="913.94" x2="402.37" y2="943.66" stroke="#c4c4c4" stroke-width="0.7"/>
<line x1="407.74" y1="914.17" x2="407.74" y2="945.43" stroke="#c4c4c4" stroke-width="0.7"/>
<line x1="413.11" y1="914.67" x2="413.11" y2="947.33" stroke="#c4c4c4" stroke-width="0.7"/>
<line x1="418.48" y1="915.03" x2="418.48" y2="948.97" stroke="#c4c4c4" stroke-width="0.7"/>
<line x1="423.85" y1="915.36" x2="423.85" y2="950.44" stroke="#c4c4c4" stroke-width="0.7"/>
<line x1="429.22" y1="915.84" x2="429.22" y2="951.96" stroke="#c4c4c4" stroke-width="0.7"/>
<line x1="434.59" y1="916.37" x2="434.59" y2="953.43" stroke="#c4c4c4" stroke-width="0.7"/>
<line x1="439.96" y1="916.94" x2="439.96" y2="954.86" stroke="#c4c4c4" stroke-width="0.7"/>
<line x1="445.33" y1="917.46" x2="445.33" y2="956.14" stroke="#c4c4c4" stroke-width="0.7"/>
<line x1="450.70" y1="918.11" x2="450.70" y2="957.49" stroke="#c4c4c4" stroke-width="0.7"/>
<line x1="456.07" y1="918.80" x2="456.07" y2="958.80" stroke="#c4c4c4" stroke-width="0.7"/>
<line x1="461.44" y1="919.41" x2="461.44" y2="959.99" stroke="#c4c4c4" stroke-width="0.7"/>
<line x1="466.81" y1="921.15" x2="466.81" y2="962.25" stroke="#c4c4c4" stroke-width="0.7"/>
<line x1="472.18" y1="921.62" x2="472.18" y2="963.18" stroke="#c4c4c4" stroke-width="0.7"/>
<line x1="477.55" y1="922.41" x2="477.55" y2="964.39" stroke="#c4c4c4" stroke-width="0.7"/>
<line x1="482.92" y1="924.12" x2="482.92" y2="966.48" stroke="#c4c4c4" stroke-width="0.7"/>
<line x1="488.29" y1="924.94" x2="488.29" y2="967.66" stroke="#c4c4c4" stroke-width="0.7"/>
<line x1="493.66" y1="925.79" x2="493.66" y2="968.81" stroke="#c4c4c4" stroke-width="0.7"/>
<line x1="499.03" y1="926.55" x2="499.03" y2="969.85" stroke="#c4c4c4" stroke-width="0.7"/>
<line x1="504.40" y1="927.42" x2="504.40" y2="970.98" stroke="#c4c4c4" stroke-width="0.7"/>
<line x1="509.77" y1="928.30" x2="509.77" y2="972.10" stroke="#c4c4c4" stroke-width="0.7"/>
<line x1="515.14" y1="929.10" x2="515.14" y2="973.10" stroke="#c4c4c4" stroke-width="0.7"/>
<line x1="520.51" y1="930.00" x2="520.51" y2="974.20" stroke="#c4c4c4" stroke-width="0.7"/>
<line x1="525.88" y1="930.92" x2="525.88" y2="975.28" stroke="#c4c4c4" stroke-width="0.7"/>
<line x1="531.25" y1="931.74" x2="531.25" y2="976.26" stroke="#c4c4c4" stroke-width="0.7"/>
<line x1="536.62" y1="932.67" x2="536.62" y2="977.33" stroke="#c4c4c4" stroke-width="0.7"/>
<line x1="541.99" y1="934.60" x2="541.99" y2="979.40" stroke="#c4c4c4" stroke-width="0.7"/>
<line x1="547.36" y1="935.45" x2="547.36" y2="980.35" stroke="#c4c4c4" stroke-width="0.7"/>
<line x1="552.73" y1="936.40" x2="552.73" y2="981.40" stroke="#c4c4c4" stroke-width="0.7"/>
<line x1="558.10" y1="937.35" x2="558.10" y2="982.45" stroke="#c4c4c4" stroke-width="0.7"/>
<line x1="563.47" y1="938.21" x2="563.47" y2="983.39" stroke="#c4c4c4" stroke-width="0.7"/>
<line x1="568.84" y1="938.97" x2="568.84" y2="984.23" stroke="#c4c4c4" stroke-width="0.7"/>
<line x1="574.21" y1="939.83" x2="574.21" y2="985.17" stroke="#c4c4c4" stroke-width="0.7"/>
<line x1="579.58" y1="940.80" x2="579.58" y2="986.20" stroke="#c4c4c4" stroke-width="0.7"/>
<line x1="584.95" y1="941.77" x2="584.95" y2="987.23" stroke="#c4c4c4" stroke-width="0.7"/>
<line x1="590.32" y1="942.65" x2="590.32" y2="988.15" stroke="#c4c4c4" stroke-width="0.7"/>
<line x1="595.69" y1="943.62" x2="595.69" y2="989.18" stroke="#c4c4c4" stroke-width="0.7"/>
<line x1="601.06" y1="944.60" x2="601.06" y2="990.20" stroke="#c4c4c4" stroke-width="0.7"/>
<line x1="606.43" y1="945.58" x2="606.43" y2="991.22" stroke="#c4c4c4" stroke-width="0.7"/>
<line x1="611.80" y1="946.46" x2="611.80" y2="992.14" stroke="#c4c4c4" stroke-width="0.7"/>
<line x1="617.17" y1="947.45" x2="617.17" y2="993.15" stroke="#c4c4c4" stroke-width="0.7"/>
<line x1="622.54" y1="949.33" x2="622.54" y2="995.07" stroke="#c4c4c4" stroke-width="0.7"/>
<line x1="627.91" y1="950.32" x2="627.91" y2="996.08" stroke="#c4c4c4" stroke-width="0.7"/>
<line x1="633.28" y1="951.31" x2="633.28" y2="997.09" stroke="#c4c4c4" stroke-width="0.7"/>
<line x1="638.65" y1="952.30" x2="638.65" y2="998.10" stroke="#c4c4c4" stroke-width="0.7"/>
<line x1="644.02" y1="953.99" x2="644.02" y2="999.81" stroke="#c4c4c4" stroke-width="0.7"/>
<line x1="649.39" y1="954.88" x2="649.39" y2="1000.72" stroke="#c4c4c4" stroke-width="0.7"/>
<line x1="654.76" y1="956.07" x2="654.76" y2="1001.93" stroke="#c4c4c4" stroke-width="0.7"/>
<line x1="660.13" y1="958.77" x2="660.13" y2="1004.63" stroke="#c4c4c4" stroke-width="0.7"/>
<line x1="665.50" y1="959.76" x2="665.50" y2="1005.64" stroke="#c4c4c4" stroke-width="0.7"/>
<line x1="670.87" y1="960.65" x2="670.87" y2="1006.55" stroke="#c4c4c4" stroke-width="0.7"/>
<line x1="676.24" y1="964.55" x2="676.24" y2="1010.45" stroke="#c4c4c4" stroke-width="0.7"/>
<line x1="681.61" y1="966.54" x2="681.61" y2="1012.46" stroke="#c4c4c4" stroke-width="0.7"/>
<line x1="686.98" y1="970.34" x2="686.98" y2="1016.26" stroke="#c4c4c4" stroke-width="0.7"/>
<line x1="692.35" y1="972.04" x2="692.35" y2="1017.96" stroke="#c4c4c4" stroke-width="0.7"/>
<line x1="697.72" y1="976.93" x2="697.72" y2="1022.87" stroke="#c4c4c4" stroke-width="0.7"/>
<line x1="703.09" y1="979.83" x2="703.09" y2="1025.77" stroke="#c4c4c4" stroke-width="0.7"/>
<line x1="708.46" y1="983.73" x2="708.46" y2="1029.67" stroke="#c4c4c4" stroke-width="0.7"/>
<line x1="713.83" y1="984.72" x2="713.83" y2="1030.68" stroke="#c4c4c4" stroke-width="0.7"/>
<line x1="719.20" y1="985.62" x2="719.20" y2="1031.58" stroke="#c4c4c4" stroke-width="0.7"/>
<circle cx="397.00" cy="928.10" r="2.15" fill="#86cbe6"/>
<circle cx="402.37" cy="928.80" r="2.15" fill="#86cbe6"/>
<circle cx="407.74" cy="929.80" r="2.15" fill="#86cbe6"/>
<circle cx="413.11" cy="931.00" r="2.15" fill="#86cbe6"/>
<circle cx="418.48" cy="932.00" r="2.15" fill="#86cbe6"/>
<circle cx="423.85" cy="932.90" r="2.15" fill="#86cbe6"/>
<circle cx="429.22" cy="933.90" r="2.15" fill="#86cbe6"/>
<circle cx="434.59" cy="934.90" r="2.15" fill="#86cbe6"/>
<circle cx="439.96" cy="935.90" r="2.15" fill="#86cbe6"/>
<circle cx="445.33" cy="936.80" r="2.15" fill="#86cbe6"/>
<circle cx="450.70" cy="937.80" r="2.15" fill="#ef7a6a"/>
<circle cx="456.07" cy="938.80" r="2.15" fill="#86cbe6"/>
<circle cx="461.44" cy="939.70" r="2.15" fill="#86cbe6"/>
<circle cx="466.81" cy="941.70" r="2.15" fill="#86cbe6"/>
<circle cx="472.18" cy="942.40" r="2.15" fill="#86cbe6"/>
<circle cx="477.55" cy="943.40" r="2.15" fill="#86cbe6"/>
<circle cx="482.92" cy="945.30" r="2.15" fill="#86cbe6"/>
<circle cx="488.29" cy="946.30" r="2.15" fill="#86cbe6"/>
<circle cx="493.66" cy="947.30" r="2.15" fill="#86cbe6"/>
<circle cx="499.03" cy="948.20" r="2.15" fill="#86cbe6"/>
<circle cx="504.40" cy="949.20" r="2.15" fill="#86cbe6"/>
<circle cx="509.77" cy="950.20" r="2.15" fill="#86cbe6"/>
<circle cx="515.14" cy="951.10" r="2.15" fill="#ef7a6a"/>
<circle cx="520.51" cy="952.10" r="2.15" fill="#86cbe6"/>
<circle cx="525.88" cy="953.10" r="2.15" fill="#9dcd7c"/>
<circle cx="531.25" cy="954.00" r="2.15" fill="#86cbe6"/>
<circle cx="536.62" cy="955.00" r="2.15" fill="#86cbe6"/>
<circle cx="541.99" cy="957.00" r="2.15" fill="#86cbe6"/>
<circle cx="547.36" cy="957.90" r="2.15" fill="#86cbe6"/>
<circle cx="552.73" cy="958.90" r="2.15" fill="#86cbe6"/>
<circle cx="558.10" cy="959.90" r="2.15" fill="#86cbe6"/>
<circle cx="563.47" cy="960.80" r="2.15" fill="#86cbe6"/>
<circle cx="568.84" cy="961.60" r="2.15" fill="#86cbe6"/>
<circle cx="574.21" cy="962.50" r="2.15" fill="#9dcd7c"/>
<circle cx="579.58" cy="963.50" r="2.15" fill="#86cbe6"/>
<circle cx="584.95" cy="964.50" r="2.15" fill="#ef7a6a"/>
<circle cx="590.32" cy="965.40" r="2.15" fill="#86cbe6"/>
<circle cx="595.69" cy="966.40" r="2.15" fill="#86cbe6"/>
<circle cx="601.06" cy="967.40" r="2.15" fill="#86cbe6"/>
<circle cx="606.43" cy="968.40" r="2.15" fill="#86cbe6"/>
<circle cx="611.80" cy="969.30" r="2.15" fill="#86cbe6"/>
<circle cx="617.17" cy="970.30" r="2.15" fill="#ef7a6a"/>
<circle cx="622.54" cy="972.20" r="2.15" fill="#86cbe6"/>
<circle cx="627.91" cy="973.20" r="2.15" fill="#86cbe6"/>
<circle cx="633.28" cy="974.20" r="2.15" fill="#86cbe6"/>
<circle cx="638.65" cy="975.20" r="2.15" fill="#86cbe6"/>
<circle cx="644.02" cy="976.90" r="2.15" fill="#86cbe6"/>
<circle cx="649.39" cy="977.80" r="2.15" fill="#86cbe6"/>
<circle cx="654.76" cy="979.00" r="2.15" fill="#86cbe6"/>
<circle cx="660.13" cy="981.70" r="2.15" fill="#86cbe6"/>
<circle cx="665.50" cy="982.70" r="2.15" fill="#86cbe6"/>
<circle cx="670.87" cy="983.60" r="2.15" fill="#86cbe6"/>
<circle cx="676.24" cy="987.50" r="2.15" fill="#86cbe6"/>
<circle cx="681.61" cy="989.50" r="2.15" fill="#9dcd7c"/>
<circle cx="686.98" cy="993.30" r="2.15" fill="#86cbe6"/>
<circle cx="692.35" cy="995.00" r="2.15" fill="#86cbe6"/>
<circle cx="697.72" cy="999.90" r="2.15" fill="#ef7a6a"/>
<circle cx="703.09" cy="1002.80" r="2.15" fill="#ef7a6a"/>
<circle cx="708.46" cy="1006.70" r="2.15" fill="#ef7a6a"/>
<circle cx="713.83" cy="1007.70" r="2.15" fill="#86cbe6"/>
<circle cx="719.20" cy="1008.60" r="2.15" fill="#ef7a6a"/>
<line x1="393.70" y1="906.50" x2="393.70" y2="1037.10" stroke="#6d6e71" stroke-width="0.9"/>
<line x1="393.70" y1="1037.10" x2="722.20" y2="1037.10" stroke="#6d6e71" stroke-width="0.9"/>
<line x1="391.10" y1="908.50" x2="393.70" y2="908.50" stroke="#6d6e71" stroke-width="1.0"/>
<text x="386.20" y="911.70" font-size="9.2" text-anchor="end" fill="#333333">1.2</text>
<line x1="391.10" y1="943.80" x2="393.70" y2="943.80" stroke="#6d6e71" stroke-width="1.0"/>
<text x="386.20" y="947.00" font-size="9.2" text-anchor="end" fill="#333333">0.8</text>
<line x1="391.10" y1="979.10" x2="393.70" y2="979.10" stroke="#6d6e71" stroke-width="1.0"/>
<text x="386.20" y="982.30" font-size="9.2" text-anchor="end" fill="#333333">0.4</text>
<line x1="391.10" y1="1014.40" x2="393.70" y2="1014.40" stroke="#6d6e71" stroke-width="1.0"/>
<text x="386.20" y="1017.60" font-size="9.2" text-anchor="end" fill="#333333">0</text>
<line x1="397.00" y1="1037.10" x2="397.00" y2="1039.70" stroke="#6d6e71" stroke-width="1.0"/>
<text x="397.00" y="1049.10" font-size="8.3" text-anchor="middle" fill="#333333">1</text>
<line x1="445.33" y1="1037.10" x2="445.33" y2="1039.70" stroke="#6d6e71" stroke-width="1.0"/>
<text x="445.33" y="1049.10" font-size="8.3" text-anchor="middle" fill="#333333">10</text>
<line x1="499.03" y1="1037.10" x2="499.03" y2="1039.70" stroke="#6d6e71" stroke-width="1.0"/>
<text x="499.03" y="1049.10" font-size="8.3" text-anchor="middle" fill="#333333">20</text>
<line x1="552.73" y1="1037.10" x2="552.73" y2="1039.70" stroke="#6d6e71" stroke-width="1.0"/>
<text x="552.73" y="1049.10" font-size="8.3" text-anchor="middle" fill="#333333">30</text>
<line x1="606.43" y1="1037.10" x2="606.43" y2="1039.70" stroke="#6d6e71" stroke-width="1.0"/>
<text x="606.43" y="1049.10" font-size="8.3" text-anchor="middle" fill="#333333">40</text>
<line x1="660.13" y1="1037.10" x2="660.13" y2="1039.70" stroke="#6d6e71" stroke-width="1.0"/>
<text x="660.13" y="1049.10" font-size="8.3" text-anchor="middle" fill="#333333">50</text>
<line x1="713.83" y1="1037.10" x2="713.83" y2="1039.70" stroke="#6d6e71" stroke-width="1.0"/>
<text x="713.83" y="1049.10" font-size="8.3" text-anchor="middle" fill="#333333">60</text>
<text x="557.50" y="904.80" font-size="10.4" text-anchor="middle" fill="#333333">Citrate m + 2/Glucose m + 6</text>
<text x="721.00" y="903.30" font-size="8.4" fill="#333333" text-anchor="end"><tspan font-style="italic">P</tspan> = 0.03</text>
<text x="557.50" y="1065.50" font-size="10.4" text-anchor="middle" fill="#333333">Samples</text>
<text x="245.80" y="1080.20" font-size="10.4" font-style="italic" fill="#333333">Sample type</text>
<circle cx="311.50" cy="1077.20" r="4.1" fill="#ef7a6a"/>
<text x="319.10" y="1080.20" font-size="8.9" fill="#333333">Complex I indel</text>
<circle cx="399.50" cy="1077.20" r="4.1" fill="#9dcd7c"/>
<text x="407.20" y="1080.20" font-size="8.9" fill="#333333">Complex I SNV</text>
<circle cx="484.60" cy="1077.20" r="4.1" fill="#86cbe6"/>
<text x="492.80" y="1080.20" font-size="8.9" fill="#333333">WT</text>
</svg></body></html>
